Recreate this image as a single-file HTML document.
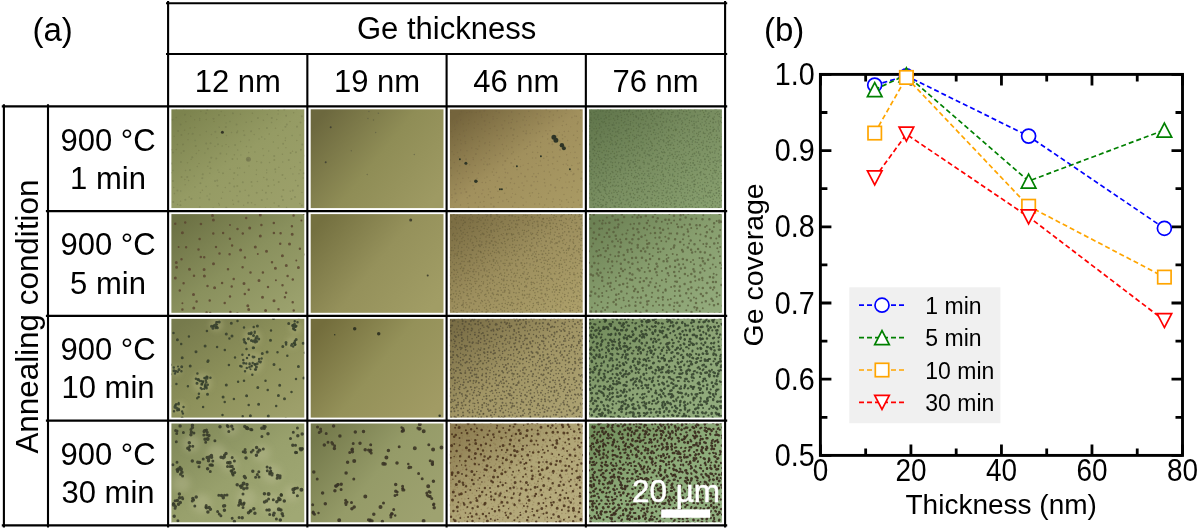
<!DOCTYPE html>
<html><head><meta charset="utf-8"><title>Ge coverage figure</title>
<style>html,body{margin:0;padding:0;background:#fff;width:1200px;height:532px;overflow:hidden}svg{display:block}</style></head>
<body><svg width="1200" height="532" viewBox="0 0 1200 532" font-family="'Liberation Sans', Arial, sans-serif">
<defs><linearGradient id="g00" x1="0" y1="0" x2="1" y2="1"><stop offset="0.06" stop-color="#7c834e"/><stop offset="0.5" stop-color="#959b64"/><stop offset="0.93" stop-color="#9ca06a"/></linearGradient><clipPath id="c00"><rect x="171.4" y="109.3" width="132.9" height="98.8"/></clipPath><filter id="f000" filterUnits="userSpaceOnUse" x="167.4" y="105.3" width="140.9" height="106.8"><feGaussianBlur stdDeviation="0.5"/></filter><filter id="f001" filterUnits="userSpaceOnUse" x="167.4" y="105.3" width="140.9" height="106.8"><feGaussianBlur stdDeviation="0.4"/></filter><filter id="f002" filterUnits="userSpaceOnUse" x="167.4" y="105.3" width="140.9" height="106.8"><feGaussianBlur stdDeviation="0.6"/></filter><linearGradient id="g01" x1="0" y1="0.2" x2="1" y2="0.8"><stop offset="0.0" stop-color="#6c683e"/><stop offset="0.5" stop-color="#8f8d56"/><stop offset="1.0" stop-color="#9e9a63"/></linearGradient><clipPath id="c01"><rect x="310.7" y="109.3" width="132.8" height="98.8"/></clipPath><filter id="f010" filterUnits="userSpaceOnUse" x="306.7" y="105.3" width="140.8" height="106.8"><feGaussianBlur stdDeviation="0.5"/></filter><filter id="f011" filterUnits="userSpaceOnUse" x="306.7" y="105.3" width="140.8" height="106.8"><feGaussianBlur stdDeviation="0.5"/></filter><linearGradient id="g02" x1="0" y1="0" x2="1" y2="1"><stop offset="0.06" stop-color="#74643c"/><stop offset="0.5" stop-color="#a1905d"/><stop offset="0.93" stop-color="#a89963"/></linearGradient><clipPath id="c02"><rect x="449.9" y="109.3" width="132.8" height="98.8"/></clipPath><filter id="f020" filterUnits="userSpaceOnUse" x="445.9" y="105.3" width="140.8" height="106.8"><feGaussianBlur stdDeviation="0.5"/></filter><filter id="f021" filterUnits="userSpaceOnUse" x="445.9" y="105.3" width="140.8" height="106.8"><feGaussianBlur stdDeviation="0.4"/></filter><linearGradient id="g03" x1="0" y1="0" x2="1" y2="1"><stop offset="0.06" stop-color="#62774d"/><stop offset="0.5" stop-color="#798e61"/><stop offset="0.93" stop-color="#869d6d"/></linearGradient><clipPath id="c03"><rect x="589.1" y="109.3" width="132.8" height="98.8"/></clipPath><filter id="f030" filterUnits="userSpaceOnUse" x="585.1" y="105.3" width="140.8" height="106.8"><feGaussianBlur stdDeviation="0.5"/></filter><linearGradient id="g10" x1="0" y1="0" x2="1" y2="1"><stop offset="0.06" stop-color="#6c7144"/><stop offset="0.5" stop-color="#89905d"/><stop offset="0.93" stop-color="#9ba16d"/></linearGradient><clipPath id="c10"><rect x="171.4" y="214.1" width="132.9" height="98.7"/></clipPath><filter id="f100" filterUnits="userSpaceOnUse" x="167.4" y="210.1" width="140.9" height="106.7"><feGaussianBlur stdDeviation="0.7"/></filter><linearGradient id="g11" x1="0" y1="0.2" x2="1" y2="0.8"><stop offset="0.0" stop-color="#747040"/><stop offset="0.5" stop-color="#95915b"/><stop offset="1.0" stop-color="#a19d65"/></linearGradient><clipPath id="c11"><rect x="310.7" y="214.1" width="132.8" height="98.7"/></clipPath><filter id="f110" filterUnits="userSpaceOnUse" x="306.7" y="210.1" width="140.8" height="106.7"><feGaussianBlur stdDeviation="0.5"/></filter><linearGradient id="g12" x1="0" y1="0" x2="1" y2="1"><stop offset="0.06" stop-color="#7c6e44"/><stop offset="0.5" stop-color="#9d8f5e"/><stop offset="0.93" stop-color="#ab9e69"/></linearGradient><clipPath id="c12"><rect x="449.9" y="214.1" width="132.8" height="98.7"/></clipPath><filter id="f120" filterUnits="userSpaceOnUse" x="445.9" y="210.1" width="140.8" height="106.7"><feGaussianBlur stdDeviation="0.55"/></filter><linearGradient id="g13" x1="0" y1="0" x2="1" y2="1"><stop offset="0.06" stop-color="#6c8154"/><stop offset="0.5" stop-color="#879e6e"/><stop offset="0.93" stop-color="#92aa7b"/></linearGradient><clipPath id="c13"><rect x="589.1" y="214.1" width="132.8" height="98.7"/></clipPath><filter id="f130" filterUnits="userSpaceOnUse" x="585.1" y="210.1" width="140.8" height="106.7"><feGaussianBlur stdDeviation="0.65"/></filter><linearGradient id="g20" x1="0" y1="0" x2="1" y2="1"><stop offset="0.06" stop-color="#767a4c"/><stop offset="0.5" stop-color="#8d915b"/><stop offset="0.93" stop-color="#9d9f6a"/></linearGradient><clipPath id="c20"><rect x="171.4" y="318.8" width="132.9" height="98.8"/></clipPath><filter id="f200" filterUnits="userSpaceOnUse" x="167.4" y="314.8" width="140.9" height="106.8"><feGaussianBlur stdDeviation="2.5"/></filter><filter id="f201" filterUnits="userSpaceOnUse" x="167.4" y="314.8" width="140.9" height="106.8"><feGaussianBlur stdDeviation="0.7"/></filter><filter id="f202" filterUnits="userSpaceOnUse" x="167.4" y="314.8" width="140.9" height="106.8"><feGaussianBlur stdDeviation="0.7"/></filter><linearGradient id="g21" x1="0" y1="0.2" x2="1" y2="0.8"><stop offset="0.0" stop-color="#736d3c"/><stop offset="0.5" stop-color="#949159"/><stop offset="1.0" stop-color="#a19b64"/></linearGradient><clipPath id="c21"><rect x="310.7" y="318.8" width="132.8" height="98.8"/></clipPath><filter id="f210" filterUnits="userSpaceOnUse" x="306.7" y="314.8" width="140.8" height="106.8"><feGaussianBlur stdDeviation="0.4"/></filter><linearGradient id="g22" x1="0" y1="0" x2="1" y2="1"><stop offset="0.06" stop-color="#7a6e46"/><stop offset="0.5" stop-color="#a19565"/><stop offset="0.93" stop-color="#aba171"/></linearGradient><clipPath id="c22"><rect x="449.9" y="318.8" width="132.8" height="98.8"/></clipPath><filter id="f220" filterUnits="userSpaceOnUse" x="445.9" y="314.8" width="140.8" height="106.8"><feGaussianBlur stdDeviation="0.5"/></filter><linearGradient id="g23" x1="0" y1="0" x2="1" y2="1"><stop offset="0.06" stop-color="#748d5d"/><stop offset="0.5" stop-color="#8ba374"/><stop offset="0.93" stop-color="#92ad7e"/></linearGradient><clipPath id="c23"><rect x="589.1" y="318.8" width="132.8" height="98.8"/></clipPath><filter id="f230" filterUnits="userSpaceOnUse" x="585.1" y="314.8" width="140.8" height="106.8"><feGaussianBlur stdDeviation="0.6"/></filter><linearGradient id="g30" x1="0" y1="0" x2="1" y2="1"><stop offset="0.06" stop-color="#808858"/><stop offset="0.5" stop-color="#98a06c"/><stop offset="0.93" stop-color="#a0a874"/></linearGradient><clipPath id="c30"><rect x="171.4" y="423.5" width="132.9" height="98.8"/></clipPath><filter id="f300" filterUnits="userSpaceOnUse" x="167.4" y="419.5" width="140.9" height="106.8"><feGaussianBlur stdDeviation="3"/></filter><filter id="f301" filterUnits="userSpaceOnUse" x="167.4" y="419.5" width="140.9" height="106.8"><feGaussianBlur stdDeviation="0.75"/></filter><linearGradient id="g31" x1="0" y1="0.2" x2="1" y2="0.8"><stop offset="0.0" stop-color="#74794b"/><stop offset="0.5" stop-color="#959b68"/><stop offset="1.0" stop-color="#9ea270"/></linearGradient><clipPath id="c31"><rect x="310.7" y="423.5" width="132.8" height="98.8"/></clipPath><filter id="f310" filterUnits="userSpaceOnUse" x="306.7" y="419.5" width="140.8" height="106.8"><feGaussianBlur stdDeviation="0.75"/></filter><filter id="f311" filterUnits="userSpaceOnUse" x="306.7" y="419.5" width="140.8" height="106.8"><feGaussianBlur stdDeviation="0.75"/></filter><linearGradient id="g32" x1="0" y1="0" x2="1" y2="1"><stop offset="0.06" stop-color="#8c7c50"/><stop offset="0.5" stop-color="#b0a576"/><stop offset="0.93" stop-color="#b8ad7f"/></linearGradient><clipPath id="c32"><rect x="449.9" y="423.5" width="132.8" height="98.8"/></clipPath><filter id="f320" filterUnits="userSpaceOnUse" x="445.9" y="419.5" width="140.8" height="106.8"><feGaussianBlur stdDeviation="0.6"/></filter><filter id="f321" filterUnits="userSpaceOnUse" x="445.9" y="419.5" width="140.8" height="106.8"><feGaussianBlur stdDeviation="0.6"/></filter><linearGradient id="g33" x1="0" y1="0" x2="1" y2="1"><stop offset="0.06" stop-color="#718d5b"/><stop offset="0.5" stop-color="#8dab79"/><stop offset="0.93" stop-color="#92b081"/></linearGradient><clipPath id="c33"><rect x="589.1" y="423.5" width="132.8" height="98.8"/></clipPath><filter id="f330" filterUnits="userSpaceOnUse" x="585.1" y="419.5" width="140.8" height="106.8"><feGaussianBlur stdDeviation="0.7"/></filter></defs>
<rect x="171.4" y="109.3" width="132.9" height="98.8" fill="url(#g00)"/><g clip-path="url(#c00)"><g filter="url(#f000)"><path d="M176.3 109.5h0M183.7 109.3h0M193.5 106.7h0M200.9 111.3h0M221.2 111.5h0M229.3 107.0h0M240.8 107.4h0M247.2 108.5h0M251.3 106.7h0M262.5 108.9h0M269.4 109.0h0M278.2 110.5h0M304.3 109.2h0M176.2 117.4h0M190.7 116.3h0M199.7 118.5h0M224.8 115.6h0M240.4 114.3h0M252.4 113.3h0M267.3 114.5h0M278.1 113.9h0M293.7 112.8h0M185.8 121.7h0M194.7 119.7h0M199.7 120.3h0M206.2 119.4h0M214.0 121.5h0M226.1 123.0h0M229.9 121.4h0M246.2 122.3h0M251.5 121.4h0M263.4 120.3h0M271.6 122.5h0M276.7 119.5h0M290.0 121.6h0M184.6 130.3h0M190.3 128.0h0M194.8 127.6h0M206.3 131.6h0M219.3 127.2h0M237.6 130.9h0M243.6 130.7h0M259.2 128.7h0M275.5 128.3h0M282.8 130.2h0M305.5 129.8h0M310.4 126.7h0M174.2 136.3h0M188.4 133.7h0M200.0 134.9h0M211.4 134.5h0M216.9 137.8h0M226.4 135.4h0M231.5 132.5h0M254.2 134.4h0M261.7 137.1h0M269.3 133.9h0M278.0 135.4h0M285.5 137.9h0M292.1 135.4h0M300.1 135.1h0M177.4 144.6h0M188.0 139.7h0M195.1 140.4h0M226.0 144.6h0M240.6 141.5h0M249.2 140.1h0M259.0 139.0h0M264.8 139.0h0M273.4 142.0h0M285.3 140.5h0M296.8 140.5h0M171.8 149.7h0M176.2 149.6h0M198.8 150.6h0M215.0 146.2h0M222.3 146.1h0M228.7 146.7h0M237.7 150.0h0M246.4 146.5h0M251.0 147.0h0M262.8 148.8h0M268.7 151.1h0M278.3 148.0h0M285.9 147.8h0M292.5 151.3h0M305.8 147.5h0M181.2 153.0h0M196.3 153.4h0M204.9 152.9h0M226.5 154.1h0M234.4 154.8h0M240.9 155.0h0M248.7 152.5h0M254.9 152.1h0M263.5 155.5h0M282.4 154.3h0M312.0 152.8h0M187.5 162.7h0M191.1 159.3h0M199.0 163.5h0M225.4 161.5h0M237.4 158.9h0M256.8 161.5h0M269.6 162.4h0M282.7 161.9h0M300.1 162.6h0M306.5 161.3h0M172.9 170.4h0M185.5 170.6h0M197.3 166.6h0M207.8 166.3h0M217.9 169.9h0M230.0 169.2h0M237.5 167.9h0M239.7 168.0h0M249.0 165.9h0M256.5 170.1h0M266.7 170.1h0M278.9 167.3h0M290.6 168.6h0M294.7 166.7h0M300.3 170.0h0M312.8 166.5h0M171.5 172.7h0M194.2 175.9h0M209.8 173.3h0M219.0 172.3h0M237.7 174.9h0M244.4 172.5h0M256.3 174.5h0M263.8 177.5h0M266.7 172.7h0M275.5 172.1h0M292.9 174.0h0M299.0 173.8h0M184.8 179.4h0M188.6 180.5h0M233.6 178.7h0M257.4 181.4h0M273.5 179.9h0M285.3 178.5h0M295.6 180.4h0M303.3 178.1h0M173.7 187.5h0M185.2 184.7h0M194.9 187.1h0M202.4 190.2h0M206.1 186.6h0M225.3 187.6h0M245.2 190.3h0M252.0 185.9h0M262.4 190.3h0M274.3 184.9h0M174.4 193.4h0M180.7 191.1h0M189.3 196.9h0M200.4 192.4h0M207.1 196.1h0M209.9 194.0h0M222.7 192.3h0M230.0 191.3h0M237.0 195.7h0M271.5 192.8h0M290.3 191.3h0M302.0 192.6h0M310.1 196.7h0M180.5 201.3h0M199.9 198.0h0M218.7 203.6h0M221.4 198.2h0M232.7 200.3h0M251.6 202.7h0M267.1 199.1h0M274.3 203.0h0M299.8 203.6h0M177.6 204.4h0M190.6 209.8h0M199.8 206.9h0M206.8 209.8h0M213.2 207.9h0M219.4 205.0h0M233.4 204.2h0M243.7 205.3h0M248.4 208.9h0M255.0 204.8h0M265.5 208.0h0M270.6 208.3h0M286.5 207.6h0M170.9 215.6h0M181.2 213.5h0M200.6 213.7h0M226.7 211.9h0M234.1 216.6h0M236.2 216.3h0M251.9 215.4h0M267.0 212.0h0M276.5 213.0h0M296.1 215.7h0" stroke="#606440" stroke-opacity="0.3" stroke-width="1.5" stroke-linecap="round" fill="none"/><path d="M170.3 107.2h0M207.2 110.1h0M216.9 108.7h0M284.3 109.5h0M292.8 108.0h0M296.6 108.8h0M184.9 114.7h0M206.1 113.2h0M213.5 118.8h0M218.9 115.1h0M232.9 113.2h0M257.9 118.1h0M271.8 118.1h0M286.1 115.7h0M301.9 116.2h0M311.3 115.9h0M172.5 119.7h0M180.6 124.6h0M236.6 124.4h0M286.8 124.5h0M300.5 122.5h0M305.4 120.7h0M178.1 131.0h0M215.3 131.8h0M225.8 127.1h0M251.1 131.3h0M266.9 127.9h0M285.4 126.8h0M297.0 126.8h0M181.5 135.0h0M192.7 133.8h0M237.0 132.4h0M244.4 135.2h0M306.3 138.0h0M183.0 144.6h0M206.2 143.6h0M210.6 143.2h0M218.0 144.2h0M235.1 144.9h0M283.1 143.7h0M302.2 144.4h0M308.7 139.8h0M183.8 151.1h0M195.7 146.0h0M207.9 148.8h0M300.9 149.7h0M172.9 152.4h0M192.2 157.2h0M211.2 157.7h0M220.4 153.4h0M274.2 155.9h0M290.6 152.9h0M296.0 152.2h0M305.0 155.7h0M171.4 163.5h0M180.9 162.0h0M209.7 162.3h0M216.3 158.5h0M232.4 158.9h0M247.8 159.7h0M261.3 162.6h0M274.3 160.0h0M288.8 160.1h0M189.9 169.9h0M210.5 168.2h0M275.2 169.3h0M181.6 176.9h0M187.2 177.0h0M202.8 174.3h0M223.0 173.3h0M234.3 173.1h0M282.5 175.0h0M303.8 173.2h0M172.9 181.1h0M200.4 183.2h0M202.3 178.3h0M215.0 180.9h0M217.2 180.4h0M229.6 183.2h0M242.8 182.2h0M251.5 182.0h0M266.8 179.5h0M278.7 181.9h0M309.9 183.8h0M177.4 190.4h0M217.5 185.8h0M234.2 186.5h0M237.3 185.9h0M268.3 185.9h0M283.3 190.0h0M292.8 190.6h0M297.9 185.7h0M307.9 184.8h0M239.9 191.5h0M248.7 195.6h0M256.7 192.8h0M265.9 192.7h0M281.7 196.6h0M295.0 196.9h0M173.2 202.1h0M185.3 199.8h0M191.4 198.8h0M209.2 199.6h0M238.4 201.4h0M247.9 202.7h0M261.8 199.9h0M282.9 200.0h0M291.4 199.0h0M306.2 202.6h0M180.4 205.3h0M226.2 207.8h0M278.8 206.0h0M294.6 209.4h0M301.8 205.4h0M308.4 204.2h0M183.5 214.0h0M196.4 211.2h0M207.6 213.8h0M214.1 213.6h0M248.8 214.4h0M260.8 215.8h0M282.4 215.0h0M288.6 214.1h0M307.0 214.0h0" stroke="#606440" stroke-opacity="0.3" stroke-width="2.0" stroke-linecap="round" fill="none"/></g><g filter="url(#f001)"><path d="M222.4 132.3h0" stroke="#2a2a20" stroke-opacity="0.9" stroke-width="3.0" stroke-linecap="round" fill="none"/></g><g filter="url(#f002)"><path d="M248.4 159.3h0" stroke="#6a6a48" stroke-opacity="0.6" stroke-width="5.0" stroke-linecap="round" fill="none"/></g></g><rect x="310.7" y="109.3" width="132.8" height="98.8" fill="url(#g01)"/><g clip-path="url(#c01)"><g filter="url(#f010)"><path d="M351.3 150.8h0M367.2 174.4h0M368.9 111.6h0M375.7 132.5h0M414.3 154.6h0M373.5 119.9h0M367.9 118.4h0M378.4 113.3h0" stroke="#505040" stroke-opacity="0.5" stroke-width="1.5" stroke-linecap="round" fill="none"/></g><g filter="url(#f011)"><path d="M330.7 127.3h0M325.7 162.3h0" stroke="#3a3a30" stroke-opacity="0.8" stroke-width="2.0" stroke-linecap="round" fill="none"/></g></g><rect x="449.9" y="109.3" width="132.8" height="98.8" fill="url(#g02)"/><g clip-path="url(#c02)"><g filter="url(#f020)"><path d="M515.9 108.4h0M471.7 112.1h0M529.6 116.5h0M540.7 115.9h0M565.9 113.5h0M526.5 120.4h0M536.0 118.0h0M544.1 117.4h0M580.4 117.8h0M520.2 127.3h0M570.8 126.9h0M532.4 129.6h0M482.8 137.8h0M504.6 138.2h0M508.5 149.3h0M565.0 148.6h0M570.7 152.6h0M583.7 151.0h0M485.1 161.6h0M520.3 159.4h0M536.1 163.5h0M588.6 163.9h0M523.1 165.3h0M448.9 174.3h0M457.7 178.7h0M484.7 178.2h0M559.3 180.7h0M565.8 182.1h0M551.0 185.2h0M512.4 193.5h0M571.4 190.6h0M526.1 202.1h0M453.8 207.7h0M523.0 209.8h0M543.1 207.2h0" stroke="#6a5a40" stroke-opacity="0.3" stroke-width="1.0" stroke-linecap="round" fill="none"/><path d="M447.8 110.5h0M456.0 107.1h0M461.3 111.6h0M469.7 111.8h0M479.9 111.6h0M489.7 108.6h0M496.2 111.3h0M505.5 107.5h0M512.0 107.8h0M528.8 111.3h0M535.3 107.4h0M540.6 108.6h0M546.2 109.7h0M549.9 111.8h0M557.4 110.8h0M566.4 109.7h0M571.2 109.0h0M577.1 107.0h0M588.3 110.1h0M450.4 112.2h0M459.5 114.2h0M466.9 112.7h0M476.2 112.6h0M481.5 114.9h0M487.4 115.1h0M493.1 116.7h0M499.1 112.5h0M508.8 115.9h0M511.7 112.1h0M519.2 113.8h0M524.6 116.7h0M537.1 114.0h0M549.2 116.7h0M553.4 115.1h0M561.6 116.1h0M574.8 115.9h0M576.4 116.2h0M584.7 115.7h0M589.5 112.5h0M447.6 118.9h0M456.9 121.5h0M460.7 120.0h0M469.3 119.9h0M474.6 122.1h0M481.8 117.3h0M493.1 118.9h0M497.0 118.4h0M504.6 120.7h0M512.3 119.6h0M516.9 121.5h0M523.0 120.1h0M537.9 121.9h0M552.9 120.4h0M559.1 117.6h0M563.2 121.3h0M571.9 117.6h0M578.0 122.0h0M589.6 121.3h0M454.5 125.6h0M456.9 122.9h0M463.4 124.1h0M468.5 123.7h0M478.0 124.3h0M485.2 125.0h0M489.5 122.6h0M494.6 126.3h0M501.9 125.1h0M508.7 122.9h0M511.3 122.5h0M524.9 124.9h0M529.3 124.9h0M541.8 123.5h0M548.9 123.0h0M552.8 126.4h0M562.3 125.6h0M566.4 124.4h0M577.4 123.8h0M584.9 124.4h0M589.6 124.8h0M451.2 131.4h0M455.1 129.3h0M463.6 131.0h0M466.2 129.9h0M474.3 128.3h0M481.8 128.9h0M484.9 131.2h0M490.2 128.5h0M497.0 130.3h0M523.4 131.3h0M526.4 130.9h0M539.4 131.6h0M545.9 130.8h0M550.1 130.7h0M559.1 132.2h0M564.3 131.4h0M568.5 131.3h0M577.3 131.2h0M582.8 130.9h0M587.0 130.8h0M452.5 136.8h0M459.5 134.2h0M464.7 136.0h0M471.8 137.6h0M477.7 136.8h0M489.1 133.7h0M497.1 135.5h0M501.3 135.6h0M507.0 136.1h0M517.5 136.3h0M530.2 133.2h0M536.4 133.0h0M542.5 136.4h0M547.7 134.0h0M557.1 135.5h0M562.4 134.9h0M565.0 136.8h0M573.6 135.2h0M577.5 137.7h0M585.6 137.0h0M590.7 134.4h0M448.0 142.3h0M457.7 139.5h0M460.7 140.3h0M465.4 141.7h0M472.6 139.6h0M479.5 141.3h0M485.2 142.8h0M489.7 142.3h0M499.3 138.8h0M512.2 141.4h0M513.9 138.8h0M523.3 139.9h0M529.9 142.1h0M535.9 141.2h0M540.7 142.6h0M547.6 139.1h0M552.1 141.8h0M559.8 140.9h0M562.6 138.8h0M567.7 140.5h0M575.9 140.6h0M583.7 138.2h0M587.7 140.9h0M454.6 145.2h0M461.2 143.7h0M465.6 143.5h0M471.8 148.0h0M479.3 145.9h0M484.9 143.5h0M489.5 145.0h0M494.2 145.7h0M502.3 144.4h0M506.5 146.1h0M511.9 147.5h0M518.9 144.7h0M527.3 146.6h0M530.1 144.9h0M537.3 146.5h0M540.6 147.0h0M549.1 143.6h0M561.4 146.6h0M568.9 146.4h0M573.5 146.8h0M579.8 144.4h0M584.7 147.2h0M589.3 143.5h0M452.0 151.8h0M457.5 152.5h0M460.7 150.1h0M467.0 150.7h0M476.1 148.8h0M477.6 149.2h0M486.3 153.2h0M489.5 150.5h0M500.1 153.5h0M503.5 149.1h0M513.4 152.0h0M524.2 149.0h0M526.0 148.6h0M532.6 152.2h0M537.7 152.4h0M547.7 152.2h0M552.5 152.1h0M575.0 152.2h0M587.2 151.4h0M453.8 154.5h0M458.2 157.0h0M464.5 155.7h0M473.1 157.7h0M483.9 157.9h0M489.4 158.7h0M495.4 155.3h0M502.8 155.7h0M507.4 158.3h0M511.8 153.8h0M518.5 156.7h0M526.8 154.0h0M532.5 158.1h0M535.8 158.0h0M543.8 158.3h0M546.8 156.5h0M559.6 156.8h0M566.7 154.8h0M574.2 157.7h0M576.8 157.8h0M583.6 156.7h0M592.8 156.4h0M450.3 159.9h0M454.3 162.5h0M462.2 161.0h0M473.3 159.5h0M481.3 159.8h0M489.6 164.0h0M497.8 161.8h0M514.7 159.2h0M528.2 163.4h0M540.4 161.0h0M548.2 160.3h0M552.6 163.8h0M557.4 161.2h0M566.2 164.0h0M567.6 160.3h0M577.9 163.5h0M579.6 162.9h0M459.8 165.7h0M466.2 164.7h0M469.7 164.8h0M475.2 165.4h0M483.8 164.3h0M493.5 168.9h0M502.8 164.9h0M504.9 168.9h0M513.5 166.5h0M520.5 166.6h0M532.0 167.0h0M538.8 165.6h0M541.2 165.6h0M548.1 165.1h0M554.0 168.7h0M563.3 164.5h0M567.7 165.3h0M571.8 165.5h0M587.0 164.7h0M592.9 164.5h0M457.4 171.1h0M459.4 173.6h0M466.3 171.6h0M472.5 172.3h0M478.3 173.3h0M484.4 169.8h0M492.4 171.9h0M496.4 172.5h0M505.5 172.4h0M507.7 173.1h0M517.0 169.7h0M521.1 173.6h0M527.9 169.5h0M533.8 173.8h0M538.3 173.6h0M544.2 171.3h0M549.4 172.0h0M558.0 170.0h0M565.5 173.8h0M571.0 171.3h0M581.9 172.0h0M451.5 175.6h0M462.9 178.2h0M468.5 177.7h0M477.0 178.2h0M487.0 177.1h0M493.8 175.3h0M499.1 177.6h0M505.1 177.5h0M518.3 176.8h0M532.3 176.4h0M544.4 179.2h0M550.6 174.9h0M557.2 179.3h0M560.5 177.8h0M567.1 175.0h0M572.9 174.8h0M585.6 178.7h0M592.8 174.8h0M448.7 183.3h0M456.1 184.5h0M460.7 182.5h0M470.2 181.3h0M474.6 180.5h0M482.2 182.4h0M485.7 182.5h0M490.0 180.5h0M497.4 181.3h0M501.8 182.6h0M510.4 182.7h0M514.4 183.4h0M522.1 182.9h0M527.0 181.1h0M534.0 181.8h0M537.5 181.6h0M544.6 182.7h0M550.8 184.8h0M569.3 182.1h0M583.1 180.7h0M587.2 183.3h0M454.6 189.2h0M460.1 188.8h0M464.8 189.0h0M473.0 185.7h0M474.4 188.9h0M482.9 189.9h0M488.5 189.0h0M495.4 187.0h0M500.7 188.7h0M506.4 187.9h0M512.0 189.0h0M518.9 187.3h0M523.9 185.8h0M536.0 189.3h0M545.2 186.1h0M567.0 187.7h0M572.3 186.9h0M578.2 189.8h0M585.0 185.6h0M590.4 187.9h0M451.8 195.1h0M461.1 193.0h0M475.5 192.9h0M481.9 193.8h0M488.4 194.8h0M490.2 191.8h0M497.9 191.3h0M504.6 193.3h0M515.5 194.3h0M522.9 190.3h0M529.6 193.3h0M532.4 192.8h0M538.7 193.6h0M548.4 193.2h0M550.0 191.1h0M555.9 190.8h0M564.0 194.4h0M577.3 191.9h0M581.2 191.2h0M585.9 194.8h0M452.1 197.8h0M456.7 200.0h0M467.2 197.7h0M478.7 197.1h0M484.5 197.1h0M493.6 197.5h0M499.5 197.1h0M506.8 199.5h0M511.3 197.3h0M521.3 197.0h0M523.0 198.2h0M530.4 195.9h0M538.5 197.3h0M541.4 197.0h0M546.6 198.9h0M553.2 199.1h0M559.7 199.7h0M566.6 199.7h0M571.2 197.3h0M578.3 200.3h0M587.2 198.1h0M590.7 196.2h0M448.7 205.3h0M455.2 202.0h0M460.5 205.1h0M468.0 203.5h0M475.3 202.7h0M480.2 202.3h0M483.8 201.6h0M491.0 204.1h0M498.2 202.6h0M502.9 201.1h0M508.5 201.4h0M514.8 202.8h0M523.3 205.2h0M534.8 204.1h0M539.5 204.1h0M544.6 205.0h0M552.5 201.7h0M560.0 204.4h0M561.6 201.0h0M568.4 202.3h0M573.6 202.3h0M580.3 205.0h0M589.0 202.0h0M460.6 209.9h0M462.6 210.3h0M468.6 207.2h0M478.4 207.0h0M484.1 206.4h0M488.4 209.7h0M500.5 210.6h0M508.1 210.1h0M512.7 206.3h0M531.9 210.0h0M537.1 210.8h0M548.2 208.0h0M554.0 206.7h0M561.8 207.2h0M572.2 207.5h0M577.1 208.8h0M586.5 208.7h0M589.2 209.3h0" stroke="#6a5a40" stroke-opacity="0.3" stroke-width="1.5" stroke-linecap="round" fill="none"/><path d="M475.5 107.8h0M484.2 110.7h0M520.3 107.6h0M580.7 110.0h0M484.6 121.0h0M538.6 123.8h0M503.0 128.6h0M511.0 128.2h0M513.9 129.6h0M513.0 135.0h0M526.2 133.5h0M552.4 144.3h0M560.1 149.8h0M475.9 154.1h0M553.4 157.5h0M466.1 159.2h0M505.3 161.1h0M511.2 163.1h0M451.1 168.0h0M487.4 164.4h0M578.2 169.2h0M573.7 173.8h0M588.1 169.5h0M511.2 178.8h0M525.0 176.6h0M536.1 176.8h0M581.2 178.5h0M573.9 181.0h0M531.3 185.5h0M555.2 187.6h0M562.3 187.8h0M455.6 193.4h0M466.3 191.9h0M469.6 195.8h0M491.2 198.0h0M493.8 206.4h0M518.5 208.5h0M567.0 208.2h0" stroke="#6a5a40" stroke-opacity="0.3" stroke-width="2.0" stroke-linecap="round" fill="none"/></g><g filter="url(#f021)"><path d="M459.9 159.3h0M540.9 156.3h0M569.9 169.3h0M516.9 166.3h0M499.9 189.3h0M501.9 189.3h0" stroke="#283024" stroke-opacity="0.95" stroke-width="2.0" stroke-linecap="round" fill="none"/><path d="M465.9 163.3h0" stroke="#283024" stroke-opacity="0.95" stroke-width="3.0" stroke-linecap="round" fill="none"/><path d="M475.9 181.3h0" stroke="#283024" stroke-opacity="0.95" stroke-width="3.5" stroke-linecap="round" fill="none"/><path d="M563.9 148.3h0" stroke="#283024" stroke-opacity="0.95" stroke-width="4.0" stroke-linecap="round" fill="none"/><path d="M561.9 145.3h0" stroke="#283024" stroke-opacity="0.95" stroke-width="4.5" stroke-linecap="round" fill="none"/><path d="M553.9 137.3h0M555.9 140.3h0" stroke="#283024" stroke-opacity="0.95" stroke-width="5.0" stroke-linecap="round" fill="none"/></g></g><rect x="589.1" y="109.3" width="132.8" height="98.8" fill="url(#g03)"/><g clip-path="url(#c03)"><g filter="url(#f030)"><path d="M604.8 108.4h0M613.2 112.3h0M677.4 111.1h0M716.6 112.3h0M603.1 116.1h0M624.5 114.6h0M665.4 114.2h0M700.0 114.6h0M633.4 116.8h0M697.6 117.1h0M698.5 118.9h0M610.9 119.3h0M655.9 121.7h0M593.5 122.9h0M596.4 123.4h0M613.5 122.9h0M632.8 122.8h0M674.5 123.2h0M702.1 122.4h0M592.2 127.0h0M595.4 126.4h0M624.8 125.1h0M678.0 127.1h0M686.3 126.4h0M701.4 125.9h0M603.6 129.8h0M626.7 129.3h0M638.7 129.9h0M604.2 132.0h0M656.0 132.8h0M666.5 132.2h0M647.4 133.9h0M677.4 133.8h0M689.6 134.9h0M694.0 133.9h0M717.5 135.1h0M722.0 134.2h0M662.0 136.5h0M679.0 136.8h0M601.1 138.7h0M638.2 139.7h0M668.2 138.6h0M684.4 140.5h0M628.1 142.2h0M674.8 141.6h0M604.5 144.7h0M619.5 144.7h0M623.1 145.5h0M644.1 144.8h0M654.5 146.0h0M679.5 146.3h0M696.6 146.5h0M605.2 148.7h0M612.0 149.1h0M636.4 147.7h0M678.2 147.2h0M681.1 148.8h0M715.1 148.4h0M671.1 150.5h0M685.7 152.3h0M665.2 152.7h0M607.9 155.9h0M651.4 155.6h0M616.7 158.6h0M643.8 160.7h0M645.6 158.4h0M637.8 162.7h0M647.7 163.0h0M618.5 163.7h0M675.3 165.1h0M698.2 164.2h0M599.3 168.8h0M616.2 166.9h0M644.1 167.3h0M667.2 168.2h0M637.4 169.9h0M640.1 170.2h0M659.7 170.1h0M679.0 170.2h0M704.3 169.8h0M656.4 177.0h0M660.7 175.3h0M696.9 175.4h0M601.3 180.1h0M628.2 179.5h0M654.2 177.9h0M670.9 178.7h0M677.4 179.4h0M685.8 178.8h0M689.0 178.2h0M710.1 177.9h0M624.7 182.2h0M700.2 182.6h0M621.6 184.3h0M643.9 183.4h0M657.3 184.8h0M706.5 185.6h0M708.7 185.4h0M625.2 186.5h0M628.8 189.0h0M661.2 190.1h0M674.4 189.3h0M721.6 191.3h0M596.2 192.8h0M596.9 196.3h0M620.1 195.9h0M626.8 195.0h0M630.3 195.0h0M641.7 196.8h0M676.2 195.4h0M726.4 194.5h0M656.7 198.0h0M591.2 200.2h0M621.7 202.4h0M647.2 202.0h0M588.4 205.2h0M637.2 205.2h0M651.2 204.3h0M591.0 207.6h0M624.9 207.8h0M661.4 206.6h0M671.7 205.9h0M606.3 210.0h0M628.5 209.5h0M654.2 209.6h0M655.9 209.1h0M669.9 208.5h0M677.8 209.1h0M719.9 208.5h0" stroke="#4a5a38" stroke-opacity="0.45" stroke-width="1.0" stroke-linecap="round" fill="none"/><path d="M589.0 110.0h0M591.3 108.8h0M594.8 108.2h0M598.0 109.8h0M600.9 108.8h0M607.1 110.6h0M614.9 108.3h0M617.8 108.5h0M619.9 110.4h0M624.7 110.4h0M626.9 108.6h0M629.5 110.0h0M633.4 108.5h0M638.0 110.4h0M641.1 110.2h0M643.1 108.5h0M646.3 109.0h0M649.6 110.2h0M652.0 109.5h0M657.2 109.8h0M660.7 109.3h0M661.9 108.8h0M664.9 109.8h0M669.0 110.5h0M671.2 109.1h0M676.1 108.0h0M679.7 110.0h0M681.4 109.7h0M684.9 108.9h0M688.8 110.1h0M690.7 108.8h0M694.9 108.9h0M696.9 108.8h0M702.4 110.4h0M705.6 110.5h0M708.4 108.2h0M711.0 108.8h0M715.1 109.2h0M716.6 108.9h0M719.1 108.5h0M723.4 108.2h0M590.4 112.3h0M594.0 112.3h0M596.1 111.3h0M600.5 111.1h0M602.9 111.0h0M606.1 112.1h0M609.2 112.3h0M616.1 111.0h0M620.5 112.2h0M626.5 111.0h0M632.5 112.8h0M636.3 110.9h0M638.4 110.8h0M641.2 111.6h0M645.0 113.1h0M652.5 111.2h0M654.3 112.8h0M658.8 111.1h0M661.8 113.2h0M663.2 112.4h0M667.7 112.9h0M671.9 112.5h0M673.2 111.9h0M679.3 112.9h0M683.7 111.5h0M686.4 111.2h0M690.0 112.6h0M694.3 110.8h0M695.4 112.1h0M700.3 110.9h0M703.6 112.6h0M705.9 111.2h0M708.9 113.1h0M711.2 111.6h0M717.9 111.7h0M722.2 111.8h0M723.9 112.3h0M591.2 113.9h0M595.0 114.3h0M598.1 115.0h0M605.3 115.6h0M609.1 115.2h0M611.2 114.3h0M615.7 116.0h0M617.4 115.6h0M621.2 115.2h0M630.7 114.5h0M633.3 114.5h0M635.9 115.8h0M640.2 115.0h0M642.7 113.7h0M646.3 115.5h0M653.4 113.8h0M656.6 116.1h0M660.3 114.7h0M661.6 114.8h0M668.3 114.3h0M671.6 114.6h0M675.8 115.8h0M682.2 113.8h0M686.1 114.5h0M687.5 115.0h0M691.9 116.0h0M694.3 115.5h0M697.7 115.3h0M704.7 114.4h0M707.8 114.2h0M709.5 116.0h0M715.2 113.7h0M717.7 114.4h0M719.5 113.9h0M722.5 115.7h0M590.9 117.9h0M594.4 117.9h0M597.8 117.0h0M601.0 118.4h0M604.3 118.9h0M609.0 116.4h0M613.6 118.4h0M617.6 116.9h0M618.5 116.4h0M621.6 117.7h0M625.1 118.8h0M628.2 116.8h0M638.7 118.0h0M642.7 117.5h0M646.2 116.6h0M647.2 118.0h0M652.5 116.5h0M658.3 116.9h0M660.5 117.5h0M663.6 118.3h0M667.0 118.9h0M670.9 116.8h0M674.9 117.0h0M678.0 117.1h0M680.3 118.7h0M684.0 117.9h0M687.0 118.6h0M690.9 117.3h0M694.1 116.8h0M703.8 116.7h0M704.9 116.8h0M714.3 117.0h0M719.2 116.5h0M721.3 117.5h0M723.9 118.9h0M590.1 119.4h0M591.4 120.3h0M596.0 119.5h0M598.8 119.4h0M601.9 121.5h0M604.4 121.7h0M609.0 119.8h0M614.8 120.2h0M617.6 119.2h0M621.5 120.6h0M624.8 121.7h0M628.1 120.2h0M630.5 121.7h0M633.7 120.2h0M638.4 119.1h0M641.5 119.8h0M643.2 119.8h0M645.8 121.3h0M651.0 119.3h0M652.7 120.8h0M660.2 121.4h0M663.0 121.7h0M666.3 121.1h0M669.7 120.2h0M672.6 120.9h0M675.9 120.5h0M679.0 119.8h0M681.9 121.0h0M685.1 119.7h0M689.5 120.5h0M691.6 121.3h0M693.9 121.3h0M698.3 121.3h0M702.1 119.2h0M705.2 121.3h0M706.6 119.8h0M710.4 121.2h0M713.8 119.4h0M718.4 120.9h0M720.3 121.2h0M722.6 120.9h0M590.8 122.5h0M599.5 123.8h0M603.1 122.5h0M605.7 123.6h0M609.2 123.0h0M616.2 122.9h0M619.0 123.0h0M623.6 122.8h0M626.2 124.3h0M630.4 123.8h0M636.2 122.9h0M638.7 124.3h0M640.7 123.5h0M645.1 124.1h0M648.3 124.2h0M651.5 123.3h0M655.2 123.8h0M656.8 123.7h0M661.8 123.9h0M663.6 122.1h0M666.5 122.1h0M670.9 122.1h0M677.6 123.0h0M681.6 124.0h0M682.6 122.8h0M685.5 124.5h0M689.3 122.7h0M694.1 123.4h0M696.1 122.1h0M700.5 124.0h0M706.0 122.9h0M709.1 123.4h0M715.7 122.1h0M718.8 123.0h0M721.5 122.6h0M724.6 123.8h0M599.7 124.9h0M601.1 127.1h0M605.9 126.0h0M608.8 125.5h0M614.0 125.0h0M618.7 127.2h0M621.6 125.4h0M628.1 124.8h0M630.2 125.3h0M633.5 126.2h0M638.2 125.5h0M643.3 124.8h0M647.1 125.3h0M648.9 125.9h0M653.0 126.5h0M660.8 127.1h0M662.2 125.6h0M665.9 127.1h0M669.1 127.0h0M672.5 124.9h0M675.0 127.0h0M682.2 127.2h0M687.9 125.9h0M692.2 125.2h0M694.2 124.9h0M696.9 126.1h0M704.4 125.0h0M706.6 126.2h0M710.4 126.4h0M713.1 127.2h0M718.0 127.0h0M719.4 124.9h0M722.6 126.0h0M589.8 128.7h0M594.0 128.8h0M596.4 128.5h0M599.4 128.1h0M607.9 128.8h0M610.1 129.3h0M613.8 127.9h0M615.1 128.5h0M619.0 129.8h0M623.0 128.1h0M631.2 129.1h0M636.4 128.4h0M643.1 128.6h0M644.1 128.1h0M648.8 127.9h0M650.6 128.0h0M658.7 128.7h0M661.9 129.8h0M664.7 128.0h0M668.4 129.5h0M671.3 128.4h0M675.2 129.2h0M681.4 129.4h0M684.3 129.0h0M687.6 129.5h0M689.4 130.0h0M697.1 128.1h0M698.9 128.0h0M702.1 128.8h0M706.4 129.3h0M709.9 129.6h0M713.5 129.6h0M714.5 129.2h0M718.3 129.0h0M722.7 127.5h0M723.9 127.8h0M588.9 131.8h0M591.9 130.8h0M596.4 131.9h0M597.7 131.0h0M601.8 132.0h0M609.2 130.8h0M612.7 131.2h0M615.8 131.9h0M621.2 132.8h0M625.2 130.7h0M630.6 132.4h0M633.6 130.5h0M638.1 131.6h0M641.5 132.6h0M642.4 131.9h0M647.9 131.2h0M650.3 131.2h0M653.6 132.6h0M660.4 132.0h0M662.6 132.2h0M673.4 130.6h0M675.7 130.4h0M679.4 131.9h0M682.6 131.0h0M684.9 132.8h0M689.1 132.0h0M692.8 132.1h0M694.2 130.7h0M698.8 132.3h0M700.2 131.6h0M703.5 132.2h0M707.1 130.4h0M716.4 131.1h0M719.3 130.9h0M723.3 132.8h0M590.0 135.4h0M594.8 134.7h0M596.7 133.5h0M600.3 134.5h0M604.2 133.8h0M607.8 134.4h0M610.3 133.7h0M612.0 135.2h0M616.0 135.5h0M618.9 133.2h0M623.4 134.8h0M626.8 133.3h0M629.5 135.6h0M632.8 135.1h0M636.7 135.0h0M638.5 135.2h0M641.1 135.3h0M645.2 134.8h0M651.3 134.4h0M655.2 134.6h0M658.1 133.8h0M661.9 135.2h0M664.8 135.0h0M668.6 135.4h0M671.6 134.7h0M673.0 134.9h0M680.6 135.2h0M682.8 133.6h0M687.2 135.6h0M696.7 133.4h0M698.4 134.2h0M703.5 133.2h0M704.9 133.6h0M708.7 133.9h0M711.6 135.1h0M716.4 135.2h0M725.5 134.9h0M588.9 137.2h0M596.3 138.3h0M600.0 136.0h0M601.0 137.0h0M605.7 137.0h0M607.5 136.9h0M610.8 137.8h0M614.6 136.4h0M617.2 136.5h0M621.7 138.4h0M625.5 138.2h0M628.1 136.0h0M629.5 138.1h0M634.3 136.5h0M639.8 136.0h0M643.2 138.2h0M646.6 136.1h0M649.1 137.9h0M654.4 138.2h0M656.3 138.0h0M658.5 137.3h0M670.4 137.0h0M672.0 138.0h0M674.6 135.9h0M682.8 137.9h0M684.0 138.2h0M687.2 136.7h0M692.6 137.1h0M694.0 136.5h0M697.6 136.1h0M700.2 136.4h0M704.6 137.5h0M707.4 136.0h0M709.6 137.1h0M714.4 137.7h0M717.5 137.6h0M719.4 138.2h0M590.0 139.6h0M594.8 140.3h0M602.9 141.0h0M607.2 141.0h0M611.0 139.3h0M611.9 140.6h0M617.6 140.5h0M620.3 139.0h0M621.7 140.7h0M627.0 138.6h0M629.3 140.8h0M632.7 140.2h0M634.5 138.8h0M642.6 138.7h0M646.0 139.8h0M648.7 139.2h0M650.5 141.2h0M654.4 138.9h0M658.9 140.8h0M660.8 139.4h0M669.7 140.4h0M674.0 139.8h0M677.4 140.3h0M681.0 140.7h0M687.2 140.8h0M693.0 140.5h0M695.8 139.5h0M703.2 141.0h0M706.8 141.2h0M708.6 139.3h0M711.1 139.2h0M716.6 139.5h0M719.5 140.9h0M722.0 138.9h0M724.7 140.3h0M589.2 143.9h0M592.4 143.1h0M596.7 142.5h0M599.2 143.9h0M601.2 142.2h0M603.9 142.1h0M609.6 141.9h0M612.0 143.2h0M615.4 142.1h0M616.7 143.2h0M620.5 143.9h0M624.6 143.1h0M629.6 141.4h0M633.0 141.7h0M638.4 143.2h0M641.1 141.9h0M643.0 142.5h0M646.6 143.3h0M651.1 142.3h0M651.9 143.6h0M657.3 143.5h0M659.0 141.4h0M663.8 141.8h0M666.2 143.1h0M672.0 143.1h0M681.6 143.3h0M685.9 142.1h0M688.4 141.7h0M692.3 142.1h0M695.4 142.0h0M697.2 142.4h0M701.5 142.6h0M703.2 143.1h0M706.9 141.5h0M709.8 142.6h0M712.9 141.7h0M716.3 142.0h0M719.4 141.6h0M723.5 143.8h0M589.6 144.8h0M600.4 144.8h0M606.1 146.6h0M610.6 144.4h0M612.7 144.7h0M625.9 146.1h0M628.5 145.5h0M632.7 144.6h0M636.7 146.1h0M638.4 146.5h0M641.2 145.7h0M648.2 144.6h0M659.1 144.8h0M661.2 146.7h0M665.6 145.8h0M673.5 145.3h0M677.6 144.3h0M683.8 144.9h0M686.9 146.0h0M692.2 144.5h0M698.9 144.6h0M702.6 145.3h0M708.5 146.6h0M711.2 146.6h0M714.3 144.9h0M720.0 146.5h0M722.0 146.4h0M725.5 145.5h0M588.5 148.7h0M594.8 147.2h0M598.9 147.4h0M601.3 147.6h0M609.0 148.6h0M614.7 148.7h0M621.9 147.6h0M625.5 147.5h0M628.8 149.3h0M631.4 147.9h0M634.6 147.3h0M639.4 148.0h0M647.0 147.9h0M649.8 147.4h0M651.9 148.7h0M656.0 149.5h0M660.4 148.6h0M663.3 149.5h0M666.6 147.8h0M670.0 148.5h0M673.3 148.5h0M674.3 148.4h0M684.4 147.7h0M689.6 147.0h0M692.7 149.5h0M694.3 148.3h0M697.7 148.2h0M700.0 147.2h0M703.3 148.6h0M706.9 149.0h0M710.3 148.3h0M716.3 148.8h0M720.9 147.6h0M724.3 147.2h0M589.9 151.6h0M594.7 150.4h0M597.6 151.2h0M599.6 151.3h0M603.9 150.4h0M606.6 151.1h0M608.7 151.6h0M612.6 151.4h0M616.6 152.1h0M619.1 151.5h0M621.9 150.3h0M629.9 150.6h0M632.9 149.9h0M634.5 149.9h0M637.8 152.2h0M641.9 150.3h0M645.2 151.1h0M648.9 151.1h0M650.5 149.9h0M654.7 150.4h0M657.2 150.6h0M661.7 151.8h0M667.9 150.0h0M675.2 152.1h0M677.1 151.4h0M679.2 151.7h0M683.4 150.0h0M689.4 151.8h0M692.1 149.9h0M696.4 151.9h0M698.7 151.7h0M702.3 150.1h0M707.2 150.1h0M709.8 152.1h0M712.3 152.2h0M715.0 151.0h0M719.4 150.1h0M723.1 150.0h0M724.7 150.4h0M589.1 155.1h0M593.3 153.4h0M596.2 153.4h0M598.5 154.7h0M602.1 152.6h0M607.9 154.8h0M610.9 153.5h0M614.4 153.5h0M617.2 154.9h0M621.5 154.9h0M623.7 154.9h0M628.8 154.4h0M631.6 153.2h0M633.6 154.7h0M637.3 153.4h0M639.9 154.7h0M647.4 154.3h0M648.8 154.8h0M653.0 153.4h0M657.1 154.8h0M659.1 153.2h0M662.3 152.6h0M669.8 153.1h0M675.1 154.2h0M678.7 154.9h0M681.5 154.8h0M684.1 154.1h0M688.4 153.8h0M692.5 154.3h0M698.5 152.9h0M699.9 154.1h0M704.9 153.7h0M707.6 154.7h0M710.4 153.1h0M714.7 153.1h0M718.4 153.7h0M720.9 155.0h0M723.0 153.4h0M589.9 156.7h0M598.4 156.8h0M599.5 157.7h0M604.2 157.6h0M610.0 157.7h0M616.5 155.7h0M620.3 156.4h0M622.1 156.0h0M626.0 156.5h0M627.9 156.2h0M633.0 155.9h0M635.6 155.8h0M639.8 155.9h0M642.5 157.3h0M645.7 156.0h0M655.5 157.1h0M660.7 157.3h0M663.6 155.7h0M667.9 156.1h0M670.0 155.5h0M673.5 156.6h0M680.3 157.8h0M682.8 156.9h0M685.9 155.5h0M691.2 156.4h0M693.0 156.2h0M696.1 155.7h0M699.7 155.3h0M703.3 156.2h0M707.0 156.4h0M708.6 156.8h0M713.0 157.8h0M715.2 157.5h0M719.0 157.1h0M723.1 156.8h0M724.3 155.6h0M589.9 158.2h0M592.3 159.4h0M596.6 159.0h0M599.9 159.8h0M601.5 159.1h0M605.9 158.8h0M608.1 159.1h0M611.7 158.8h0M615.6 158.5h0M621.9 158.5h0M623.2 158.8h0M630.9 160.5h0M635.1 159.2h0M637.8 160.3h0M639.3 160.4h0M650.5 159.8h0M652.3 158.6h0M656.8 160.6h0M660.8 159.2h0M667.2 159.9h0M668.3 158.5h0M673.0 158.3h0M676.0 158.2h0M679.5 159.6h0M682.9 159.7h0M684.9 160.6h0M689.4 159.6h0M690.7 159.1h0M693.5 160.2h0M698.0 158.1h0M700.9 159.9h0M708.7 160.5h0M710.3 159.1h0M715.0 160.2h0M718.0 160.7h0M719.9 160.1h0M723.8 158.5h0M592.9 163.3h0M596.2 162.9h0M601.4 162.4h0M604.7 161.1h0M605.7 161.6h0M610.9 162.0h0M612.5 162.8h0M615.3 162.2h0M618.8 162.6h0M627.2 162.0h0M630.0 162.9h0M635.5 161.2h0M643.2 162.3h0M644.2 162.6h0M651.5 161.1h0M655.8 161.0h0M657.9 162.8h0M660.7 163.3h0M663.4 163.0h0M666.7 162.2h0M669.9 163.3h0M674.7 161.5h0M676.4 163.3h0M681.6 162.9h0M683.6 163.1h0M685.7 163.3h0M690.4 162.8h0M697.5 161.3h0M699.7 161.9h0M701.8 162.1h0M705.3 161.9h0M709.8 162.4h0M716.8 161.3h0M720.0 161.9h0M721.5 161.0h0M724.2 161.6h0M589.3 166.1h0M592.0 166.1h0M595.7 165.9h0M598.4 165.3h0M604.0 163.7h0M607.6 165.0h0M612.4 165.4h0M615.9 166.3h0M621.0 166.2h0M624.5 163.7h0M628.6 165.2h0M629.5 164.2h0M636.5 166.0h0M639.9 166.2h0M644.1 163.9h0M648.0 164.0h0M649.4 164.1h0M657.6 165.3h0M658.7 165.6h0M662.4 166.0h0M665.0 164.1h0M669.4 165.8h0M672.4 165.2h0M677.6 164.8h0M682.6 164.3h0M684.5 163.9h0M688.1 164.6h0M690.8 165.4h0M700.1 164.5h0M704.7 164.8h0M707.6 166.1h0M709.9 164.5h0M715.0 165.5h0M716.3 163.8h0M721.3 165.4h0M723.9 163.8h0M590.3 166.7h0M594.5 167.8h0M597.6 167.6h0M602.8 167.5h0M609.5 167.2h0M612.4 167.5h0M621.7 167.8h0M625.2 168.2h0M633.2 167.7h0M635.5 166.8h0M640.8 168.3h0M648.6 168.3h0M652.1 167.4h0M654.2 169.0h0M656.7 166.7h0M662.1 168.1h0M665.3 168.3h0M669.6 167.4h0M675.2 167.3h0M677.9 168.7h0M683.7 167.0h0M686.7 167.3h0M690.0 168.0h0M692.6 167.8h0M696.1 168.2h0M699.6 167.2h0M703.3 168.5h0M705.3 168.9h0M708.8 167.2h0M712.9 168.6h0M716.2 167.0h0M718.4 167.3h0M722.6 168.4h0M724.5 168.5h0M589.6 170.9h0M591.8 169.4h0M594.3 171.7h0M599.2 171.8h0M601.2 170.1h0M605.9 171.2h0M608.0 169.9h0M612.1 171.6h0M615.7 170.4h0M617.5 171.8h0M625.3 170.1h0M628.6 170.4h0M631.5 170.2h0M635.0 170.4h0M643.2 171.2h0M647.2 170.9h0M648.7 171.0h0M652.6 169.8h0M657.4 169.9h0M662.3 170.9h0M666.0 169.6h0M668.7 170.3h0M674.9 171.5h0M682.7 171.4h0M687.2 170.2h0M691.9 171.3h0M694.9 170.3h0M696.9 169.9h0M701.0 171.8h0M706.5 169.5h0M710.6 170.6h0M716.3 170.6h0M720.0 171.5h0M724.5 170.2h0M591.0 173.5h0M592.9 174.5h0M596.1 173.7h0M599.9 172.9h0M606.4 173.1h0M610.4 173.8h0M612.9 172.6h0M616.2 174.2h0M620.2 172.1h0M623.9 173.8h0M625.9 173.3h0M628.3 173.7h0M631.7 173.7h0M635.8 172.5h0M638.3 173.5h0M641.9 173.6h0M644.7 173.8h0M648.7 174.1h0M650.8 173.2h0M654.9 174.0h0M657.8 174.6h0M661.5 172.3h0M668.1 172.7h0M669.9 174.2h0M672.7 174.3h0M678.0 173.8h0M681.3 172.6h0M683.1 172.1h0M685.6 172.2h0M689.0 172.4h0M692.6 174.4h0M697.3 174.6h0M703.6 173.9h0M704.9 174.4h0M709.4 174.3h0M712.9 173.2h0M718.2 174.0h0M721.3 173.8h0M588.8 176.1h0M591.1 176.8h0M596.5 175.7h0M598.4 176.7h0M601.7 176.2h0M606.2 176.0h0M609.1 175.3h0M611.2 176.9h0M614.2 176.5h0M617.6 176.3h0M621.0 174.8h0M623.7 177.0h0M627.8 176.4h0M631.5 175.6h0M634.7 176.6h0M639.5 175.1h0M643.6 175.2h0M647.7 175.8h0M649.1 176.3h0M653.1 176.2h0M663.4 176.3h0M665.2 176.8h0M669.7 175.4h0M672.7 175.8h0M674.4 176.5h0M677.8 176.2h0M680.9 177.0h0M684.0 175.5h0M687.7 175.0h0M690.9 175.6h0M694.4 176.9h0M700.7 175.1h0M705.1 177.4h0M706.3 176.8h0M711.9 175.8h0M712.8 177.3h0M717.0 176.0h0M721.2 176.1h0M723.3 177.1h0M591.2 179.1h0M594.1 178.2h0M598.1 177.8h0M603.9 179.2h0M606.7 177.9h0M610.5 179.5h0M613.5 179.3h0M615.1 178.7h0M619.8 178.5h0M623.2 178.3h0M625.4 179.0h0M633.5 177.7h0M635.2 178.1h0M638.8 178.7h0M644.8 178.7h0M649.6 178.4h0M652.4 178.6h0M657.8 179.9h0M661.0 179.6h0M663.4 179.0h0M668.7 179.9h0M673.8 180.0h0M681.5 177.9h0M684.1 177.7h0M692.1 178.1h0M695.4 179.7h0M698.9 178.2h0M701.6 179.5h0M707.1 178.7h0M712.9 179.1h0M715.0 178.9h0M718.6 178.3h0M721.4 178.3h0M724.1 179.7h0M588.4 180.7h0M592.4 182.3h0M595.3 182.7h0M603.1 181.1h0M608.7 182.5h0M610.5 182.6h0M614.1 182.0h0M617.9 182.2h0M621.6 180.7h0M626.7 182.9h0M630.6 181.4h0M634.6 182.1h0M637.3 181.7h0M641.5 182.9h0M644.8 181.6h0M646.1 182.3h0M651.1 182.6h0M652.5 182.4h0M655.9 181.3h0M660.4 182.6h0M661.9 180.8h0M665.2 181.3h0M668.3 182.2h0M673.3 181.2h0M675.0 181.1h0M677.5 181.5h0M680.7 182.6h0M683.9 182.9h0M687.7 180.4h0M692.1 181.9h0M697.6 183.0h0M704.9 182.5h0M707.7 182.5h0M710.9 181.1h0M713.1 182.2h0M717.9 182.0h0M721.4 182.5h0M723.1 182.8h0M589.7 184.0h0M595.1 184.8h0M598.3 185.2h0M600.3 185.1h0M602.5 184.8h0M606.1 184.9h0M609.0 183.5h0M616.2 185.2h0M618.7 185.7h0M628.9 185.4h0M632.6 183.8h0M635.5 184.2h0M638.8 184.0h0M643.2 183.7h0M648.1 185.3h0M652.8 185.3h0M655.0 183.2h0M661.3 184.1h0M664.1 183.4h0M668.3 184.7h0M674.6 183.3h0M681.2 185.5h0M683.8 184.2h0M687.4 184.8h0M690.1 185.6h0M695.1 184.4h0M700.1 185.7h0M702.7 184.8h0M713.1 183.2h0M716.3 183.8h0M718.0 185.0h0M722.2 184.0h0M588.5 187.3h0M591.9 188.0h0M597.5 186.7h0M603.1 186.4h0M607.2 186.8h0M610.6 186.7h0M615.0 186.3h0M618.0 186.3h0M628.5 188.1h0M631.4 188.0h0M634.8 188.5h0M638.0 188.3h0M640.8 187.7h0M643.7 186.7h0M646.9 186.3h0M651.0 186.6h0M653.6 186.3h0M657.0 186.7h0M659.0 188.0h0M663.6 186.4h0M665.6 188.2h0M668.0 187.9h0M672.8 186.2h0M676.0 188.2h0M678.6 186.0h0M681.3 188.0h0M685.9 187.3h0M687.4 187.0h0M691.0 187.9h0M694.3 186.7h0M698.3 187.2h0M702.2 188.4h0M704.5 188.2h0M706.9 186.2h0M711.4 186.4h0M715.2 187.2h0M718.0 188.3h0M719.4 187.6h0M724.7 187.7h0M590.8 189.5h0M593.9 191.1h0M599.4 191.1h0M605.5 190.9h0M609.6 190.9h0M613.8 190.0h0M615.6 190.8h0M618.5 191.3h0M622.4 189.8h0M627.0 191.2h0M632.4 190.3h0M636.8 189.8h0M642.2 190.1h0M644.5 189.6h0M648.2 191.3h0M650.8 188.9h0M654.3 190.8h0M657.3 190.8h0M663.2 190.5h0M667.2 191.1h0M670.2 188.9h0M677.1 188.8h0M680.7 189.5h0M682.9 189.2h0M687.6 189.9h0M689.6 190.8h0M693.6 189.8h0M695.5 191.3h0M699.6 190.4h0M702.3 189.3h0M704.7 189.9h0M709.9 190.6h0M711.7 190.6h0M716.1 189.6h0M726.1 188.8h0M588.9 193.5h0M591.6 193.6h0M599.5 192.1h0M600.7 192.2h0M605.8 193.2h0M609.0 193.3h0M611.6 193.1h0M614.0 192.3h0M616.9 192.4h0M621.4 192.0h0M623.4 193.5h0M626.5 192.2h0M633.4 193.5h0M641.5 191.6h0M643.1 192.0h0M647.8 191.6h0M649.5 191.6h0M652.6 192.1h0M656.0 191.8h0M658.9 193.0h0M662.2 192.9h0M669.9 193.0h0M671.9 191.9h0M679.8 191.6h0M681.3 192.9h0M684.8 192.8h0M687.6 193.1h0M692.8 192.0h0M693.6 192.2h0M697.0 192.9h0M701.9 191.8h0M705.3 191.8h0M713.5 194.0h0M719.4 193.7h0M724.2 193.1h0M591.9 194.6h0M594.5 195.1h0M601.5 195.3h0M603.5 196.4h0M606.9 194.4h0M608.9 196.5h0M617.5 194.5h0M623.9 195.4h0M631.4 196.9h0M634.8 194.7h0M639.2 195.8h0M647.3 196.8h0M652.2 194.4h0M654.7 195.6h0M658.0 196.4h0M662.1 195.4h0M663.7 195.5h0M667.7 196.6h0M670.8 196.9h0M672.7 195.2h0M681.4 195.6h0M684.1 196.2h0M686.2 196.2h0M690.1 195.9h0M692.3 195.2h0M697.1 196.8h0M698.8 194.6h0M703.4 196.0h0M709.5 196.0h0M712.3 196.3h0M714.6 195.4h0M718.6 195.8h0M721.7 195.4h0M589.7 198.1h0M592.6 198.0h0M598.2 198.3h0M600.8 199.4h0M604.5 197.8h0M609.1 198.3h0M610.9 199.2h0M615.7 197.4h0M619.2 198.9h0M620.2 197.2h0M623.2 199.2h0M631.1 197.3h0M637.7 197.4h0M639.9 198.6h0M643.4 199.2h0M651.1 197.9h0M652.1 198.2h0M658.6 198.5h0M662.2 198.7h0M666.0 197.8h0M668.6 199.1h0M671.7 198.2h0M674.7 197.6h0M678.0 198.0h0M682.6 198.1h0M684.9 199.1h0M688.2 199.5h0M692.8 198.5h0M694.4 197.8h0M699.0 198.0h0M701.0 198.5h0M703.5 198.0h0M707.7 197.1h0M710.6 197.3h0M713.2 199.2h0M716.7 197.7h0M719.8 198.0h0M724.3 198.9h0M593.1 200.5h0M598.0 201.4h0M599.7 202.4h0M606.1 202.1h0M610.3 200.8h0M612.6 200.1h0M617.1 202.4h0M620.0 200.6h0M626.2 200.8h0M629.0 202.3h0M631.5 201.5h0M635.6 200.3h0M637.7 200.3h0M642.0 201.1h0M645.7 202.2h0M651.1 200.2h0M655.5 200.2h0M658.9 201.7h0M661.6 201.9h0M663.5 201.6h0M666.6 200.3h0M669.8 200.9h0M674.1 200.9h0M681.3 202.3h0M683.6 201.9h0M685.8 200.5h0M690.9 200.7h0M693.2 200.1h0M697.1 201.9h0M699.1 200.3h0M703.3 200.8h0M705.0 202.0h0M710.0 200.8h0M712.4 201.8h0M715.2 201.7h0M719.7 201.8h0M721.6 200.6h0M725.9 200.7h0M593.2 204.0h0M595.7 203.7h0M597.7 205.0h0M601.0 204.4h0M607.2 202.7h0M612.3 203.1h0M615.5 203.1h0M619.0 204.6h0M625.1 204.4h0M628.2 203.9h0M630.4 204.9h0M633.8 204.1h0M641.4 204.5h0M644.5 203.0h0M647.3 204.8h0M652.2 202.9h0M655.9 203.3h0M658.5 205.0h0M662.9 203.8h0M670.3 204.5h0M671.2 203.0h0M679.6 205.1h0M681.2 202.7h0M684.0 204.0h0M688.8 204.1h0M691.0 204.6h0M695.3 203.9h0M697.4 202.8h0M701.5 203.1h0M705.3 204.9h0M707.5 203.1h0M711.4 205.2h0M712.7 203.6h0M717.4 202.9h0M719.9 205.0h0M598.3 205.7h0M606.1 206.9h0M614.1 206.1h0M618.9 206.4h0M622.1 207.3h0M629.7 206.3h0M631.3 208.0h0M639.9 206.8h0M642.0 208.0h0M645.6 207.6h0M648.5 207.6h0M652.5 205.5h0M657.8 205.9h0M663.3 207.3h0M666.9 207.5h0M674.6 207.0h0M675.9 206.6h0M680.6 208.0h0M682.4 207.2h0M689.5 206.3h0M692.3 206.5h0M695.9 207.5h0M698.5 207.1h0M703.8 205.7h0M706.4 206.4h0M709.4 207.4h0M712.3 207.2h0M715.4 205.9h0M722.1 206.3h0M725.5 207.4h0M589.6 210.8h0M593.5 209.4h0M596.5 208.8h0M600.0 208.4h0M601.9 210.2h0M607.2 208.3h0M610.3 209.6h0M614.0 210.4h0M619.1 209.2h0M621.3 208.9h0M623.1 208.9h0M630.2 209.8h0M632.9 210.3h0M637.2 209.3h0M644.2 210.0h0M645.5 210.4h0M650.3 209.0h0M660.8 210.6h0M661.5 209.3h0M666.5 210.3h0M671.3 210.4h0M675.6 208.8h0M683.2 209.3h0M690.5 210.2h0M696.8 209.4h0M702.4 209.5h0M704.4 210.2h0M707.3 210.2h0M711.8 209.0h0M714.6 209.7h0M717.3 208.4h0M724.1 210.1h0" stroke="#4a5a38" stroke-opacity="0.45" stroke-width="1.5" stroke-linecap="round" fill="none"/><path d="M610.5 109.9h0M623.4 111.1h0M628.9 111.2h0M649.3 112.2h0M587.9 114.8h0M627.1 114.4h0M651.1 114.5h0M678.0 115.5h0M606.2 117.7h0M636.3 117.0h0M654.5 118.7h0M708.1 117.2h0M712.9 118.6h0M713.1 122.4h0M589.4 125.9h0M612.4 125.1h0M639.4 126.8h0M657.2 125.0h0M628.5 129.0h0M654.3 130.0h0M676.2 129.6h0M694.3 127.8h0M617.7 131.6h0M626.3 130.7h0M668.7 130.6h0M710.4 132.8h0M713.1 131.1h0M591.6 138.1h0M636.3 137.5h0M667.0 137.7h0M722.4 136.5h0M595.9 138.9h0M663.4 140.2h0M690.9 139.1h0M698.5 139.8h0M668.2 141.7h0M679.7 141.7h0M594.1 146.5h0M598.1 144.5h0M616.0 144.5h0M652.2 145.7h0M668.4 144.7h0M670.6 144.8h0M689.3 144.5h0M706.4 146.4h0M593.1 149.3h0M618.3 147.4h0M642.5 148.5h0M626.8 151.6h0M664.2 152.2h0M605.4 154.9h0M644.5 152.9h0M672.1 154.6h0M694.4 153.5h0M594.4 155.7h0M614.3 156.7h0M649.5 155.5h0M657.8 157.0h0M677.1 156.5h0M628.1 160.5h0M662.1 158.7h0M704.9 159.2h0M590.7 161.6h0M622.4 163.3h0M633.3 161.9h0M693.1 163.0h0M713.4 161.9h0M603.2 164.3h0M634.8 163.9h0M653.6 166.2h0M694.6 165.0h0M605.7 168.3h0M619.7 169.0h0M630.0 167.2h0M639.3 168.0h0M681.6 168.1h0M620.3 170.0h0M673.4 169.5h0M685.9 170.5h0M714.5 170.6h0M603.1 173.1h0M663.1 174.5h0M700.3 172.8h0M715.4 172.5h0M724.4 172.6h0M637.0 176.6h0M642.0 178.4h0M600.0 182.7h0M605.4 180.9h0M694.1 181.1h0M612.7 185.6h0M625.9 184.2h0M671.0 185.4h0M677.6 183.9h0M694.2 184.6h0M726.3 185.2h0M595.7 188.0h0M604.9 187.4h0M622.0 186.5h0M598.3 190.0h0M604.5 189.8h0M638.5 189.2h0M718.9 190.9h0M630.2 193.8h0M637.3 192.2h0M666.5 192.4h0M675.8 191.8h0M708.2 192.7h0M710.3 192.6h0M716.4 192.9h0M613.0 196.8h0M644.9 194.5h0M706.0 195.8h0M594.3 199.4h0M627.5 199.4h0M633.7 197.7h0M647.3 197.9h0M603.1 200.0h0M676.1 200.7h0M605.9 204.5h0M621.1 203.4h0M666.2 203.6h0M674.6 203.8h0M723.0 203.1h0M594.1 207.3h0M601.6 206.8h0M602.9 205.5h0M610.2 207.9h0M615.1 206.5h0M635.4 207.5h0M654.9 205.8h0M686.0 206.6h0M718.9 207.8h0M641.6 210.6h0M685.9 209.7h0M689.1 210.6h0M694.3 209.1h0" stroke="#4a5a38" stroke-opacity="0.45" stroke-width="2.0" stroke-linecap="round" fill="none"/></g></g><rect x="171.4" y="214.1" width="132.9" height="98.7" fill="url(#g10)"/><g clip-path="url(#c10)"><g filter="url(#f100)"><path d="M304.1 214.0h0M230.0 224.9h0M301.4 220.6h0M178.6 247.0h0M257.8 253.9h0M296.3 260.5h0M275.9 280.2h0M182.4 303.2h0M312.5 296.2h0M171.1 324.9h0" stroke="#5a4430" stroke-opacity="0.85" stroke-width="2.0" stroke-linecap="round" fill="none"/><path d="M185.1 211.3h0M195.3 211.7h0M218.1 211.7h0M229.5 212.1h0M246.2 218.1h0M286.8 210.3h0M293.6 215.6h0M175.2 223.7h0M185.2 222.5h0M200.9 224.1h0M237.5 228.9h0M261.4 224.9h0M273.8 223.1h0M291.9 226.2h0M167.2 238.5h0M199.6 239.1h0M213.3 233.4h0M223.1 233.1h0M229.9 238.8h0M242.8 233.6h0M273.9 232.9h0M280.6 233.2h0M310.5 231.7h0M186.1 247.3h0M198.5 249.4h0M216.0 247.0h0M232.1 245.6h0M280.2 243.8h0M299.9 248.8h0M181.5 259.2h0M200.8 257.0h0M204.2 257.3h0M219.5 253.6h0M229.6 254.3h0M244.9 257.6h0M272.0 262.3h0M305.2 254.6h0M228.0 269.2h0M242.6 267.2h0M250.5 272.6h0M262.9 272.4h0M317.3 271.4h0M183.6 283.2h0M194.0 275.8h0M222.1 282.9h0M233.7 279.0h0M287.6 275.9h0M292.8 279.4h0M308.5 279.0h0M179.8 290.6h0M207.5 285.9h0M231.7 286.6h0M244.8 294.1h0M248.7 289.7h0M268.0 287.0h0M282.5 285.3h0M286.1 292.7h0M312.4 285.7h0M196.6 301.4h0M209.7 300.5h0M224.7 303.0h0M230.0 296.6h0M284.9 297.2h0M292.7 302.2h0M182.4 309.5h0M206.6 312.5h0M210.2 313.0h0M230.4 312.1h0M237.4 313.5h0M278.5 309.3h0M293.7 310.6h0M303.4 316.8h0M312.0 312.7h0M184.0 320.9h0M199.6 322.5h0M206.8 320.4h0M233.9 321.4h0M256.4 318.5h0M266.6 326.4h0M282.3 322.2h0M310.7 323.7h0" stroke="#5a4430" stroke-opacity="0.85" stroke-width="2.5" stroke-linecap="round" fill="none"/><path d="M168.5 216.3h0M212.5 215.4h0M260.3 214.9h0M270.1 209.1h0M213.4 220.1h0M249.7 228.1h0M318.5 228.6h0M182.4 232.8h0M260.3 236.0h0M292.2 234.3h0M240.6 250.1h0M255.3 247.1h0M266.5 251.3h0M289.5 244.0h0M314.4 248.7h0M176.3 262.5h0M282.4 255.7h0M176.6 267.3h0M189.5 269.2h0M204.1 269.4h0M213.5 263.8h0M275.4 268.3h0M286.3 265.5h0M298.4 267.6h0M175.3 277.9h0M204.4 275.9h0M244.0 283.5h0M259.0 280.4h0M193.5 294.6h0M214.6 287.7h0M306.9 287.4h0M167.2 299.9h0M247.8 305.7h0M262.5 297.3h0M274.0 300.8h0M193.8 308.0h0M248.7 309.4h0M265.6 310.5h0M221.7 320.0h0M249.8 326.8h0M293.0 321.4h0" stroke="#5a4430" stroke-opacity="0.85" stroke-width="3.0" stroke-linecap="round" fill="none"/></g></g><rect x="310.7" y="214.1" width="132.8" height="98.7" fill="url(#g11)"/><g clip-path="url(#c11)"><g filter="url(#f110)"><path d="M427.7 275.6h0" stroke="#3a3a2a" stroke-opacity="0.9" stroke-width="2.0" stroke-linecap="round" fill="none"/><path d="M410.7 220.1h0" stroke="#3a3a2a" stroke-opacity="0.9" stroke-width="3.0" stroke-linecap="round" fill="none"/></g></g><rect x="449.9" y="214.1" width="132.8" height="98.7" fill="url(#g12)"/><g clip-path="url(#c12)"><g filter="url(#f120)"><path d="M449.1 213.3h0M465.2 214.0h0M475.2 212.8h0M485.9 214.4h0M506.5 212.6h0M531.7 214.0h0M551.4 214.5h0M582.6 214.2h0M472.4 216.7h0M479.8 218.2h0M522.8 216.6h0M534.7 217.5h0M569.1 219.6h0M458.4 223.2h0M472.8 222.3h0M487.1 223.3h0M496.3 222.9h0M468.5 226.3h0M519.5 227.6h0M524.8 225.3h0M579.3 227.0h0M480.7 230.4h0M513.8 229.2h0M517.4 230.2h0M532.7 228.1h0M559.4 229.2h0M486.4 231.7h0M487.6 232.3h0M503.3 233.5h0M508.8 233.3h0M517.6 233.1h0M544.4 231.5h0M487.1 235.5h0M492.6 235.6h0M502.8 235.5h0M504.4 238.2h0M523.0 239.9h0M541.5 240.6h0M555.7 242.6h0M566.7 242.7h0M579.1 242.4h0M448.8 243.9h0M541.0 243.9h0M547.6 245.6h0M583.0 245.3h0M483.4 247.4h0M506.8 248.0h0M518.7 247.9h0M562.4 247.9h0M464.0 250.3h0M467.5 250.2h0M505.7 250.9h0M509.5 251.9h0M552.9 249.9h0M487.8 253.9h0M496.6 252.9h0M511.7 252.6h0M516.8 254.1h0M499.3 257.9h0M515.7 255.5h0M528.0 256.2h0M566.8 256.0h0M454.2 258.5h0M504.9 259.9h0M522.9 260.0h0M577.7 259.5h0M584.0 259.6h0M452.5 262.2h0M458.9 264.5h0M476.9 265.8h0M485.7 266.9h0M498.3 265.3h0M529.9 265.6h0M535.6 265.6h0M582.0 265.8h0M449.6 269.3h0M512.7 268.9h0M519.8 269.8h0M530.1 267.7h0M536.0 267.7h0M554.3 268.0h0M562.8 269.7h0M580.4 269.3h0M494.2 270.8h0M547.4 270.9h0M555.9 271.6h0M456.5 274.4h0M513.6 274.0h0M565.3 274.1h0M539.5 278.1h0M575.0 277.2h0M481.6 281.5h0M494.2 282.3h0M552.5 280.6h0M553.4 281.2h0M492.4 283.4h0M517.4 285.4h0M527.4 283.2h0M539.4 283.8h0M460.7 285.8h0M503.5 287.6h0M463.1 291.6h0M475.8 292.4h0M547.4 294.4h0M562.7 293.3h0M579.8 292.1h0M584.0 292.3h0M461.0 296.6h0M517.9 296.3h0M532.3 297.4h0M586.1 297.7h0M505.7 300.8h0M512.2 299.7h0M552.4 299.9h0M562.6 298.8h0M459.1 302.7h0M469.9 302.8h0M556.0 303.1h0M563.1 302.9h0M578.1 301.9h0M482.8 305.8h0M493.9 304.5h0M529.6 305.4h0M572.7 304.5h0M575.1 304.5h0M584.0 304.1h0M539.5 307.5h0M516.4 310.1h0M543.3 310.0h0M547.5 311.3h0M559.0 311.2h0M454.9 313.5h0M468.9 314.0h0M486.5 313.7h0M513.8 313.2h0" stroke="#5a5232" stroke-opacity="0.45" stroke-width="1.0" stroke-linecap="round" fill="none"/><path d="M457.1 215.3h0M460.5 213.4h0M467.0 213.1h0M478.5 214.3h0M481.4 212.7h0M487.3 215.3h0M496.5 214.5h0M497.7 213.9h0M501.9 213.0h0M509.6 215.4h0M514.0 212.9h0M515.4 213.5h0M519.8 212.7h0M523.8 215.3h0M525.6 215.2h0M537.5 215.3h0M540.4 214.5h0M544.3 213.4h0M548.5 213.2h0M554.2 215.5h0M559.2 213.5h0M561.9 215.2h0M564.0 214.7h0M568.8 214.5h0M571.4 214.6h0M575.3 215.1h0M579.4 214.7h0M456.4 217.6h0M459.7 216.4h0M462.6 217.4h0M465.0 218.1h0M469.9 218.1h0M477.3 217.7h0M482.7 217.7h0M486.6 216.4h0M494.9 218.5h0M497.2 215.9h0M504.9 216.7h0M508.9 215.8h0M515.1 216.8h0M518.5 217.2h0M526.0 217.5h0M527.4 215.8h0M539.3 217.8h0M543.4 218.5h0M547.0 218.4h0M549.8 218.1h0M553.5 217.6h0M556.2 216.6h0M562.3 215.8h0M565.9 218.4h0M570.3 218.2h0M574.5 216.9h0M579.0 216.4h0M581.1 216.0h0M584.7 218.0h0M448.6 221.4h0M454.6 218.8h0M455.8 219.4h0M461.2 219.9h0M463.6 220.2h0M468.8 219.2h0M471.0 219.7h0M473.0 220.7h0M479.2 219.5h0M480.9 220.2h0M485.4 219.9h0M487.8 220.0h0M492.6 220.6h0M494.2 219.0h0M498.0 219.2h0M501.9 221.4h0M505.1 219.2h0M509.9 220.4h0M513.8 220.7h0M516.7 220.6h0M523.0 220.6h0M527.7 221.2h0M530.0 220.2h0M533.0 219.0h0M542.0 221.5h0M549.0 220.5h0M551.2 219.9h0M555.0 219.5h0M559.5 220.4h0M561.3 220.4h0M566.4 219.3h0M572.4 220.2h0M575.0 219.2h0M580.3 219.3h0M581.5 218.9h0M451.6 222.0h0M456.5 222.9h0M463.3 223.4h0M470.2 222.8h0M476.9 222.2h0M478.2 221.8h0M491.5 223.2h0M492.3 224.2h0M500.9 222.3h0M503.2 223.8h0M508.3 224.5h0M511.7 222.9h0M515.6 224.0h0M523.0 222.7h0M525.7 224.2h0M528.5 222.9h0M532.6 223.3h0M534.2 221.7h0M537.9 224.2h0M543.8 222.4h0M546.9 223.7h0M553.2 223.3h0M556.4 223.8h0M560.7 224.5h0M563.8 222.7h0M565.9 223.3h0M571.7 222.2h0M575.1 223.1h0M576.7 222.7h0M581.8 223.0h0M585.8 222.9h0M449.1 226.2h0M453.0 226.7h0M455.4 227.6h0M460.5 227.6h0M462.6 225.3h0M470.2 226.3h0M473.8 227.4h0M477.1 226.5h0M481.5 226.7h0M485.0 225.7h0M488.7 227.5h0M490.9 225.3h0M496.3 224.9h0M498.2 226.1h0M502.6 227.0h0M505.2 226.6h0M509.3 226.3h0M511.9 227.2h0M527.7 225.2h0M528.9 225.1h0M532.7 226.1h0M545.6 226.4h0M546.9 225.7h0M550.5 226.6h0M555.7 226.4h0M557.2 227.3h0M562.3 225.4h0M565.1 226.9h0M567.8 225.6h0M570.9 226.6h0M576.5 225.7h0M582.9 225.5h0M450.9 228.4h0M456.3 228.9h0M459.4 228.6h0M460.7 230.6h0M464.5 229.3h0M469.7 228.6h0M473.0 228.0h0M477.3 228.7h0M484.2 228.5h0M487.2 229.2h0M493.9 230.0h0M496.9 229.3h0M499.8 228.6h0M505.2 229.9h0M507.7 229.5h0M522.5 230.2h0M524.4 230.6h0M528.5 230.6h0M534.9 228.1h0M538.4 230.6h0M541.7 229.9h0M546.2 228.0h0M550.5 229.5h0M552.7 228.2h0M557.4 229.5h0M562.3 229.1h0M568.3 228.2h0M571.5 228.7h0M575.6 229.6h0M580.6 229.0h0M585.1 230.4h0M448.9 233.8h0M453.4 233.4h0M457.2 233.2h0M460.9 231.0h0M463.2 232.6h0M467.3 232.4h0M472.1 231.7h0M473.5 231.2h0M479.2 231.2h0M491.2 232.2h0M494.4 231.2h0M497.7 231.2h0M506.8 233.4h0M511.5 233.7h0M518.7 232.8h0M523.9 232.8h0M526.8 231.5h0M530.8 232.9h0M532.6 233.5h0M537.4 232.6h0M541.7 232.4h0M548.0 233.4h0M550.5 232.3h0M555.1 232.2h0M559.0 233.5h0M562.8 232.9h0M564.7 231.8h0M573.1 231.9h0M577.2 231.3h0M580.8 231.9h0M583.8 231.8h0M452.6 235.1h0M455.0 236.0h0M459.9 236.2h0M461.8 233.9h0M465.2 234.4h0M468.0 235.8h0M471.9 235.9h0M474.7 236.4h0M480.8 234.7h0M498.6 236.1h0M501.4 234.4h0M513.6 234.3h0M519.1 234.2h0M521.8 236.3h0M523.8 234.2h0M528.7 236.2h0M531.5 234.5h0M536.3 234.3h0M537.8 235.3h0M543.4 236.0h0M545.2 234.0h0M550.2 233.9h0M554.3 234.9h0M557.1 236.6h0M560.2 236.2h0M562.2 235.5h0M566.7 235.0h0M570.1 236.1h0M574.0 236.4h0M577.7 236.1h0M585.0 235.8h0M448.7 238.6h0M454.6 238.9h0M457.1 239.2h0M461.9 238.7h0M463.0 237.2h0M468.1 238.9h0M470.9 239.2h0M475.6 237.2h0M476.4 238.8h0M480.1 238.2h0M486.0 237.1h0M489.3 237.3h0M493.2 237.9h0M494.3 237.6h0M499.5 239.7h0M503.8 238.2h0M508.3 239.3h0M512.3 238.5h0M515.0 237.2h0M519.6 237.2h0M525.9 237.1h0M531.8 239.2h0M538.0 238.7h0M540.7 238.5h0M544.6 237.2h0M549.4 238.1h0M552.2 239.3h0M554.5 239.0h0M558.8 237.0h0M560.9 238.0h0M564.0 239.5h0M570.3 239.8h0M573.4 239.7h0M577.0 237.0h0M579.8 239.2h0M581.6 238.5h0M452.2 240.5h0M456.6 240.7h0M460.0 242.0h0M461.9 241.4h0M464.4 240.8h0M470.3 241.0h0M472.8 242.6h0M476.8 241.3h0M479.8 240.9h0M481.8 241.9h0M495.0 241.5h0M496.2 242.3h0M501.4 242.7h0M504.7 241.6h0M507.5 240.1h0M512.6 241.1h0M514.5 240.1h0M517.3 240.6h0M522.9 240.0h0M525.4 241.4h0M527.2 241.0h0M531.7 242.9h0M536.7 242.4h0M539.1 241.5h0M550.9 241.2h0M552.0 242.2h0M562.6 240.8h0M569.9 240.9h0M573.0 242.0h0M581.1 240.6h0M583.9 242.2h0M454.7 245.3h0M458.3 245.9h0M459.7 243.6h0M464.2 244.6h0M467.5 243.9h0M472.2 243.1h0M473.3 245.2h0M485.8 244.0h0M495.7 245.2h0M498.1 243.2h0M502.3 243.4h0M505.2 243.8h0M509.8 245.2h0M512.7 244.4h0M516.0 245.3h0M519.3 245.1h0M521.9 245.1h0M526.4 246.0h0M529.9 245.3h0M532.8 245.7h0M536.7 244.1h0M544.8 245.2h0M550.3 243.1h0M555.0 243.7h0M563.1 243.2h0M565.4 244.6h0M569.3 245.8h0M573.6 243.3h0M575.4 245.8h0M580.8 245.3h0M451.8 247.7h0M454.7 247.9h0M458.3 248.1h0M461.8 247.6h0M466.7 246.9h0M468.8 248.0h0M474.1 247.6h0M475.9 246.1h0M485.9 247.1h0M489.2 247.5h0M493.8 248.1h0M497.9 247.9h0M501.1 247.5h0M505.5 247.1h0M512.1 247.4h0M514.6 247.2h0M521.0 248.8h0M524.5 247.8h0M530.0 249.0h0M531.3 246.6h0M535.0 248.1h0M537.9 246.1h0M542.1 246.4h0M551.1 247.3h0M552.0 247.9h0M557.8 246.5h0M561.4 248.1h0M567.9 248.4h0M574.5 247.1h0M578.6 249.0h0M580.3 249.0h0M584.5 247.0h0M451.3 250.5h0M453.1 250.4h0M458.3 251.4h0M472.9 250.2h0M478.4 251.1h0M480.2 251.6h0M484.8 250.8h0M488.4 250.5h0M492.6 251.3h0M496.2 250.2h0M503.2 250.2h0M517.1 251.2h0M519.7 249.4h0M524.5 251.3h0M526.9 250.6h0M534.3 252.0h0M536.4 251.4h0M541.2 250.8h0M543.8 251.1h0M548.7 250.6h0M556.1 250.7h0M559.4 251.8h0M563.4 250.3h0M566.4 250.2h0M568.5 250.1h0M576.8 250.8h0M578.8 251.4h0M582.5 250.6h0M450.9 254.7h0M455.0 254.1h0M457.2 253.2h0M461.2 253.8h0M464.9 254.4h0M469.9 254.4h0M471.2 254.7h0M476.4 254.2h0M483.5 253.4h0M490.5 253.4h0M494.6 252.5h0M499.5 252.9h0M505.5 252.7h0M507.3 254.1h0M514.9 254.3h0M522.9 254.2h0M524.9 252.3h0M528.2 254.8h0M532.9 254.0h0M535.7 254.1h0M538.8 254.6h0M545.7 253.4h0M548.8 253.2h0M552.2 253.6h0M556.9 254.5h0M560.1 252.7h0M564.2 252.8h0M566.6 253.1h0M571.8 254.5h0M574.0 252.7h0M579.0 252.4h0M580.2 254.7h0M584.6 252.3h0M449.9 257.6h0M454.1 256.0h0M461.1 256.7h0M462.6 256.8h0M466.3 255.5h0M470.8 257.6h0M475.8 257.8h0M478.0 256.9h0M482.4 257.3h0M484.2 256.7h0M488.7 255.2h0M491.7 255.7h0M495.6 257.4h0M501.9 255.7h0M505.1 255.3h0M508.4 256.8h0M512.8 255.2h0M518.9 256.4h0M523.3 255.7h0M531.8 255.4h0M534.7 256.6h0M536.3 257.3h0M542.1 257.7h0M544.4 257.7h0M547.2 255.3h0M550.3 258.0h0M554.5 258.1h0M558.2 255.5h0M561.3 258.0h0M570.1 255.4h0M572.7 256.0h0M575.7 258.1h0M580.7 258.0h0M583.5 257.4h0M450.2 260.3h0M458.8 258.5h0M461.9 261.2h0M465.4 258.8h0M469.5 260.8h0M472.1 258.3h0M476.7 260.2h0M480.6 260.1h0M482.0 261.1h0M485.4 258.7h0M489.6 261.0h0M496.6 260.9h0M500.9 261.1h0M506.8 260.2h0M511.6 259.3h0M515.6 260.7h0M526.4 258.4h0M529.1 258.8h0M532.7 258.7h0M540.1 259.6h0M544.0 260.3h0M545.8 260.3h0M548.6 259.6h0M553.1 258.5h0M555.8 261.0h0M560.5 260.2h0M564.0 259.9h0M566.2 259.7h0M571.0 259.0h0M575.3 258.4h0M580.0 260.8h0M448.6 263.8h0M456.4 262.8h0M464.1 261.4h0M467.9 261.7h0M474.1 262.9h0M476.8 262.3h0M482.1 263.6h0M483.9 262.7h0M487.4 262.3h0M493.4 261.3h0M495.3 262.9h0M497.7 263.1h0M503.2 263.4h0M504.9 263.6h0M512.1 263.3h0M515.7 264.0h0M524.6 263.6h0M526.8 263.0h0M530.1 264.0h0M534.0 261.7h0M536.8 261.4h0M541.3 262.5h0M544.5 263.3h0M547.4 261.3h0M552.4 261.7h0M554.5 263.3h0M561.6 264.2h0M564.7 262.3h0M569.9 261.6h0M572.9 263.0h0M575.5 262.5h0M579.2 263.4h0M450.7 266.8h0M454.3 264.4h0M461.5 267.0h0M464.9 265.5h0M469.8 265.2h0M472.7 265.0h0M479.2 266.0h0M482.8 266.0h0M491.4 264.6h0M493.8 265.5h0M499.7 267.0h0M504.9 265.5h0M508.2 266.0h0M510.1 265.3h0M515.9 265.7h0M517.0 266.2h0M522.2 265.2h0M524.5 266.5h0M533.1 265.1h0M538.3 266.6h0M543.8 266.7h0M547.6 264.3h0M549.8 264.5h0M552.1 266.1h0M556.3 265.7h0M559.2 266.3h0M562.4 267.2h0M566.3 265.2h0M570.6 267.0h0M574.4 266.2h0M577.2 265.6h0M584.2 266.8h0M453.8 269.4h0M456.7 269.9h0M460.5 268.4h0M468.0 270.4h0M470.8 268.5h0M474.0 269.4h0M478.0 268.2h0M481.0 270.2h0M489.0 269.8h0M492.3 267.8h0M495.8 269.3h0M499.7 268.9h0M503.9 269.7h0M506.9 269.4h0M510.8 270.1h0M517.6 269.9h0M523.1 268.1h0M526.5 269.2h0M534.9 268.8h0M542.1 267.5h0M544.3 269.1h0M550.2 268.2h0M559.3 268.2h0M565.7 269.9h0M569.2 268.6h0M572.5 268.4h0M575.8 267.9h0M582.6 269.7h0M451.7 272.5h0M454.6 270.5h0M457.6 272.2h0M466.4 273.0h0M469.8 271.5h0M476.0 271.8h0M478.6 273.1h0M484.3 270.8h0M486.9 271.1h0M489.3 272.6h0M497.4 270.6h0M500.8 273.2h0M504.6 272.9h0M507.0 270.6h0M511.6 272.3h0M514.5 273.2h0M517.1 273.3h0M522.8 273.4h0M524.1 271.9h0M528.3 272.8h0M533.6 271.0h0M536.6 271.1h0M538.5 271.6h0M549.5 272.6h0M554.5 273.4h0M559.8 272.7h0M562.7 272.0h0M567.6 270.7h0M569.8 272.8h0M574.0 273.0h0M577.5 273.3h0M581.3 272.4h0M585.0 271.7h0M450.1 275.6h0M454.0 274.6h0M461.2 275.0h0M464.5 273.6h0M468.1 273.6h0M470.9 276.4h0M474.1 274.5h0M478.7 274.8h0M482.9 275.7h0M485.6 274.9h0M492.1 275.1h0M495.6 276.2h0M499.7 274.2h0M501.7 275.2h0M504.5 276.0h0M508.6 274.4h0M515.6 275.4h0M520.7 275.6h0M523.7 273.9h0M527.3 274.2h0M529.3 276.4h0M535.2 275.5h0M538.1 275.3h0M541.5 275.7h0M543.6 276.3h0M550.9 274.0h0M554.9 273.9h0M559.1 273.5h0M561.6 275.6h0M570.0 274.5h0M573.7 274.6h0M574.8 274.7h0M580.4 275.9h0M582.1 273.6h0M452.1 278.1h0M455.8 277.2h0M458.4 276.9h0M461.2 278.9h0M465.5 277.9h0M468.1 278.6h0M472.8 277.6h0M475.1 278.8h0M478.6 279.1h0M482.3 277.0h0M490.8 279.0h0M493.5 276.8h0M498.3 277.4h0M501.7 279.3h0M503.9 279.0h0M506.9 276.6h0M511.3 277.1h0M515.0 277.0h0M519.3 277.8h0M521.9 277.4h0M525.8 278.2h0M531.7 278.3h0M535.5 278.2h0M541.5 277.7h0M546.3 278.3h0M550.8 278.3h0M556.9 279.0h0M560.0 277.0h0M564.3 278.9h0M567.2 279.3h0M569.2 277.8h0M578.3 277.1h0M581.3 276.9h0M448.6 280.0h0M456.0 279.7h0M460.0 280.7h0M465.0 280.4h0M467.6 280.4h0M470.2 280.4h0M475.0 281.6h0M476.8 281.3h0M483.5 282.0h0M487.2 280.2h0M499.2 282.5h0M507.1 280.4h0M510.7 280.2h0M516.2 280.9h0M519.2 282.2h0M524.6 281.9h0M526.3 279.5h0M533.2 282.4h0M537.0 282.3h0M541.4 280.4h0M543.4 280.3h0M548.1 280.5h0M558.6 279.6h0M562.3 281.2h0M566.4 282.5h0M570.2 282.5h0M572.5 280.8h0M574.9 280.2h0M579.5 282.5h0M581.4 280.7h0M450.4 284.1h0M456.2 283.6h0M460.0 285.5h0M461.7 284.5h0M466.2 284.6h0M469.8 283.6h0M471.4 284.2h0M475.5 283.5h0M479.4 285.5h0M483.3 283.8h0M487.6 284.2h0M489.7 283.1h0M496.9 284.3h0M501.4 283.9h0M503.9 285.0h0M506.5 284.2h0M511.9 283.7h0M513.3 285.5h0M521.4 283.9h0M526.0 285.5h0M531.5 284.4h0M534.4 283.4h0M541.3 283.2h0M544.8 284.1h0M548.2 283.4h0M553.5 284.8h0M556.5 283.6h0M560.0 285.4h0M563.9 284.6h0M567.1 284.6h0M572.1 283.5h0M575.6 285.0h0M577.1 283.1h0M580.9 283.9h0M584.6 284.3h0M450.4 287.8h0M452.6 285.7h0M457.4 286.9h0M463.9 288.4h0M467.2 286.4h0M471.3 287.9h0M473.2 286.5h0M478.7 286.8h0M481.1 285.7h0M486.1 287.7h0M487.8 286.8h0M490.5 288.4h0M494.7 285.7h0M500.2 287.8h0M505.3 287.4h0M508.6 285.8h0M513.4 286.5h0M517.5 286.1h0M519.1 288.3h0M524.7 286.8h0M531.8 288.6h0M533.9 287.6h0M537.2 288.4h0M540.3 286.7h0M543.4 286.4h0M552.4 287.1h0M555.5 287.0h0M557.3 286.4h0M561.5 287.6h0M564.6 288.3h0M570.2 288.0h0M572.4 288.1h0M575.1 287.1h0M577.9 286.4h0M583.4 287.0h0M451.7 289.7h0M455.9 291.0h0M459.5 291.2h0M467.0 290.0h0M469.9 289.0h0M471.4 290.9h0M475.8 289.5h0M480.1 289.6h0M482.2 291.1h0M490.7 290.1h0M493.9 289.5h0M501.2 290.2h0M508.4 289.8h0M509.8 291.0h0M514.3 288.8h0M519.3 289.5h0M522.4 290.7h0M524.4 290.7h0M530.1 290.2h0M533.4 290.5h0M536.1 289.1h0M540.3 290.1h0M541.8 290.1h0M547.1 290.5h0M549.3 289.3h0M553.7 289.6h0M564.3 290.1h0M566.3 289.1h0M571.1 289.0h0M573.2 290.5h0M578.1 291.0h0M580.8 288.9h0M585.0 291.1h0M451.3 294.5h0M453.5 293.7h0M456.5 293.9h0M460.2 293.4h0M463.8 292.6h0M467.5 293.8h0M470.9 293.7h0M478.1 293.8h0M481.1 292.7h0M485.8 294.3h0M488.6 293.1h0M496.6 294.4h0M497.7 294.2h0M503.0 292.2h0M504.6 292.0h0M513.8 292.4h0M516.1 293.1h0M519.1 292.6h0M522.5 294.3h0M527.1 294.2h0M534.9 292.7h0M537.8 291.8h0M552.3 292.0h0M554.7 291.9h0M559.3 292.4h0M564.8 294.6h0M568.3 293.1h0M573.3 292.9h0M574.5 291.9h0M450.4 295.0h0M455.4 296.7h0M458.7 295.8h0M466.9 295.4h0M468.2 296.1h0M473.1 297.1h0M477.6 296.1h0M479.2 295.6h0M484.6 294.9h0M486.1 296.6h0M490.8 296.3h0M493.5 294.8h0M498.4 295.0h0M503.3 297.7h0M507.9 296.6h0M511.2 297.0h0M515.4 296.8h0M522.4 295.1h0M529.0 297.0h0M535.3 295.4h0M538.8 297.5h0M542.0 297.5h0M545.9 295.9h0M548.6 296.9h0M554.1 295.0h0M557.7 294.8h0M561.4 297.2h0M564.6 296.5h0M567.7 296.0h0M571.7 296.9h0M573.9 296.8h0M579.9 295.5h0M450.3 298.2h0M458.3 298.9h0M461.0 298.0h0M463.2 300.7h0M468.6 299.3h0M469.9 299.3h0M474.6 300.8h0M479.1 298.2h0M481.7 300.5h0M484.8 300.2h0M488.0 300.3h0M491.9 297.9h0M495.1 298.5h0M497.8 300.3h0M503.8 299.8h0M508.9 298.3h0M517.5 299.1h0M518.7 299.4h0M523.4 298.1h0M526.9 298.1h0M531.4 299.6h0M534.3 298.1h0M535.9 299.4h0M540.2 298.2h0M543.3 299.8h0M547.7 299.6h0M555.5 298.2h0M557.5 299.3h0M565.3 300.6h0M569.3 300.1h0M573.7 300.7h0M576.8 298.2h0M580.0 299.6h0M583.7 298.8h0M452.1 301.2h0M454.5 302.1h0M463.3 303.0h0M466.0 302.8h0M471.2 303.0h0M475.8 301.5h0M480.7 303.1h0M482.3 301.5h0M485.9 303.5h0M489.2 302.1h0M494.8 300.9h0M496.8 301.0h0M502.1 303.4h0M505.3 303.6h0M508.3 302.6h0M513.7 303.6h0M518.0 303.4h0M524.4 303.4h0M529.9 301.8h0M533.3 303.5h0M536.7 302.8h0M544.0 301.0h0M545.4 303.4h0M550.4 301.4h0M554.6 301.2h0M568.5 302.8h0M571.4 301.0h0M573.8 301.5h0M581.6 301.0h0M583.3 301.4h0M449.2 306.9h0M454.3 306.1h0M457.2 304.3h0M461.7 305.5h0M466.9 304.7h0M469.5 306.3h0M473.8 304.0h0M478.8 306.2h0M486.3 306.0h0M489.6 305.7h0M490.5 304.5h0M499.1 304.3h0M502.3 306.2h0M507.3 304.5h0M512.4 305.8h0M517.1 304.8h0M520.6 306.4h0M522.4 304.5h0M527.4 306.1h0M533.5 305.7h0M538.3 304.5h0M541.5 304.6h0M544.1 304.0h0M548.4 306.4h0M552.5 305.9h0M555.9 305.7h0M557.4 304.6h0M560.7 305.1h0M565.6 306.4h0M570.1 306.4h0M578.0 306.3h0M452.7 308.1h0M455.8 308.5h0M457.6 307.3h0M463.4 307.1h0M465.7 307.7h0M469.2 307.7h0M472.4 309.4h0M476.3 309.4h0M479.2 309.7h0M484.6 307.8h0M486.5 309.5h0M490.3 308.5h0M493.2 307.3h0M500.8 309.3h0M504.2 307.6h0M507.4 308.2h0M512.3 309.9h0M514.4 309.4h0M517.3 308.4h0M520.9 309.3h0M525.5 307.9h0M529.5 309.3h0M532.5 307.5h0M536.6 309.3h0M543.7 307.0h0M545.8 309.0h0M550.8 309.7h0M552.4 307.3h0M555.5 309.8h0M560.1 307.1h0M562.9 309.3h0M566.5 307.4h0M570.0 308.7h0M573.3 307.3h0M577.3 308.3h0M580.1 307.3h0M585.1 309.0h0M449.9 310.6h0M453.5 311.4h0M456.5 312.9h0M461.3 310.4h0M463.2 310.7h0M467.1 311.9h0M472.0 310.5h0M474.2 312.4h0M477.2 312.7h0M482.1 311.6h0M487.9 310.9h0M492.9 312.7h0M495.1 312.8h0M497.9 310.5h0M502.2 311.1h0M504.5 311.0h0M508.1 311.4h0M513.4 312.8h0M520.1 312.5h0M522.3 312.3h0M526.8 310.4h0M530.6 312.1h0M532.6 312.5h0M537.1 311.0h0M540.7 310.2h0M550.3 312.7h0M560.8 312.4h0M564.8 310.5h0M572.5 310.6h0M576.5 312.8h0M578.6 310.4h0M582.1 311.2h0M452.1 313.8h0M457.4 313.0h0M460.8 314.5h0M466.0 314.0h0M471.6 313.5h0M475.6 313.3h0M478.7 314.6h0M483.1 315.3h0M490.7 314.1h0M492.4 313.6h0M497.1 315.6h0M499.9 313.7h0M512.2 315.8h0M519.4 314.7h0M524.5 313.6h0M530.1 315.9h0M532.1 315.5h0M536.8 314.1h0M539.2 315.8h0M543.8 313.6h0M547.4 314.7h0M550.6 314.4h0M553.7 314.4h0M559.8 315.1h0M564.7 313.8h0M566.4 315.4h0M569.2 313.4h0M574.4 315.4h0M576.4 314.8h0M580.9 313.8h0M583.8 315.5h0" stroke="#5a5232" stroke-opacity="0.45" stroke-width="1.5" stroke-linecap="round" fill="none"/><path d="M453.8 214.3h0M470.9 214.0h0M490.9 214.7h0M534.5 213.1h0M451.2 215.7h0M490.7 216.6h0M499.4 217.1h0M512.2 215.8h0M531.7 217.0h0M561.0 216.5h0M518.7 219.7h0M537.4 221.5h0M543.0 219.0h0M465.0 222.2h0M483.6 223.5h0M517.4 224.4h0M549.9 223.3h0M515.8 227.3h0M538.1 226.2h0M541.9 225.2h0M491.1 230.8h0M509.7 229.1h0M579.1 228.6h0M482.6 233.4h0M568.9 231.7h0M483.7 234.3h0M489.5 235.1h0M506.7 234.4h0M512.0 234.7h0M580.8 234.4h0M534.0 238.0h0M486.4 241.6h0M491.6 241.0h0M546.1 241.3h0M559.2 241.4h0M478.9 245.0h0M481.6 244.8h0M489.7 243.2h0M493.2 245.0h0M556.9 243.1h0M479.9 246.3h0M545.7 248.2h0M569.2 248.2h0M461.4 251.8h0M472.4 250.0h0M498.5 251.8h0M514.1 250.8h0M530.4 250.5h0M573.4 249.3h0M480.9 252.2h0M542.4 254.2h0M457.2 255.3h0M493.6 259.7h0M518.0 259.8h0M537.1 260.2h0M460.4 263.8h0M469.6 261.4h0M509.6 263.5h0M521.3 263.0h0M559.4 264.2h0M581.7 261.3h0M463.6 268.4h0M484.4 269.0h0M548.3 269.3h0M462.8 270.7h0M473.2 271.6h0M541.9 272.9h0M488.2 276.3h0M547.7 276.2h0M487.5 276.6h0M527.9 278.7h0M552.0 279.1h0M585.5 277.2h0M453.9 281.3h0M492.9 280.5h0M503.6 280.6h0M513.7 281.3h0M531.4 282.4h0M526.4 286.7h0M546.7 288.4h0M487.4 290.5h0M498.0 291.1h0M504.8 290.6h0M556.3 290.0h0M559.8 289.9h0M492.6 293.3h0M509.4 293.1h0M529.4 294.6h0M541.5 293.4h0M545.3 294.2h0M501.2 294.9h0M524.5 295.3h0M576.9 296.3h0M452.3 299.3h0M511.8 302.7h0M521.3 302.6h0M538.2 302.4h0M560.7 301.6h0M462.7 304.7h0M510.3 304.9h0M496.4 307.2h0M486.3 312.2h0M556.3 311.6h0M570.2 310.7h0M503.4 314.8h0M507.5 314.3h0M523.0 313.7h0M557.6 315.7h0" stroke="#5a5232" stroke-opacity="0.45" stroke-width="2.0" stroke-linecap="round" fill="none"/></g></g><rect x="589.1" y="214.1" width="132.8" height="98.7" fill="url(#g13)"/><g clip-path="url(#c13)"><g filter="url(#f130)"><path d="M590.1 214.3h0M602.2 212.5h0M604.2 212.7h0M615.6 213.5h0M634.5 214.5h0M638.7 215.2h0M669.4 213.9h0M683.3 214.8h0M703.3 215.2h0M708.2 212.1h0M710.4 213.3h0M723.5 213.5h0M599.6 220.8h0M602.9 220.4h0M606.8 217.6h0M632.4 217.0h0M648.1 220.4h0M674.1 220.4h0M696.3 218.6h0M716.7 221.0h0M587.5 222.2h0M605.6 223.3h0M622.4 222.4h0M630.5 224.2h0M634.1 223.8h0M649.5 225.8h0M661.8 221.7h0M667.5 223.7h0M671.2 223.0h0M677.0 224.2h0M684.5 224.7h0M706.7 225.7h0M590.7 228.3h0M602.1 228.5h0M627.6 230.2h0M647.1 229.5h0M668.2 228.5h0M687.5 229.2h0M691.2 227.9h0M697.0 228.6h0M705.1 227.1h0M709.7 229.5h0M713.9 227.0h0M720.2 230.0h0M725.6 229.7h0M622.4 234.6h0M626.4 233.6h0M645.2 235.3h0M650.6 233.3h0M669.5 233.5h0M671.1 233.6h0M696.0 233.8h0M700.5 234.5h0M724.4 233.4h0M592.8 238.1h0M604.3 236.9h0M616.2 239.0h0M620.2 239.6h0M646.7 240.5h0M655.3 237.7h0M665.3 236.7h0M683.0 239.2h0M688.6 236.3h0M699.9 240.6h0M716.3 238.4h0M593.2 243.4h0M607.8 245.3h0M618.0 241.2h0M631.8 243.5h0M661.3 241.1h0M666.2 241.5h0M683.8 244.8h0M689.1 243.4h0M703.3 244.0h0M717.9 243.0h0M722.8 243.2h0M591.7 246.5h0M599.2 250.0h0M603.5 248.1h0M653.3 247.9h0M671.0 248.9h0M706.1 246.5h0M710.0 246.9h0M717.3 248.3h0M720.2 246.9h0M610.4 254.7h0M627.7 252.0h0M632.2 252.1h0M649.5 254.1h0M658.0 252.2h0M660.4 251.7h0M666.7 255.1h0M672.7 254.1h0M676.9 254.7h0M695.4 251.7h0M718.6 251.7h0M725.1 255.1h0M593.3 256.6h0M604.7 257.0h0M608.8 259.0h0M615.2 256.2h0M652.7 256.0h0M666.6 259.1h0M668.4 257.8h0M693.1 260.0h0M699.5 258.1h0M720.0 256.2h0M589.1 262.8h0M598.4 263.5h0M616.8 261.4h0M637.8 262.2h0M648.8 264.2h0M683.2 264.3h0M690.8 261.9h0M694.1 264.3h0M712.8 264.6h0M604.2 268.6h0M610.2 268.6h0M612.5 265.9h0M625.0 269.6h0M630.0 267.4h0M641.6 268.0h0M648.2 267.8h0M702.6 268.8h0M710.3 268.3h0M715.7 266.9h0M721.4 268.2h0M727.3 265.8h0M608.0 272.2h0M619.0 273.0h0M644.7 272.1h0M662.0 271.0h0M679.1 271.4h0M704.6 270.8h0M713.7 273.8h0M716.5 274.7h0M609.0 277.7h0M615.9 277.5h0M626.5 278.5h0M635.4 277.9h0M640.5 278.1h0M651.7 278.5h0M657.2 275.3h0M665.8 279.2h0M668.8 275.4h0M679.8 278.0h0M687.8 275.8h0M722.6 278.6h0M725.8 277.8h0M593.2 280.7h0M615.9 281.1h0M627.3 283.2h0M656.2 283.3h0M661.9 280.3h0M666.2 281.7h0M675.1 281.4h0M695.3 280.7h0M702.5 280.3h0M594.0 287.0h0M599.0 288.7h0M603.9 286.2h0M614.3 288.7h0M633.2 286.6h0M659.8 285.8h0M665.5 289.3h0M671.1 287.1h0M698.6 287.6h0M727.7 285.8h0M602.1 292.9h0M606.5 291.1h0M611.5 290.0h0M618.7 294.1h0M626.8 293.4h0M643.0 290.7h0M652.2 292.8h0M663.0 292.4h0M674.9 291.1h0M691.2 293.5h0M712.9 289.8h0M602.4 296.1h0M608.4 297.2h0M619.3 298.8h0M623.5 297.7h0M637.5 297.7h0M651.7 297.0h0M670.8 299.0h0M674.7 296.1h0M688.5 298.1h0M693.9 297.5h0M696.2 298.5h0M716.7 296.8h0M719.6 295.3h0M724.7 296.1h0M588.2 303.3h0M594.8 303.3h0M601.3 301.9h0M607.7 303.0h0M623.7 300.3h0M628.7 300.9h0M635.6 302.0h0M648.8 300.9h0M656.0 301.8h0M662.8 299.8h0M667.9 299.7h0M674.5 302.8h0M702.0 302.5h0M591.9 307.4h0M597.7 305.2h0M602.8 307.7h0M621.4 307.7h0M625.6 306.2h0M643.2 307.3h0M653.0 305.7h0M659.1 305.1h0M674.0 306.2h0M688.0 305.6h0M702.8 308.2h0M709.5 304.5h0M725.5 307.0h0M605.1 310.0h0M613.6 311.9h0M624.9 313.3h0M651.2 313.5h0M662.8 309.9h0M666.7 312.2h0M673.9 309.8h0M686.3 310.3h0M696.5 309.9h0M699.9 311.3h0M708.3 313.2h0M714.5 313.5h0M591.2 316.3h0M596.0 317.7h0M638.7 316.8h0M644.4 317.7h0M660.4 316.6h0M662.7 316.8h0M670.4 317.6h0M675.7 316.5h0M680.2 316.8h0M698.0 314.3h0M728.3 316.0h0" stroke="#545838" stroke-opacity="0.72" stroke-width="2.0" stroke-linecap="round" fill="none"/><path d="M593.8 214.8h0M612.5 215.9h0M621.8 214.4h0M626.9 213.1h0M645.8 216.1h0M648.8 212.0h0M655.0 213.7h0M662.7 213.1h0M674.0 215.7h0M680.6 215.3h0M688.3 213.4h0M694.6 213.2h0M719.5 213.8h0M590.0 218.7h0M615.4 219.9h0M618.0 219.8h0M624.1 217.1h0M637.4 217.5h0M640.8 217.1h0M652.9 217.0h0M657.7 218.2h0M665.4 219.7h0M669.0 219.7h0M680.2 219.6h0M685.7 217.6h0M691.5 219.0h0M702.5 219.3h0M709.4 219.2h0M719.3 220.8h0M728.0 217.4h0M594.1 223.4h0M602.3 223.5h0M609.4 222.7h0M618.5 224.6h0M639.2 223.5h0M646.9 222.9h0M656.3 221.6h0M689.9 224.4h0M696.4 225.3h0M699.9 225.2h0M714.1 223.2h0M719.3 222.3h0M721.4 221.8h0M599.5 228.7h0M609.1 229.6h0M614.7 227.8h0M617.8 227.2h0M633.1 228.5h0M637.4 229.2h0M644.1 227.9h0M654.2 227.8h0M659.9 228.2h0M663.1 229.8h0M678.1 226.9h0M681.7 227.0h0M587.1 235.6h0M593.9 232.6h0M599.1 234.8h0M606.9 233.1h0M613.5 232.1h0M615.7 235.7h0M633.8 235.1h0M638.5 232.3h0M655.0 233.0h0M660.6 232.7h0M677.1 233.4h0M683.7 234.6h0M688.0 231.6h0M706.9 232.3h0M712.3 231.4h0M719.3 235.7h0M595.9 238.9h0M609.4 236.8h0M626.2 238.9h0M632.4 239.2h0M638.5 238.9h0M641.5 236.7h0M659.5 237.6h0M668.6 238.4h0M675.1 239.2h0M690.7 240.4h0M705.7 236.3h0M710.8 237.9h0M719.3 236.5h0M726.5 237.0h0M587.3 242.4h0M602.0 242.0h0M612.3 241.4h0M621.0 242.6h0M629.6 242.5h0M637.7 245.1h0M647.3 243.9h0M649.1 243.2h0M656.6 243.9h0M674.3 245.5h0M680.2 242.0h0M694.5 244.3h0M706.6 243.7h0M714.2 243.6h0M607.9 248.3h0M614.7 246.2h0M620.4 246.8h0M627.5 249.9h0M631.2 249.3h0M637.7 247.6h0M643.4 248.5h0M647.4 247.5h0M658.2 248.7h0M663.4 248.8h0M673.8 247.6h0M682.1 250.0h0M687.8 247.5h0M691.1 249.8h0M698.1 249.0h0M724.7 250.3h0M588.5 251.3h0M596.5 251.2h0M600.6 255.2h0M605.7 250.9h0M618.8 252.3h0M623.7 254.9h0M641.0 250.9h0M645.2 251.5h0M682.9 251.6h0M692.1 252.6h0M700.4 251.9h0M704.9 252.5h0M710.3 255.1h0M598.0 256.1h0M618.5 256.1h0M624.7 259.7h0M632.1 257.9h0M636.0 257.8h0M642.0 257.7h0M650.1 258.9h0M659.1 259.1h0M677.6 259.7h0M682.8 258.9h0M686.9 259.9h0M702.3 258.3h0M708.1 259.7h0M713.8 258.1h0M728.3 259.4h0M594.4 263.1h0M608.0 261.5h0M612.1 261.5h0M620.8 263.7h0M628.5 262.3h0M632.4 263.8h0M646.0 260.6h0M656.5 263.7h0M663.6 261.2h0M667.2 261.3h0M675.1 260.7h0M678.9 264.5h0M703.0 261.2h0M704.8 263.5h0M720.1 263.1h0M722.5 265.0h0M591.8 266.4h0M597.8 269.8h0M621.1 268.8h0M637.8 269.1h0M655.1 269.0h0M657.4 266.5h0M666.1 268.2h0M670.0 266.4h0M675.1 267.1h0M680.8 268.6h0M685.0 267.7h0M693.4 269.2h0M700.5 265.6h0M590.9 274.4h0M596.9 273.6h0M600.5 272.7h0M611.7 272.2h0M622.9 270.9h0M629.8 273.3h0M632.4 274.4h0M639.5 270.5h0M649.8 270.9h0M656.4 272.2h0M667.8 273.2h0M674.2 271.9h0M684.9 274.0h0M691.3 273.9h0M694.4 271.6h0M700.2 272.4h0M724.9 272.9h0M593.0 275.6h0M598.5 275.4h0M602.2 277.2h0M620.0 276.0h0M630.2 279.4h0M646.4 278.2h0M675.2 276.0h0M694.9 276.4h0M699.1 279.6h0M702.3 278.1h0M709.9 276.9h0M713.2 277.6h0M587.2 284.4h0M602.2 280.7h0M607.9 283.4h0M610.6 283.0h0M623.2 284.0h0M632.2 280.1h0M639.9 282.1h0M643.8 281.0h0M650.3 282.3h0M676.9 281.7h0M684.6 284.0h0M690.6 281.9h0M707.3 283.1h0M713.0 281.9h0M715.9 281.9h0M723.9 281.6h0M610.1 286.5h0M619.5 285.1h0M627.3 287.1h0M635.2 289.0h0M642.5 288.1h0M648.7 285.4h0M655.2 287.0h0M674.5 286.3h0M679.9 286.6h0M688.3 289.3h0M691.4 287.4h0M702.8 287.9h0M710.4 287.8h0M714.1 287.5h0M721.4 284.9h0M591.3 291.8h0M595.2 293.5h0M621.3 291.4h0M634.1 291.0h0M637.9 292.0h0M658.1 290.6h0M665.6 290.6h0M679.3 290.7h0M686.2 293.2h0M696.5 289.9h0M700.9 294.1h0M706.5 292.9h0M716.9 292.9h0M724.1 293.1h0M590.4 295.8h0M598.7 296.5h0M616.2 294.7h0M632.5 297.6h0M641.0 297.5h0M646.0 295.4h0M658.3 298.0h0M662.8 297.3h0M680.1 295.8h0M702.9 296.0h0M711.5 298.7h0M613.6 302.1h0M615.9 299.7h0M640.4 302.7h0M647.1 301.6h0M677.3 302.8h0M682.5 301.4h0M690.8 300.4h0M696.0 303.1h0M705.8 301.2h0M712.8 300.8h0M718.0 303.9h0M724.6 301.1h0M607.4 307.3h0M616.0 304.5h0M629.3 305.4h0M635.4 305.7h0M647.3 304.5h0M663.0 305.3h0M669.6 304.9h0M679.6 305.7h0M694.5 307.2h0M697.1 307.9h0M714.0 305.3h0M722.7 305.8h0M591.0 311.6h0M596.0 311.6h0M601.3 311.4h0M615.8 311.9h0M629.7 313.6h0M635.9 311.0h0M640.4 312.8h0M646.6 310.8h0M656.9 313.1h0M677.8 311.7h0M691.5 311.9h0M719.6 313.5h0M722.9 312.1h0M604.0 316.1h0M607.8 314.5h0M613.3 315.1h0M619.9 318.1h0M625.3 316.1h0M629.5 315.5h0M647.4 314.3h0M652.3 317.8h0M685.6 315.1h0M694.5 314.7h0M704.6 314.2h0M708.6 315.7h0M713.6 314.7h0M719.9 315.6h0" stroke="#545838" stroke-opacity="0.72" stroke-width="2.5" stroke-linecap="round" fill="none"/></g></g><rect x="171.4" y="318.8" width="132.9" height="98.8" fill="url(#g20)"/><g clip-path="url(#c20)"><g filter="url(#f200)"><path d="M176.4 370.8h0" stroke="#c0c090" stroke-opacity="0.3" stroke-width="10.0" stroke-linecap="round" fill="none"/><path d="M295.4 327.8h0M292.4 342.8h0M179.4 407.8h0" stroke="#c0c090" stroke-opacity="0.3" stroke-width="12.0" stroke-linecap="round" fill="none"/><path d="M216.4 324.8h0" stroke="#c0c090" stroke-opacity="0.3" stroke-width="14.0" stroke-linecap="round" fill="none"/><path d="M252.4 337.8h0" stroke="#c0c090" stroke-opacity="0.3" stroke-width="18.0" stroke-linecap="round" fill="none"/><path d="M202.4 382.8h0" stroke="#c0c090" stroke-opacity="0.3" stroke-width="20.0" stroke-linecap="round" fill="none"/><path d="M252.4 362.8h0" stroke="#c0c090" stroke-opacity="0.3" stroke-width="22.0" stroke-linecap="round" fill="none"/></g><g filter="url(#f201)"><path d="M169.9 323.0h0M180.1 315.8h0M216.0 313.3h0M237.5 321.1h0M307.1 318.3h0M173.5 333.0h0M188.9 336.4h0M206.9 330.9h0M253.7 327.1h0M271.0 330.6h0M309.9 328.5h0M181.2 343.9h0M217.1 347.1h0M229.4 338.5h0M246.5 348.9h0M314.7 339.9h0M224.8 350.0h0M235.0 357.4h0M243.3 360.0h0M277.5 352.2h0M287.3 355.7h0M304.9 352.7h0M197.4 373.4h0M228.9 365.0h0M240.3 365.9h0M255.9 369.5h0M280.0 369.6h0M306.4 373.3h0M176.4 383.9h0M195.9 378.8h0M207.3 377.1h0M238.1 381.7h0M244.0 380.7h0M265.5 380.8h0M296.0 379.1h0M318.7 385.2h0M170.0 386.1h0M187.9 386.3h0M198.6 396.9h0M267.7 389.9h0M291.5 392.0h0M176.2 404.3h0M197.2 398.2h0M203.1 407.0h0M224.7 402.0h0M233.9 399.1h0M248.7 405.0h0M276.2 406.1h0M306.8 399.9h0M316.1 409.1h0M174.0 411.3h0M222.5 415.0h0M242.7 416.3h0M285.8 418.7h0M293.5 420.7h0M193.3 430.7h0M209.1 425.7h0M238.2 428.6h0M247.2 423.4h0M266.1 422.4h0" stroke="#38402c" stroke-opacity="0.9" stroke-width="2.5" stroke-linecap="round" fill="none"/><path d="M197.6 316.6h0M231.3 323.3h0M257.5 315.5h0M273.5 318.4h0M288.7 323.5h0M298.8 317.1h0M226.3 334.1h0M232.0 335.9h0M257.4 326.1h0M293.1 325.5h0M321.3 328.6h0M177.4 339.8h0M205.1 345.9h0M255.3 342.0h0M270.5 340.3h0M282.8 346.5h0M303.2 343.3h0M182.2 357.7h0M196.0 351.7h0M208.1 360.7h0M267.1 352.1h0M320.8 352.5h0M170.3 364.7h0M190.2 366.0h0M207.8 361.6h0M274.0 364.6h0M298.4 366.4h0M226.3 384.9h0M279.7 385.3h0M303.9 377.9h0M207.5 394.3h0M223.1 397.0h0M246.6 395.8h0M257.8 387.4h0M278.4 395.6h0M311.9 387.9h0M258.6 404.3h0M284.5 398.8h0M182.1 417.9h0M203.9 420.1h0M219.4 421.8h0M250.4 415.8h0M268.3 415.9h0M307.9 412.5h0M179.9 423.6h0M215.9 432.5h0M270.9 431.6h0M284.8 426.8h0M301.4 426.1h0M323.5 427.1h0" stroke="#38402c" stroke-opacity="0.9" stroke-width="3.0" stroke-linecap="round" fill="none"/></g><g filter="url(#f202)"><path d="M217.2 321.9h0M217.2 324.6h0M254.1 347.7h0M294.2 343.5h0M251.8 365.6h0M250.5 369.2h0M204.7 385.7h0M178.0 366.5h0M178.7 402.7h0" stroke="#36402c" stroke-opacity="0.88" stroke-width="2.0" stroke-linecap="round" fill="none"/><path d="M213.3 326.0h0M216.7 326.9h0M216.4 322.2h0M215.7 327.9h0M217.7 317.1h0M244.0 327.6h0M255.4 339.5h0M255.7 339.9h0M250.9 333.9h0M245.9 343.3h0M253.7 340.7h0M254.7 331.8h0M254.7 332.8h0M253.1 341.6h0M257.0 341.6h0M295.4 326.7h0M294.7 321.2h0M296.3 326.0h0M297.5 322.3h0M295.1 330.1h0M293.8 329.2h0M291.3 345.4h0M291.9 344.3h0M294.9 341.1h0M295.2 344.4h0M293.2 346.5h0M294.9 341.9h0M293.9 342.8h0M286.1 344.6h0M260.7 361.8h0M249.4 367.2h0M246.8 368.0h0M252.7 363.0h0M254.2 356.9h0M246.2 363.5h0M241.5 366.5h0M260.4 362.3h0M259.1 359.0h0M255.1 369.6h0M249.6 363.5h0M259.0 361.4h0M247.0 357.9h0M251.6 366.2h0M261.6 358.4h0M255.2 364.6h0M242.4 354.7h0M249.6 364.3h0M252.8 356.8h0M249.0 355.1h0M245.0 371.2h0M253.3 357.3h0M252.3 374.8h0M203.1 381.5h0M202.1 383.9h0M206.7 376.8h0M206.3 382.3h0M201.8 389.0h0M204.2 388.7h0M200.8 388.0h0M201.0 381.0h0M207.8 384.8h0M198.9 393.7h0M206.6 388.2h0M204.4 378.0h0M199.7 381.0h0M205.3 384.5h0M205.0 386.8h0M197.6 379.5h0M210.4 377.7h0M205.8 380.4h0M170.4 374.3h0M176.0 371.3h0M173.8 367.4h0M175.0 373.5h0M177.7 371.8h0M181.4 371.2h0M179.0 410.0h0M175.5 405.0h0M182.9 413.6h0M182.1 411.6h0M177.3 410.2h0M183.5 406.9h0" stroke="#36402c" stroke-opacity="0.88" stroke-width="2.5" stroke-linecap="round" fill="none"/><path d="M212.9 328.3h0M215.9 324.4h0M215.7 326.5h0M219.2 321.9h0M214.4 325.4h0M217.4 327.7h0M211.5 326.2h0M248.4 338.8h0M257.0 336.4h0M249.0 333.6h0M253.5 335.4h0M251.3 332.8h0M244.6 342.1h0M256.1 337.8h0M258.7 339.1h0M253.2 347.8h0M251.4 340.5h0M244.0 339.4h0M295.5 326.3h0M292.7 325.5h0M293.4 328.3h0M294.5 324.3h0M286.0 342.5h0M296.2 339.5h0M294.9 344.4h0M254.8 364.3h0M262.3 353.5h0M243.7 363.0h0M256.4 367.0h0M257.2 363.7h0M201.7 384.3h0M206.2 386.6h0M207.0 378.3h0M197.0 383.3h0M202.8 382.0h0M198.5 379.4h0M205.7 377.9h0M179.0 369.5h0M181.7 366.8h0M174.0 370.8h0M178.5 404.0h0M178.5 409.0h0M175.0 407.3h0M176.6 407.9h0M175.0 406.5h0" stroke="#36402c" stroke-opacity="0.88" stroke-width="3.0" stroke-linecap="round" fill="none"/></g></g><rect x="310.7" y="318.8" width="132.8" height="98.8" fill="url(#g21)"/><g clip-path="url(#c21)"><g filter="url(#f210)"><path d="M334.7 334.8h0" stroke="#2a2e20" stroke-opacity="0.9" stroke-width="1.5" stroke-linecap="round" fill="none"/><path d="M439.7 415.8h0" stroke="#2a2e20" stroke-opacity="0.9" stroke-width="2.5" stroke-linecap="round" fill="none"/><path d="M354.7 328.8h0M378.7 333.8h0" stroke="#2a2e20" stroke-opacity="0.9" stroke-width="3.5" stroke-linecap="round" fill="none"/></g></g><rect x="449.9" y="318.8" width="132.8" height="98.8" fill="url(#g22)"/><g clip-path="url(#c22)"><g filter="url(#f220)"><path d="M450.5 320.0h0M454.2 320.0h0M458.3 318.1h0M465.0 318.1h0M469.6 318.1h0M479.0 320.1h0M484.0 317.6h0M492.9 318.0h0M498.0 317.6h0M500.6 318.3h0M504.2 319.7h0M508.2 320.0h0M534.0 318.7h0M539.8 319.7h0M551.3 318.1h0M560.3 318.1h0M565.4 319.2h0M568.8 319.7h0M576.8 317.9h0M580.0 317.3h0M454.8 320.8h0M458.0 321.9h0M473.6 320.8h0M486.0 320.7h0M488.8 321.7h0M492.7 320.9h0M495.9 323.5h0M509.5 323.3h0M521.3 323.2h0M529.0 322.1h0M532.7 320.9h0M536.2 322.6h0M550.6 320.6h0M557.8 320.7h0M565.1 322.3h0M569.3 321.5h0M573.2 321.2h0M584.4 321.1h0M458.4 326.0h0M471.0 325.0h0M500.5 326.3h0M524.7 326.2h0M529.9 325.6h0M537.9 326.7h0M542.5 326.3h0M547.5 324.6h0M557.9 326.7h0M561.5 326.3h0M568.2 326.2h0M572.3 326.0h0M579.1 324.3h0M450.7 327.6h0M456.9 329.1h0M460.2 329.8h0M471.6 328.3h0M472.5 329.1h0M478.8 329.9h0M480.4 328.7h0M483.9 327.2h0M502.8 328.0h0M507.6 327.3h0M525.1 327.5h0M530.3 329.8h0M532.2 327.5h0M540.5 328.8h0M543.9 328.3h0M559.7 329.8h0M565.1 327.8h0M570.0 328.7h0M573.0 327.0h0M576.4 327.7h0M454.3 331.9h0M457.3 332.2h0M464.5 330.6h0M467.8 331.9h0M474.9 332.6h0M487.1 331.2h0M497.7 330.3h0M505.8 330.2h0M509.4 330.9h0M516.3 333.1h0M524.9 330.5h0M527.5 331.0h0M530.2 330.3h0M533.9 330.3h0M539.3 332.1h0M543.3 330.3h0M547.4 330.3h0M549.7 331.2h0M569.1 331.7h0M572.1 332.2h0M576.9 331.4h0M579.5 332.5h0M582.2 331.6h0M451.6 333.8h0M467.5 336.3h0M470.3 334.5h0M481.4 333.7h0M493.5 334.5h0M502.4 336.2h0M506.5 335.2h0M510.1 336.3h0M519.3 334.8h0M533.5 334.6h0M536.3 335.5h0M540.5 335.7h0M548.3 336.1h0M554.8 334.1h0M560.0 335.6h0M563.7 336.4h0M453.7 339.5h0M463.3 339.4h0M467.5 338.1h0M472.1 338.8h0M476.7 337.6h0M484.1 337.9h0M487.0 339.2h0M494.9 339.4h0M497.9 337.4h0M512.9 338.0h0M531.2 338.0h0M538.6 337.7h0M549.9 336.9h0M556.5 338.8h0M559.5 337.1h0M569.7 338.3h0M574.7 337.8h0M579.9 339.5h0M459.3 342.8h0M467.6 340.0h0M480.6 342.6h0M491.8 341.6h0M496.8 342.7h0M499.7 341.6h0M504.8 340.5h0M507.8 342.1h0M509.8 341.9h0M522.9 341.8h0M524.5 340.2h0M537.7 342.8h0M548.6 341.9h0M555.5 341.7h0M559.9 342.1h0M565.6 341.0h0M568.8 340.3h0M573.9 341.3h0M449.6 345.6h0M454.2 343.4h0M461.9 344.5h0M476.2 343.1h0M484.0 344.0h0M489.9 345.8h0M493.5 344.9h0M496.7 344.2h0M505.9 344.3h0M509.2 343.4h0M515.5 343.1h0M521.2 345.7h0M535.5 343.1h0M543.8 343.7h0M550.9 345.0h0M557.6 345.4h0M563.4 344.6h0M568.7 345.4h0M452.8 346.4h0M455.0 347.3h0M465.4 347.3h0M473.6 349.0h0M478.4 349.0h0M481.0 348.1h0M493.2 347.1h0M495.9 346.4h0M498.7 348.3h0M503.0 346.9h0M506.4 348.9h0M547.7 348.9h0M559.1 348.0h0M562.9 348.0h0M573.5 346.8h0M576.2 348.5h0M580.6 347.8h0M585.2 347.7h0M457.5 349.6h0M460.8 349.6h0M467.6 351.1h0M471.4 350.9h0M477.1 350.9h0M502.6 351.6h0M509.0 350.2h0M513.7 350.1h0M516.6 349.7h0M523.9 350.9h0M528.6 352.3h0M542.8 352.1h0M545.9 349.8h0M551.3 351.6h0M552.9 350.1h0M560.6 351.3h0M571.4 350.0h0M579.8 350.1h0M583.9 351.2h0M460.5 353.2h0M463.0 354.6h0M475.2 353.3h0M480.2 354.7h0M487.6 354.7h0M499.9 355.2h0M502.6 353.4h0M508.2 354.7h0M513.5 353.8h0M518.2 353.4h0M521.6 355.3h0M524.5 353.1h0M551.6 354.4h0M553.9 355.0h0M569.0 353.4h0M575.1 353.9h0M577.6 353.7h0M583.8 353.7h0M452.3 357.2h0M460.5 357.5h0M464.2 356.1h0M471.0 356.5h0M474.4 357.0h0M484.7 356.8h0M490.2 358.4h0M498.3 357.3h0M504.9 357.6h0M508.1 358.0h0M513.9 356.1h0M517.2 357.2h0M523.5 358.8h0M543.0 357.0h0M556.5 358.1h0M560.8 356.0h0M571.4 356.9h0M579.9 357.9h0M582.4 358.2h0M453.2 359.6h0M456.2 361.9h0M460.5 360.7h0M475.1 361.7h0M479.0 362.0h0M484.8 360.6h0M493.1 359.5h0M496.1 361.5h0M500.6 359.8h0M507.4 359.2h0M511.1 359.5h0M518.0 361.8h0M526.5 361.6h0M532.6 361.7h0M538.3 360.8h0M550.3 360.5h0M557.6 360.1h0M562.5 360.0h0M580.8 359.6h0M585.4 359.5h0M450.9 364.8h0M469.3 362.7h0M473.0 364.7h0M478.1 363.8h0M486.5 362.7h0M491.6 363.9h0M495.4 365.3h0M496.9 363.3h0M502.8 364.5h0M512.6 364.0h0M516.2 364.1h0M522.9 363.8h0M528.9 362.4h0M532.7 364.5h0M535.7 363.9h0M537.5 362.5h0M552.7 363.0h0M565.5 364.7h0M572.5 364.7h0M451.6 368.4h0M456.7 367.7h0M458.1 367.7h0M462.2 365.8h0M477.2 368.4h0M480.2 367.5h0M488.0 367.2h0M492.3 368.1h0M495.1 366.6h0M499.4 366.6h0M517.0 367.1h0M523.3 368.0h0M529.2 366.8h0M532.9 365.7h0M536.1 365.7h0M550.2 366.7h0M555.9 366.7h0M558.0 368.5h0M561.7 366.7h0M565.5 367.7h0M568.7 368.4h0M578.3 365.6h0M582.1 367.7h0M465.3 371.1h0M474.8 370.3h0M478.2 371.1h0M487.5 369.8h0M490.2 370.3h0M493.7 371.7h0M498.6 370.7h0M506.3 369.7h0M509.0 371.2h0M515.5 370.5h0M520.3 371.1h0M526.2 369.7h0M539.4 369.8h0M546.4 369.8h0M552.1 369.7h0M556.0 370.2h0M565.7 371.3h0M579.6 368.8h0M583.9 370.8h0M451.6 373.5h0M454.3 373.0h0M461.4 373.4h0M482.5 374.0h0M490.0 372.7h0M493.8 374.7h0M499.9 375.0h0M523.1 372.8h0M528.8 374.7h0M538.2 373.1h0M550.4 374.2h0M556.1 373.8h0M558.5 373.5h0M562.0 373.9h0M567.7 373.6h0M569.2 372.9h0M461.2 377.9h0M465.7 376.5h0M489.7 376.7h0M495.4 377.8h0M502.6 377.4h0M509.1 377.3h0M513.0 376.1h0M517.6 376.9h0M522.9 376.6h0M527.3 376.3h0M536.3 376.4h0M542.8 375.6h0M546.0 377.2h0M550.5 377.8h0M553.6 375.5h0M557.4 377.7h0M563.3 376.8h0M569.1 377.3h0M573.5 377.9h0M574.8 377.6h0M582.7 377.0h0M452.1 378.6h0M459.1 381.3h0M463.5 379.7h0M466.1 379.6h0M486.5 380.2h0M488.8 379.1h0M492.8 379.1h0M514.7 378.8h0M518.8 381.2h0M521.6 380.0h0M525.0 379.0h0M528.1 379.3h0M534.3 380.4h0M536.3 380.5h0M541.6 381.0h0M547.2 378.6h0M555.3 380.6h0M568.8 379.8h0M584.1 380.0h0M449.3 381.9h0M457.2 382.6h0M460.6 384.6h0M473.2 383.3h0M475.8 382.4h0M482.9 384.3h0M495.0 383.3h0M499.3 383.1h0M501.8 383.2h0M508.7 383.6h0M517.8 382.9h0M524.7 383.0h0M532.3 382.1h0M535.0 383.5h0M543.8 382.2h0M554.9 382.4h0M555.7 384.2h0M571.7 384.6h0M575.0 382.4h0M452.7 385.8h0M454.7 387.3h0M476.9 387.1h0M483.8 385.4h0M515.8 385.2h0M521.9 385.4h0M529.2 386.6h0M539.4 385.1h0M543.3 385.5h0M560.0 386.6h0M561.5 385.7h0M569.8 387.0h0M575.1 385.6h0M580.4 387.7h0M585.5 386.3h0M458.5 388.7h0M459.5 389.2h0M464.1 388.5h0M471.7 389.7h0M474.5 390.6h0M479.1 388.8h0M486.1 390.1h0M498.1 388.4h0M502.7 391.0h0M506.6 390.8h0M512.0 388.3h0M515.8 389.7h0M519.9 389.1h0M523.2 390.1h0M528.8 390.7h0M536.0 388.8h0M537.3 390.9h0M542.1 390.4h0M546.8 388.2h0M548.4 390.6h0M554.4 390.4h0M560.7 388.5h0M572.1 390.0h0M574.3 389.7h0M580.5 388.8h0M456.2 393.6h0M466.9 391.8h0M469.9 394.0h0M478.3 391.4h0M485.9 393.5h0M490.2 391.4h0M492.8 393.3h0M496.7 392.7h0M499.3 392.6h0M510.0 393.8h0M519.8 392.0h0M521.4 393.5h0M527.0 392.2h0M534.3 392.7h0M537.7 392.8h0M545.4 393.7h0M548.1 392.7h0M563.2 391.6h0M567.4 392.5h0M574.7 394.2h0M585.1 393.1h0M456.0 395.1h0M462.4 396.0h0M472.4 395.3h0M483.9 396.6h0M489.4 395.8h0M494.7 395.9h0M498.0 396.2h0M501.2 395.3h0M505.0 395.4h0M517.0 395.5h0M531.7 397.2h0M534.4 396.2h0M538.8 395.3h0M542.7 394.9h0M544.9 396.6h0M558.0 395.6h0M560.0 396.7h0M571.5 395.2h0M579.1 395.6h0M582.0 395.1h0M457.8 398.4h0M464.0 400.0h0M477.4 400.2h0M482.5 399.5h0M511.3 399.8h0M517.0 398.4h0M521.7 399.8h0M525.8 399.0h0M538.1 398.8h0M548.1 400.0h0M551.6 400.5h0M557.8 398.6h0M563.9 400.7h0M573.7 399.3h0M577.4 397.9h0M582.7 398.6h0M586.4 398.7h0M453.0 401.4h0M463.8 401.5h0M473.1 403.2h0M474.7 403.4h0M486.5 403.8h0M494.9 402.5h0M496.6 402.9h0M505.9 403.3h0M528.5 402.0h0M531.4 402.4h0M541.2 401.5h0M554.0 403.5h0M561.0 404.0h0M567.5 401.8h0M573.0 402.7h0M575.3 401.8h0M580.4 403.3h0M582.6 403.8h0M452.4 407.0h0M469.5 405.6h0M474.4 406.2h0M478.5 407.0h0M486.4 406.3h0M495.7 404.5h0M504.0 405.4h0M517.1 407.1h0M520.7 404.3h0M532.3 406.3h0M539.3 405.7h0M546.6 407.1h0M555.7 407.1h0M560.0 405.7h0M580.9 404.7h0M583.8 406.9h0M451.3 407.8h0M463.5 408.3h0M469.5 409.2h0M472.5 410.2h0M474.9 409.0h0M478.7 409.4h0M499.3 408.1h0M505.6 410.2h0M508.8 409.1h0M517.6 409.7h0M524.0 409.5h0M536.5 408.1h0M539.9 409.5h0M544.9 409.6h0M554.8 410.3h0M558.3 409.3h0M563.7 409.0h0M573.5 408.0h0M583.2 408.3h0M458.0 410.8h0M483.6 413.4h0M492.3 412.6h0M508.3 411.7h0M511.0 412.2h0M515.0 413.2h0M518.7 412.3h0M524.5 413.3h0M534.0 411.5h0M537.1 412.8h0M540.1 412.5h0M551.1 410.9h0M556.7 412.2h0M557.7 412.3h0M566.7 411.0h0M580.4 412.4h0M449.5 414.9h0M461.5 416.8h0M467.9 416.8h0M475.5 416.1h0M494.3 414.4h0M501.8 416.4h0M512.5 415.1h0M516.8 416.3h0M528.7 413.9h0M530.4 416.2h0M550.2 416.2h0M553.7 414.7h0M565.0 416.3h0M572.2 414.2h0M576.3 416.7h0M459.0 418.5h0M466.8 418.7h0M471.1 420.0h0M478.5 417.5h0M495.9 420.1h0M500.2 418.1h0M511.5 417.9h0M521.5 418.3h0M524.3 420.0h0M533.1 419.6h0M536.1 418.5h0M540.0 417.6h0M542.8 417.5h0M556.5 419.8h0M562.8 418.9h0M569.6 418.2h0M574.0 418.2h0M581.6 417.5h0" stroke="#4a4430" stroke-opacity="0.65" stroke-width="1.5" stroke-linecap="round" fill="none"/><path d="M462.1 319.0h0M472.2 319.5h0M474.4 319.6h0M487.7 319.4h0M491.2 317.4h0M514.1 318.2h0M516.6 318.5h0M519.9 319.7h0M523.4 319.8h0M526.1 319.1h0M531.3 318.5h0M543.3 318.9h0M545.3 319.6h0M554.3 318.1h0M558.2 317.8h0M573.1 318.9h0M583.2 318.6h0M452.8 320.9h0M462.7 320.9h0M465.7 321.8h0M470.8 320.9h0M478.0 321.6h0M480.8 323.0h0M501.2 322.5h0M504.8 322.3h0M507.2 322.9h0M515.1 320.7h0M518.1 320.9h0M525.9 321.9h0M539.5 323.4h0M543.0 323.1h0M548.3 323.4h0M555.2 322.2h0M562.3 323.3h0M577.8 322.2h0M580.6 320.6h0M451.2 325.5h0M452.2 325.4h0M462.5 323.8h0M464.6 326.5h0M469.1 324.0h0M475.2 323.9h0M478.3 324.5h0M482.6 325.5h0M487.3 326.2h0M489.8 324.3h0M495.6 324.7h0M496.8 324.4h0M506.2 324.1h0M509.3 325.4h0M511.4 325.9h0M516.6 324.4h0M520.0 324.5h0M526.1 323.8h0M535.8 323.8h0M549.1 324.8h0M552.2 326.5h0M564.3 324.3h0M575.0 324.0h0M582.6 324.1h0M463.7 328.8h0M467.8 329.0h0M488.6 327.5h0M493.2 329.5h0M496.9 329.3h0M499.3 328.7h0M510.0 327.3h0M514.1 329.8h0M518.6 328.4h0M523.0 327.5h0M536.5 329.6h0M547.4 328.7h0M550.9 327.2h0M554.3 327.0h0M563.6 329.5h0M582.3 327.6h0M585.2 327.1h0M450.8 330.9h0M461.7 332.4h0M471.5 330.6h0M479.1 332.4h0M482.9 333.0h0M491.2 330.4h0M493.5 330.7h0M502.6 331.3h0M514.3 331.1h0M518.8 332.1h0M554.5 332.5h0M556.9 331.8h0M561.1 331.1h0M564.7 330.9h0M455.0 336.1h0M458.5 335.3h0M461.4 334.7h0M474.9 334.7h0M478.4 336.0h0M484.1 335.7h0M487.7 335.1h0M496.2 334.6h0M500.9 336.1h0M513.4 334.6h0M521.0 335.8h0M524.9 335.4h0M529.0 334.1h0M543.1 335.4h0M551.7 334.8h0M567.3 335.5h0M569.3 333.4h0M573.3 335.9h0M578.6 335.6h0M582.2 336.2h0M586.1 334.4h0M448.7 337.2h0M456.0 337.1h0M461.9 337.9h0M480.7 338.8h0M491.2 338.0h0M501.1 337.3h0M505.6 338.8h0M510.5 338.2h0M515.9 337.6h0M520.0 338.3h0M525.4 338.4h0M527.0 338.4h0M536.4 336.8h0M543.7 337.6h0M545.8 338.6h0M554.0 336.6h0M565.0 338.7h0M572.5 337.7h0M583.1 338.5h0M451.3 340.6h0M454.9 341.3h0M462.0 341.1h0M469.5 342.2h0M472.9 342.2h0M478.6 340.9h0M484.7 340.7h0M489.5 341.4h0M515.6 339.9h0M519.3 341.4h0M530.0 341.9h0M532.8 340.9h0M541.9 341.1h0M543.4 341.5h0M552.9 340.0h0M564.0 341.1h0M578.8 341.7h0M580.6 341.1h0M584.7 341.3h0M456.1 345.7h0M464.8 345.7h0M466.9 346.0h0M472.4 343.1h0M478.1 343.2h0M486.2 343.7h0M502.6 343.8h0M514.1 343.6h0M523.4 344.1h0M527.0 344.5h0M530.6 343.5h0M539.7 344.8h0M545.0 345.7h0M554.1 343.9h0M561.7 344.7h0M571.8 344.9h0M577.1 345.6h0M578.9 343.2h0M582.3 345.2h0M460.1 347.6h0M461.7 347.9h0M470.4 346.5h0M484.3 349.0h0M488.7 347.7h0M511.1 347.2h0M514.9 346.8h0M516.9 349.3h0M521.2 347.6h0M526.6 348.6h0M528.5 348.2h0M532.1 346.4h0M538.1 347.3h0M539.4 348.9h0M543.7 348.4h0M551.0 346.6h0M556.1 347.0h0M566.1 346.8h0M571.1 347.0h0M450.4 351.4h0M453.1 351.8h0M465.7 349.8h0M480.2 350.0h0M484.0 352.3h0M487.6 351.9h0M490.9 352.2h0M493.9 350.6h0M499.3 350.6h0M504.7 350.4h0M519.3 352.1h0M531.5 351.8h0M536.4 352.2h0M537.6 352.5h0M556.6 351.0h0M564.6 350.9h0M569.5 351.2h0M574.6 351.8h0M453.2 355.0h0M456.9 355.1h0M465.9 355.0h0M470.2 355.5h0M478.1 355.1h0M484.5 352.9h0M493.4 353.7h0M495.0 353.0h0M510.6 355.0h0M529.3 355.5h0M532.5 353.1h0M537.8 353.4h0M540.1 355.6h0M543.3 355.1h0M547.6 354.3h0M560.2 352.7h0M562.0 354.8h0M567.2 355.2h0M582.2 354.1h0M450.9 357.3h0M457.9 356.6h0M469.6 358.9h0M479.0 358.4h0M487.7 358.1h0M495.0 358.0h0M501.6 357.8h0M520.2 358.7h0M526.4 358.1h0M532.2 357.1h0M534.1 356.7h0M539.8 358.8h0M547.4 358.2h0M548.8 357.2h0M554.8 358.4h0M563.7 357.2h0M568.8 358.6h0M575.0 358.5h0M463.0 359.8h0M466.9 361.7h0M471.3 361.2h0M480.5 361.0h0M488.5 360.9h0M504.6 359.7h0M514.6 360.6h0M522.8 359.6h0M530.2 359.6h0M541.8 361.5h0M544.0 359.8h0M549.0 361.4h0M555.5 361.2h0M565.6 360.6h0M569.3 362.0h0M575.0 361.8h0M578.8 359.7h0M452.7 362.4h0M458.8 362.8h0M460.8 364.6h0M465.4 362.7h0M477.1 364.3h0M483.0 363.4h0M505.8 364.9h0M508.1 363.7h0M519.6 363.6h0M542.1 365.3h0M546.3 364.4h0M550.7 363.5h0M556.9 363.3h0M559.5 363.3h0M568.7 362.4h0M575.4 363.3h0M580.2 362.8h0M582.2 362.8h0M468.0 368.1h0M470.7 367.5h0M474.9 368.5h0M486.2 368.5h0M504.0 367.1h0M506.7 368.3h0M511.1 366.7h0M514.5 366.8h0M524.9 367.6h0M539.6 366.6h0M545.7 367.7h0M548.1 367.9h0M575.0 368.5h0M584.3 365.8h0M450.3 369.9h0M453.6 369.6h0M455.8 371.0h0M460.0 370.1h0M469.2 369.9h0M472.1 370.5h0M482.2 369.2h0M502.1 370.9h0M511.3 370.2h0M522.9 370.1h0M531.2 371.2h0M535.3 369.5h0M543.8 370.3h0M551.1 371.1h0M560.0 370.4h0M567.5 370.2h0M571.1 369.0h0M574.2 370.3h0M460.5 373.0h0M465.2 372.9h0M470.6 372.9h0M474.6 374.6h0M476.4 374.4h0M486.1 373.5h0M496.0 374.6h0M503.2 372.5h0M507.5 372.8h0M512.2 373.5h0M513.8 374.1h0M517.5 374.1h0M524.6 373.5h0M533.1 374.0h0M541.3 374.4h0M543.6 374.6h0M548.2 373.0h0M572.8 372.9h0M578.9 374.8h0M581.9 374.9h0M584.7 372.5h0M451.3 378.1h0M453.4 377.3h0M458.0 377.8h0M469.4 377.6h0M472.0 376.0h0M476.3 377.3h0M478.1 377.6h0M482.1 375.4h0M486.2 376.8h0M498.9 375.7h0M504.8 377.2h0M519.6 376.3h0M532.5 376.2h0M539.2 378.1h0M561.8 377.2h0M580.5 376.1h0M455.0 380.2h0M470.2 380.8h0M473.6 380.8h0M476.3 380.9h0M481.8 380.0h0M496.1 380.5h0M500.8 381.5h0M503.1 379.8h0M506.4 381.3h0M512.3 379.6h0M544.3 379.6h0M553.0 380.3h0M559.1 380.4h0M564.1 380.4h0M565.4 379.1h0M574.0 379.4h0M576.4 380.9h0M581.0 380.9h0M454.8 383.2h0M463.8 382.3h0M468.1 382.0h0M478.9 382.8h0M486.3 382.2h0M489.6 383.4h0M504.0 383.2h0M513.5 384.1h0M518.7 382.8h0M527.9 381.8h0M538.4 384.5h0M545.4 384.4h0M550.0 381.9h0M559.9 384.3h0M564.4 382.4h0M567.8 383.9h0M579.3 384.5h0M582.6 382.6h0M459.7 386.9h0M463.0 385.0h0M465.8 387.5h0M470.8 387.0h0M474.9 387.7h0M482.1 386.6h0M487.5 387.5h0M492.0 386.3h0M496.7 385.2h0M498.4 385.2h0M503.0 386.8h0M507.2 386.5h0M510.7 387.2h0M516.9 385.0h0M524.9 387.6h0M533.1 385.1h0M537.1 387.1h0M548.9 386.7h0M551.6 387.7h0M554.2 386.9h0M565.2 387.2h0M576.7 387.8h0M450.2 388.8h0M454.3 389.4h0M467.7 390.9h0M482.4 388.8h0M491.9 390.8h0M495.6 390.3h0M509.9 390.5h0M530.7 390.1h0M556.6 390.5h0M564.1 389.6h0M569.4 390.2h0M582.4 390.1h0M450.6 392.5h0M459.8 392.7h0M461.9 393.9h0M473.7 392.4h0M480.1 392.8h0M504.2 391.8h0M508.5 393.8h0M513.8 392.2h0M530.4 393.5h0M540.9 392.7h0M551.0 391.4h0M554.5 391.9h0M558.4 393.4h0M570.1 391.4h0M578.1 394.2h0M581.1 394.2h0M449.6 396.1h0M453.8 395.6h0M465.7 395.3h0M467.1 396.3h0M476.7 395.4h0M479.3 394.9h0M486.5 396.0h0M509.7 395.3h0M511.5 395.4h0M520.8 395.7h0M525.1 395.0h0M526.8 396.3h0M549.1 397.1h0M553.4 395.5h0M565.9 395.2h0M568.0 395.4h0M575.5 394.8h0M451.9 399.7h0M454.7 400.2h0M465.8 398.3h0M470.0 400.6h0M473.3 398.6h0M486.5 398.8h0M490.1 400.5h0M492.3 400.1h0M495.5 399.1h0M500.7 398.7h0M502.4 399.0h0M506.7 397.8h0M513.4 397.9h0M530.7 400.6h0M532.4 397.8h0M541.5 399.4h0M544.9 399.3h0M555.9 399.4h0M565.8 398.5h0M570.8 398.5h0M451.0 402.2h0M458.1 402.6h0M461.7 402.7h0M469.4 401.7h0M478.1 402.7h0M484.2 403.1h0M490.5 401.3h0M502.5 402.8h0M510.4 402.8h0M512.5 403.5h0M516.7 402.8h0M521.7 401.6h0M523.3 402.3h0M534.4 401.0h0M538.2 403.7h0M545.2 401.3h0M549.8 401.5h0M556.3 401.1h0M563.3 402.6h0M456.3 405.2h0M458.1 404.7h0M462.4 405.6h0M465.5 404.9h0M482.2 405.1h0M488.3 404.8h0M493.7 406.3h0M501.3 406.0h0M506.5 405.4h0M512.2 406.1h0M514.1 406.1h0M526.5 404.9h0M530.2 404.6h0M537.7 405.3h0M543.2 405.5h0M552.6 406.7h0M564.2 404.6h0M567.2 404.7h0M568.8 406.4h0M574.6 407.0h0M578.2 406.9h0M453.9 408.5h0M456.6 407.5h0M461.1 408.4h0M482.2 407.4h0M487.9 409.3h0M490.5 410.3h0M495.6 409.4h0M501.9 408.4h0M511.4 407.5h0M520.5 407.9h0M528.9 409.2h0M530.1 409.6h0M542.7 408.3h0M548.8 408.2h0M559.5 409.6h0M569.6 410.0h0M577.1 410.1h0M578.2 408.9h0M451.2 411.4h0M454.5 411.3h0M463.0 412.6h0M467.8 410.7h0M469.4 412.5h0M472.8 412.3h0M477.4 412.6h0M480.9 411.0h0M488.9 411.1h0M495.5 412.3h0M500.3 410.7h0M503.2 412.6h0M523.1 411.1h0M530.0 412.6h0M544.4 411.9h0M547.4 410.8h0M561.4 412.3h0M570.5 410.7h0M573.5 413.2h0M576.5 411.1h0M584.4 411.8h0M454.6 416.8h0M458.1 415.0h0M463.2 415.4h0M472.5 416.4h0M479.5 414.3h0M483.3 414.0h0M486.9 416.4h0M490.9 415.2h0M498.8 416.6h0M504.7 416.2h0M509.3 415.5h0M520.8 416.1h0M522.9 415.2h0M535.1 414.8h0M538.5 414.7h0M543.6 416.5h0M546.7 416.6h0M556.0 414.7h0M561.8 416.8h0M567.2 414.8h0M579.5 416.6h0M583.6 415.5h0M451.2 417.2h0M456.0 417.4h0M461.8 419.5h0M473.2 419.4h0M481.3 417.2h0M484.0 418.6h0M487.5 419.9h0M492.0 417.4h0M503.3 417.7h0M506.5 419.3h0M515.4 418.3h0M517.2 418.9h0M530.4 417.1h0M549.0 419.1h0M550.4 418.0h0M559.5 417.8h0M565.6 417.9h0M577.8 419.0h0M585.4 419.2h0" stroke="#4a4430" stroke-opacity="0.65" stroke-width="2.0" stroke-linecap="round" fill="none"/></g></g><rect x="589.1" y="318.8" width="132.8" height="98.8" fill="url(#g23)"/><g clip-path="url(#c23)"><g filter="url(#f230)"><path d="M592.7 319.0l0.3 0.0M605.7 319.2l0.2 1.3M622.1 318.7l-1.4 0.2M632.8 319.7l0.1 0.0M667.1 318.5l-0.2 0.8M683.8 317.9l0.7 0.3M692.7 319.8l-0.7 0.2M697.2 317.8l0.1 0.5M706.8 318.7l-0.6 1.4M712.2 319.9l-0.1 0.5M714.3 319.4l-0.5 0.7M723.1 318.5l-0.2 0.6M594.2 324.1l1.2 0.4M599.7 321.9l0.1 0.1M612.7 321.9l0.1 0.3M632.3 322.7l-0.0 0.0M636.2 323.0l-0.8 0.5M661.8 323.3l1.1 0.4M684.9 323.8l0.3 0.9M716.9 322.8l0.1 0.2M721.4 323.8l0.5 0.8M726.8 321.9l-1.1 0.1M598.7 327.4l-0.0 1.2M624.0 327.1l-0.4 0.4M627.7 325.6l1.4 0.2M639.2 326.4l0.2 0.1M641.8 324.8l0.6 0.9M646.9 326.5l0.2 0.6M651.8 326.3l1.1 0.6M662.3 326.9l-0.7 0.7M664.6 327.5l-0.1 0.0M670.6 325.8l-1.0 0.7M685.1 325.4l0.0 0.6M688.3 325.5l-1.3 0.1M692.7 326.3l-0.1 0.0M591.5 330.7l-0.3 0.3M603.0 329.0l1.3 0.1M615.6 328.8l-1.2 0.4M635.9 328.9l-0.1 0.9M645.2 330.1l1.0 0.3M649.3 328.8l0.8 1.0M677.6 329.1l0.3 0.1M685.5 329.9l0.6 0.6M703.3 331.9l0.3 0.5M712.3 330.2l0.0 0.2M722.8 329.1l-0.0 0.0M593.6 334.4l0.2 0.9M601.8 334.5l-0.0 0.0M615.6 333.5l-0.1 1.4M625.3 334.9l0.2 0.4M629.3 335.5l-1.2 0.7M658.3 335.0l-0.6 0.4M662.3 333.3l0.1 0.1M670.3 333.0l-0.1 0.2M675.2 335.2l-0.1 0.2M706.0 333.3l0.2 1.0M720.2 334.4l-0.2 0.4M723.0 333.8l-0.4 1.4M601.2 337.2l-0.5 0.5M605.4 339.6l0.1 0.0M614.3 339.4l0.0 0.0M619.3 339.1l-0.5 0.9M629.9 336.9l1.5 0.2M644.1 336.3l0.2 1.4M654.2 338.5l0.9 0.6M659.4 339.6l-1.1 0.2M666.4 336.4l1.0 1.2M672.0 339.6l0.3 0.5M676.7 337.5l0.0 0.5M719.1 337.4l-0.7 0.3M588.5 340.9l0.5 0.2M593.8 341.6l-1.0 1.0M614.0 341.6l1.2 0.2M630.2 343.6l-0.0 0.0M639.5 340.1l-0.2 1.4M653.6 341.2l-0.6 1.4M660.7 343.2l-0.2 0.3M673.8 342.8l-0.7 0.4M678.3 341.5l0.6 0.2M688.9 341.5l1.4 0.1M691.2 343.3l1.4 0.1M701.3 343.4l0.1 0.1M714.3 342.6l-0.5 0.8M718.4 341.4l-0.0 0.5M606.3 347.2l0.2 0.6M608.9 345.5l-0.8 0.2M630.7 347.6l-0.8 0.3M645.3 345.5l0.1 0.2M653.3 346.1l-0.0 1.1M658.6 347.6l0.6 0.0M663.5 347.5l-0.2 0.4M686.9 347.1l-0.9 0.1M700.5 347.6l-0.2 0.2M703.7 344.8l-0.5 0.3M713.2 346.9l0.7 0.3M718.6 346.1l0.6 0.4M723.2 345.3l-0.6 0.2M593.5 349.9l0.9 0.7M599.2 350.1l0.4 0.8M602.2 349.4l-0.3 0.2M633.4 350.7l0.1 0.1M647.5 351.6l-0.1 0.1M666.9 350.4l-0.1 0.0M676.4 349.4l-1.1 0.6M681.2 348.1l-1.1 1.1M683.1 350.2l0.4 1.0M688.7 348.6l-0.0 0.0M692.5 350.4l-0.1 1.1M697.5 348.4l0.3 0.4M725.1 351.4l0.0 0.0M605.9 352.7l0.1 0.0M610.3 353.7l0.5 0.0M612.4 354.1l-0.0 1.1M617.2 353.6l1.3 0.6M623.1 354.6l-0.6 0.3M631.7 353.2l0.9 0.3M637.7 354.0l0.2 0.0M646.9 354.3l-0.2 0.5M651.5 352.9l-0.9 0.2M654.1 353.6l-0.8 1.1M660.5 353.4l0.0 0.6M664.0 355.5l-0.1 0.1M666.7 352.8l0.1 0.1M681.7 354.7l-0.8 0.6M690.0 354.1l1.2 0.8M696.0 353.9l0.3 0.1M715.7 354.3l0.6 1.1M720.8 354.8l-0.5 1.5M589.2 358.3l-0.9 0.9M602.9 357.0l-0.8 0.9M606.2 355.7l-0.1 1.5M622.1 357.0l-0.6 0.6M628.3 359.0l-0.3 0.7M639.3 358.6l0.5 0.9M648.4 358.0l-0.9 0.5M652.0 357.2l0.6 0.1M657.8 356.4l0.4 1.5M671.2 358.1l0.3 0.4M677.8 359.2l0.0 0.0M689.4 356.3l0.3 0.6M701.2 357.7l-0.0 0.1M710.1 358.9l-1.3 0.2M714.6 358.7l0.6 0.4M596.1 363.4l-0.1 0.1M601.3 363.3l0.3 0.2M604.0 361.2l-0.2 1.2M609.9 360.4l-0.5 0.3M612.5 360.6l0.2 0.0M619.3 362.1l0.1 0.1M625.8 362.0l0.8 1.0M637.7 361.5l0.0 0.5M645.8 359.9l0.4 1.3M649.7 360.7l-1.1 0.0M658.6 361.1l1.3 0.4M665.0 360.6l-0.7 0.3M671.3 360.3l0.9 0.5M682.1 361.2l-1.3 0.9M687.5 361.4l-0.3 0.2M690.0 361.1l1.3 0.8M701.2 360.6l-1.0 0.4M713.5 361.3l0.2 0.0M718.3 361.9l-0.4 1.5M588.6 365.6l-0.6 0.7M594.4 366.9l-0.2 0.7M597.4 365.9l-0.7 0.4M601.7 365.7l-0.7 0.2M607.7 365.0l0.1 1.6M617.2 364.7l-0.3 0.6M623.6 365.0l0.7 0.0M634.2 365.3l0.5 0.4M637.9 364.1l0.6 0.1M651.0 366.7l0.5 1.2M674.9 366.2l0.6 1.0M684.4 364.5l-0.3 0.9M698.7 366.9l-1.1 0.9M710.9 364.3l0.4 0.2M724.3 366.6l0.9 0.1M604.8 370.6l0.5 0.1M611.0 370.7l-0.6 0.2M612.3 369.2l0.1 0.4M639.7 369.2l-0.6 0.5M646.1 368.6l0.1 1.4M675.5 369.8l0.0 0.0M695.0 371.0l-1.2 0.4M703.5 369.3l-0.9 0.9M711.9 369.8l-0.0 0.1M718.3 370.5l0.9 0.6M720.3 369.9l0.9 0.4M725.0 367.9l0.4 1.4M590.5 372.3l-0.4 0.4M603.6 373.7l0.8 0.3M612.6 374.1l-0.0 0.1M635.7 372.7l0.0 0.2M638.2 372.0l0.6 1.0M646.6 373.3l-0.2 0.0M652.4 371.9l0.4 0.7M662.4 372.3l-1.4 0.3M674.4 373.0l-0.2 0.2M682.7 372.9l-0.8 0.8M696.7 372.5l0.7 0.1M595.5 377.3l-0.0 0.3M600.8 377.9l0.6 0.3M615.0 377.7l0.5 0.0M626.3 376.7l-0.0 0.4M640.7 376.4l-0.1 1.4M644.4 378.2l0.1 0.6M653.3 377.3l-0.8 1.2M670.7 378.7l1.2 0.5M678.1 377.0l-1.4 0.4M679.6 376.8l1.2 0.8M691.5 377.1l0.3 0.5M693.0 377.2l0.8 1.0M700.0 376.8l-0.1 0.2M723.2 376.7l0.5 0.8M590.0 381.1l-0.8 0.5M593.4 379.6l-0.2 0.4M608.0 381.4l-0.9 0.4M613.2 380.8l-0.1 0.4M616.8 381.1l-0.1 0.5M641.4 381.6l0.5 1.4M646.4 379.8l0.1 0.3M657.9 380.7l0.1 0.4M667.1 381.4l-0.2 0.3M671.7 382.6l-0.5 0.6M673.5 379.6l0.2 0.9M678.8 380.9l-0.9 0.1M684.4 381.0l0.4 0.3M688.0 381.2l0.9 0.4M692.6 380.8l-0.1 0.0M706.1 380.8l0.1 0.1M716.6 380.0l-0.1 1.3M719.7 381.4l1.2 0.6M590.1 384.4l0.3 0.8M595.4 385.5l-0.5 1.4M600.6 386.2l-1.5 0.3M633.6 383.2l-0.4 1.5M642.0 385.4l-0.7 0.6M648.4 384.7l-0.1 0.5M672.9 383.9l0.6 0.3M681.0 386.3l0.0 0.0M694.3 386.7l-0.3 0.1M700.0 384.4l-0.8 0.1M592.5 387.7l0.4 0.5M603.4 389.0l0.8 0.3M616.4 389.6l0.0 0.0M620.6 390.5l0.5 0.4M633.4 388.6l-0.3 0.1M642.9 388.1l-0.6 0.4M650.9 388.9l0.3 0.6M655.8 390.5l-0.0 0.5M684.7 387.1l-0.4 1.1M688.4 388.3l-0.6 0.2M698.8 387.7l-0.1 0.2M707.0 388.0l-0.1 1.4M710.7 389.4l0.1 0.1M718.1 389.4l0.4 0.0M725.4 387.8l0.3 0.8M603.3 393.4l0.5 1.5M609.8 393.1l-0.3 1.4M626.5 391.6l0.3 0.3M632.9 394.7l-0.0 0.0M637.3 393.8l-0.3 0.4M642.6 394.1l-0.5 0.6M644.7 393.8l-0.3 0.2M660.2 394.6l-1.5 0.3M691.6 393.8l0.3 0.9M699.5 393.0l0.9 0.0M715.7 393.3l0.3 1.2M723.7 391.4l-0.8 0.8M724.9 393.6l-0.0 0.0M587.6 396.9l0.5 0.9M604.1 395.8l-0.5 0.1M612.9 396.7l-1.0 0.8M629.5 398.0l0.0 1.1M633.2 398.1l-0.7 0.8M640.2 397.6l-0.1 0.0M646.5 396.4l-0.1 0.0M652.3 396.1l-0.2 0.6M657.2 397.9l-0.1 1.3M664.9 395.8l0.5 0.6M678.2 397.1l-0.6 0.6M688.4 395.1l-0.2 1.0M696.7 396.5l-0.1 0.0M700.6 397.6l0.3 1.3M709.4 396.8l1.2 0.2M714.2 396.5l0.1 0.3M721.2 396.7l-0.8 0.7M724.9 396.5l-0.8 0.9M591.6 400.3l-1.1 1.1M613.4 401.3l-0.1 0.0M618.4 401.4l1.0 0.3M637.4 401.8l0.3 0.5M642.3 402.5l-0.4 0.1M644.2 401.8l0.4 1.5M658.4 401.5l-0.5 0.8M673.3 400.7l1.0 0.8M676.1 399.3l0.4 1.5M690.3 402.3l0.2 0.6M693.2 399.1l0.4 1.4M700.6 401.1l-0.7 0.7M588.4 405.8l0.2 0.0M603.4 405.0l0.6 1.0M612.4 404.1l0.3 0.5M616.2 403.5l0.0 0.0M638.5 405.4l-0.4 0.3M644.7 405.4l-1.4 0.2M646.4 403.3l-0.3 0.9M652.1 403.8l-0.1 0.1M656.7 403.5l-1.0 0.0M662.3 404.7l-0.2 1.1M680.2 404.6l-0.3 1.3M687.7 403.4l-0.0 0.5M693.7 404.7l0.4 0.2M698.3 404.6l0.2 0.5M711.4 405.8l-0.1 1.0M713.8 406.1l0.4 0.7M600.1 409.3l-0.9 1.3M612.4 408.2l0.1 0.1M633.4 407.4l-0.7 1.0M654.2 409.0l-0.4 0.4M659.4 408.8l0.6 0.1M672.3 407.2l-0.3 0.2M689.5 409.9l-0.3 0.5M703.1 408.0l-0.0 0.0M709.3 408.7l-0.1 0.4M713.6 407.4l-0.6 0.6M588.5 412.5l0.4 1.5M608.3 412.2l0.1 1.0M614.9 412.9l-0.2 0.5M626.5 412.8l-0.4 1.5M644.4 413.1l-0.7 0.0M664.4 411.1l-0.4 1.0M679.1 413.1l0.4 0.1M687.9 410.5l-0.3 1.4M697.6 411.9l0.3 1.3M723.6 412.9l-0.3 1.3M611.0 416.8l-0.5 0.1M628.2 417.7l0.0 0.1M644.8 415.4l-0.7 0.5M649.6 416.7l-0.1 0.1M653.6 417.3l0.2 1.3M667.5 415.2l0.7 0.5M683.5 416.0l-1.2 0.5M688.9 416.4l0.6 0.4M695.8 416.0l0.3 0.6M697.2 416.3l1.4 0.3M703.7 416.7l-0.2 1.4M708.5 415.4l-0.1 0.1M712.6 417.2l0.1 0.2M718.5 414.8l0.7 1.0M721.1 415.7l-0.0 0.0M725.4 418.2l-0.0 0.0M597.7 420.9l1.5 0.1M610.5 419.6l0.9 0.3M616.5 419.9l-0.1 0.0M621.6 421.7l-0.5 0.3M637.6 420.4l-1.1 0.6M646.2 421.1l0.1 1.0M656.9 419.8l0.0 0.1M659.7 419.1l-0.3 0.9M675.2 421.3l0.7 0.2M686.7 419.4l0.4 0.4M693.3 419.9l-0.1 0.4M697.9 420.1l0.0 0.0M705.0 420.2l-0.8 1.0M716.0 422.0l-0.7 0.0M719.6 420.7l0.2 0.5M723.2 419.3l-0.3 0.9" stroke="#2a3a24" stroke-opacity="0.8" stroke-width="2.0" stroke-linecap="round" fill="none"/><path d="M589.5 319.0l0.7 0.2M597.9 317.8l-0.5 0.1M604.4 317.4l-0.5 1.5M612.1 317.7l1.4 0.5M616.6 318.8l0.4 0.7M624.7 318.5l0.3 0.4M628.1 317.7l0.2 1.0M639.9 317.9l-0.0 0.1M644.5 318.0l-0.5 0.6M648.2 320.1l0.6 0.2M654.0 319.9l-1.1 0.2M655.9 318.6l-0.5 0.1M661.5 317.5l0.1 0.0M669.0 319.7l1.1 0.9M672.8 318.0l1.1 0.1M678.1 318.8l0.0 0.0M688.6 317.7l-1.2 0.2M700.7 318.9l-0.4 0.2M719.5 317.9l1.2 0.6M590.4 323.3l-0.3 0.3M605.5 320.8l-0.6 0.8M609.6 324.1l1.5 0.2M619.3 322.8l0.9 0.5M623.5 323.2l0.4 0.6M626.5 322.2l-0.2 0.1M641.7 321.1l0.4 0.5M646.3 321.3l0.6 0.9M649.6 321.2l-1.2 0.6M655.9 322.0l-0.3 0.8M658.5 323.1l-0.2 0.4M667.7 321.5l-0.2 0.2M672.3 322.3l-1.2 0.3M676.9 322.7l-0.5 0.5M682.4 322.2l-0.2 0.7M691.4 322.7l-0.1 0.1M693.8 321.1l-0.0 0.7M699.2 322.0l-0.1 0.1M704.9 321.5l-1.4 0.6M708.9 321.2l-0.4 0.1M713.1 321.6l0.1 0.2M588.9 327.8l-0.9 0.7M592.1 327.1l0.8 0.7M603.5 327.1l0.9 0.9M606.3 327.2l1.4 0.3M610.4 324.4l0.4 1.4M614.8 327.8l-0.0 0.2M622.7 325.1l-0.9 0.8M635.2 328.0l0.2 0.0M655.0 326.2l0.6 0.3M673.3 325.5l-0.1 0.9M679.5 327.5l-0.7 0.2M698.1 326.8l-0.1 1.1M702.5 326.8l-1.5 0.2M707.5 325.8l-0.1 0.6M710.5 327.4l0.2 0.1M714.2 326.7l0.6 0.4M718.6 326.2l-0.1 0.2M723.7 324.7l-0.1 1.4M596.6 330.1l-1.3 0.5M600.6 330.5l-0.7 0.4M608.2 329.0l0.0 0.1M617.8 330.1l-0.7 0.1M620.9 330.2l1.4 0.1M626.8 329.6l-0.7 0.8M632.4 331.5l0.1 0.1M641.5 331.3l-0.1 0.3M655.3 330.3l-0.1 1.1M659.8 330.7l0.5 1.2M663.0 331.0l-1.5 0.6M667.7 329.3l0.8 0.1M673.9 331.0l-0.4 0.4M682.6 331.2l-0.1 0.2M689.9 329.7l0.0 1.6M693.8 329.4l0.0 0.1M699.7 330.4l-0.0 0.3M708.5 329.2l-0.1 1.4M717.4 330.3l-1.1 0.1M725.8 330.1l-0.4 0.6M590.7 334.8l-0.4 0.8M598.8 333.5l0.2 0.5M608.4 334.5l0.0 0.0M611.2 334.1l-0.7 0.7M619.3 333.4l0.6 1.0M633.4 334.4l-0.5 0.6M639.9 335.5l-0.0 0.2M642.3 334.2l1.3 0.2M646.0 334.0l0.7 0.9M652.5 332.6l0.4 1.2M666.3 335.1l-0.1 0.0M679.7 333.9l0.6 0.3M684.2 335.1l0.0 0.0M687.0 335.0l0.0 0.1M694.1 334.7l-1.3 0.3M695.8 336.0l1.0 0.1M700.9 334.9l-0.1 0.1M709.4 335.4l0.3 0.0M716.8 333.5l-0.1 0.1M591.3 337.3l1.0 0.5M596.3 336.5l0.1 0.8M610.3 339.8l0.2 0.1M623.9 337.5l0.3 0.8M626.7 337.9l0.4 1.3M636.6 338.4l-0.8 0.9M642.4 336.9l-0.3 0.5M651.2 338.9l-0.1 0.3M664.4 336.9l-0.6 0.2M680.7 337.5l-0.4 1.1M684.8 339.4l-0.1 0.2M690.0 339.0l0.5 0.1M696.5 336.7l-0.0 0.5M700.0 338.4l0.8 0.9M702.3 338.7l0.3 0.1M707.0 338.4l0.0 0.2M713.9 337.7l-0.8 0.5M723.1 339.1l-0.4 0.1M728.0 339.5l-0.0 0.8M597.6 343.3l-0.6 0.3M602.5 340.3l-0.6 1.4M608.4 343.1l0.0 0.1M612.4 341.4l-0.3 0.3M619.8 342.3l-0.7 1.4M624.7 343.2l-0.2 0.1M633.3 340.7l1.4 0.4M641.7 343.1l0.2 0.4M646.8 342.7l-0.0 0.4M656.3 341.4l-0.1 0.3M667.5 343.2l-1.1 0.9M669.3 342.8l-1.3 0.8M683.9 343.7l0.4 0.4M696.6 343.4l0.0 0.1M705.2 342.5l-0.0 0.2M711.4 343.2l-0.2 0.1M724.0 341.0l0.2 0.2M591.3 347.5l-0.5 0.6M596.7 346.8l0.5 0.7M601.1 344.2l-0.3 1.4M612.7 344.8l0.8 0.3M619.5 345.6l0.2 0.2M624.7 346.3l-1.2 0.2M626.1 346.1l1.0 0.9M636.3 347.1l0.2 0.2M639.2 347.2l1.0 1.1M649.8 347.5l-1.1 0.4M667.3 346.6l0.9 1.1M672.6 346.3l-0.1 0.2M677.8 347.7l-0.6 0.2M680.5 345.3l-0.0 0.0M689.6 344.9l-0.4 0.1M693.8 344.5l-0.8 0.3M707.1 347.1l0.6 0.0M727.1 344.3l0.2 1.5M590.3 349.5l-0.1 0.1M608.3 349.6l0.5 1.5M612.7 348.4l-0.5 0.5M616.5 348.2l1.0 1.1M620.3 348.4l0.6 0.3M624.8 350.7l0.1 1.0M628.7 349.1l-1.0 0.6M638.7 349.2l-0.3 1.2M643.5 349.6l-0.3 0.3M650.2 350.5l1.4 0.5M655.3 349.5l-0.2 0.3M661.9 350.0l-0.1 0.7M669.2 349.5l0.1 0.2M701.2 348.6l-0.3 0.3M706.1 351.1l0.6 0.1M710.5 348.0l0.7 1.2M714.5 350.6l0.1 0.0M719.7 349.6l-0.8 0.1M590.5 353.5l0.9 1.0M596.4 354.8l0.0 0.6M599.6 354.4l0.0 1.0M626.1 354.6l1.5 0.0M640.7 352.3l0.1 1.0M672.4 352.2l-0.9 0.6M677.2 353.3l1.1 0.1M687.2 354.4l0.4 0.7M699.0 354.7l-0.1 0.1M702.8 353.6l0.3 0.1M707.5 353.7l-0.9 0.0M713.7 353.5l-0.2 1.2M727.1 354.5l-1.5 0.3M593.7 357.2l1.2 1.1M599.6 357.1l-0.7 0.0M610.7 358.5l1.1 0.0M616.7 359.4l0.1 0.0M625.5 356.8l-0.0 1.4M634.3 358.6l0.8 0.2M644.5 359.3l-0.8 0.4M663.0 357.9l-1.4 0.3M664.4 359.2l0.4 0.1M674.3 356.6l-0.2 0.2M683.1 357.1l0.0 1.0M692.5 357.9l0.6 0.2M698.0 358.2l-1.5 0.6M704.9 359.4l0.0 0.1M720.2 358.8l0.1 0.0M723.4 356.2l-0.6 1.0M591.6 360.9l0.3 1.0M623.4 363.4l-0.4 0.0M633.1 360.9l-0.1 0.9M639.4 362.3l0.2 0.2M653.8 362.8l-0.6 0.5M669.6 361.1l-0.5 0.1M677.8 362.5l0.5 1.1M696.7 362.1l-0.8 0.6M706.0 360.6l-1.1 0.1M707.7 360.3l0.1 0.5M720.8 361.3l-0.8 0.1M725.8 362.7l-0.0 0.0M613.0 365.5l-0.1 0.8M620.2 365.7l-0.4 0.2M630.8 366.6l-0.3 1.0M643.5 364.9l-0.8 0.7M646.5 365.3l0.0 0.3M657.8 367.0l0.7 0.6M662.2 367.3l1.0 0.0M666.8 364.7l-0.3 0.2M669.2 366.8l-0.1 0.3M680.7 367.1l-1.1 0.1M689.0 366.0l-0.4 0.1M690.9 364.2l1.1 0.1M703.8 364.8l-1.3 0.5M706.0 366.7l-0.3 0.1M716.2 363.6l0.5 1.5M721.3 365.5l-0.4 1.5M590.1 369.0l0.1 0.3M595.3 368.7l-0.7 1.0M600.4 369.8l-0.9 0.8M617.6 368.6l-1.5 0.0M623.0 369.9l-0.3 0.4M626.1 371.2l0.0 0.1M631.7 370.9l0.2 0.5M635.9 367.9l0.6 1.2M649.2 368.1l0.6 0.1M655.7 370.0l0.2 0.5M659.4 369.5l-0.5 0.8M662.4 368.9l-1.1 0.4M668.6 370.5l-1.1 1.0M672.3 371.2l-0.9 0.2M680.9 369.9l0.3 0.3M686.8 370.7l-0.4 0.9M688.5 369.5l1.3 0.9M699.8 368.8l-0.0 0.0M709.4 370.7l0.7 0.8M592.6 371.7l0.6 0.7M599.1 373.0l-0.3 1.5M607.9 372.0l0.0 0.0M616.7 374.0l0.8 1.0M620.3 372.9l0.3 0.6M625.6 373.8l-1.4 0.7M629.3 373.4l-1.2 0.8M643.7 374.0l-0.1 0.7M655.2 373.5l0.0 0.1M666.2 372.3l0.0 0.0M668.6 372.0l0.1 0.7M679.4 373.8l0.9 0.0M686.4 373.0l0.4 0.9M693.3 374.1l-1.3 0.5M700.6 373.0l0.4 0.8M706.9 372.6l-1.6 0.2M709.3 374.5l0.3 0.3M713.5 372.2l1.3 0.8M718.2 373.5l-0.0 0.4M725.7 372.3l-1.3 0.6M589.8 377.2l0.6 0.7M604.4 376.3l0.5 1.2M611.2 378.3l-1.4 0.3M619.0 378.7l0.1 0.1M622.3 376.1l0.7 0.5M633.3 378.7l-0.6 0.6M636.9 378.6l-0.5 0.2M649.6 378.3l-0.0 0.8M659.3 376.5l-0.8 0.5M663.6 377.1l0.1 0.6M669.6 377.2l-0.7 0.1M685.3 379.0l1.4 0.1M704.9 378.8l-1.2 0.1M709.0 375.5l0.5 0.9M714.0 376.0l0.2 0.1M717.1 376.0l0.2 0.3M726.5 375.6l-0.0 1.1M598.2 380.5l-0.2 0.7M603.5 379.9l-0.5 0.3M618.8 382.3l1.2 0.7M626.7 382.0l0.0 0.1M631.0 380.0l-0.1 0.1M635.6 381.4l-0.6 0.4M639.7 380.2l-0.3 1.2M652.7 380.5l-0.7 1.4M662.4 382.8l0.2 0.3M699.0 382.5l-1.1 1.0M703.0 381.1l-0.1 0.2M712.0 382.4l-0.1 0.4M723.2 381.5l0.2 1.4M604.1 386.3l1.1 1.1M610.3 385.8l-0.4 0.9M613.3 383.7l0.6 0.3M617.3 383.9l-1.0 0.3M624.8 384.9l-1.2 0.3M626.5 385.7l-0.5 0.1M636.2 385.2l0.1 0.2M645.4 385.1l1.0 0.4M654.0 385.2l0.1 0.3M658.9 384.2l0.2 0.3M663.5 383.5l0.3 0.8M668.5 385.8l-0.8 0.1M676.8 385.7l-1.2 0.1M685.2 385.1l-0.2 0.8M690.8 386.4l0.8 0.4M703.3 386.0l0.0 0.0M707.3 384.8l0.0 0.1M713.2 386.0l0.0 0.8M715.5 383.6l1.3 0.6M722.9 384.5l0.1 0.5M727.1 384.7l-0.1 0.2M590.0 388.9l0.2 0.9M599.0 390.8l0.2 0.1M607.9 389.1l1.2 0.6M612.6 387.8l-0.6 1.3M624.4 389.5l-0.3 0.9M629.6 389.8l0.1 0.5M638.2 388.0l-0.0 0.3M647.9 387.8l-0.7 0.1M660.7 389.9l1.0 0.9M664.6 388.6l-0.3 0.1M671.6 390.3l-1.3 0.5M673.5 387.5l-0.1 0.5M679.8 388.5l1.0 0.1M693.2 387.4l-0.2 1.4M700.7 388.6l-0.7 1.2M716.8 389.8l-0.6 0.9M591.8 393.1l-0.6 0.1M597.1 393.4l-0.9 0.0M601.1 391.8l0.9 0.9M612.7 393.1l-0.3 0.3M617.4 392.5l0.0 0.3M623.8 391.7l-0.9 0.8M648.8 391.5l-0.2 0.3M655.4 392.8l0.8 0.4M663.3 393.3l0.1 0.4M669.7 393.9l-1.0 0.3M671.7 394.2l0.3 1.1M677.9 392.1l1.0 0.7M680.8 392.8l0.9 0.4M686.0 393.7l-0.3 0.6M697.3 394.2l-1.6 0.2M702.7 392.6l-0.1 0.3M709.1 392.4l1.0 0.9M713.1 394.2l0.2 0.6M592.1 398.0l-0.0 0.5M597.9 398.1l0.5 0.2M607.6 396.2l0.2 0.5M617.0 396.6l1.3 0.2M620.8 395.6l-0.2 0.1M625.9 395.6l-0.8 0.8M643.6 397.6l-1.0 0.9M661.1 396.6l0.2 0.5M672.0 396.8l-1.0 0.6M673.0 395.7l0.1 0.7M682.5 396.9l-0.1 0.2M693.8 397.8l0.9 0.4M707.5 398.0l-0.3 1.1M594.9 400.8l1.2 0.3M601.2 402.1l0.5 0.1M606.2 399.6l0.3 0.0M610.2 399.0l-0.6 1.1M623.0 401.7l-1.3 0.5M626.0 400.3l-0.3 0.1M631.3 400.3l-0.0 0.3M649.2 402.4l-0.2 0.3M654.1 400.6l-1.2 0.3M663.7 401.9l-1.2 0.9M667.2 401.9l0.9 1.1M680.5 400.9l-0.3 1.3M684.6 401.7l-0.5 0.7M704.2 401.6l1.4 0.2M707.7 400.5l-0.1 0.3M713.2 399.3l0.0 0.6M717.8 401.6l-0.5 0.1M720.2 401.5l1.6 0.1M727.1 402.5l-0.2 0.1M593.2 403.4l-0.1 0.2M597.6 405.8l-0.6 0.3M607.5 405.6l0.7 0.6M622.4 405.8l-0.9 0.5M624.3 403.7l1.0 0.3M628.0 405.1l0.6 1.3M633.5 404.2l-1.2 0.4M665.2 404.0l-0.5 1.2M670.3 403.4l0.5 0.9M675.2 406.1l-0.2 0.0M685.3 405.1l-0.7 0.6M700.7 404.8l1.2 0.2M706.9 403.3l-0.2 0.3M721.3 406.3l-1.1 0.0M723.8 404.7l-0.6 0.5M590.5 409.0l0.4 0.2M596.7 408.7l-1.1 0.8M604.4 408.7l0.7 1.1M608.1 410.2l0.5 0.2M620.0 409.0l-0.9 0.7M620.8 408.3l1.3 0.8M626.6 407.8l-0.6 1.1M635.6 409.0l-1.3 0.1M639.5 407.4l-0.1 0.5M645.6 406.8l0.5 1.3M650.8 409.2l-1.5 0.1M663.1 407.2l-0.2 0.5M666.5 408.1l0.0 1.1M676.2 407.8l0.9 0.5M680.2 410.2l0.5 0.1M685.1 407.9l-0.1 1.5M695.9 408.7l-0.7 0.4M697.8 407.5l0.6 0.5M716.1 407.9l1.1 1.2M720.7 407.7l0.7 0.0M724.9 408.6l0.6 0.7M594.2 411.0l-0.2 0.7M598.8 414.2l1.5 0.1M602.3 412.8l0.4 0.6M610.6 411.9l0.1 0.4M621.5 411.8l0.1 0.1M630.8 412.3l-1.2 0.3M633.1 412.5l0.5 1.3M638.1 413.1l1.1 0.2M647.3 412.8l-1.1 0.9M651.1 412.5l-0.1 0.2M656.6 411.8l-0.4 0.6M659.6 411.7l0.3 1.1M669.4 411.0l-0.4 0.6M674.4 410.8l1.2 0.8M684.1 414.1l-0.0 0.5M693.4 412.0l0.2 1.0M702.2 412.4l0.5 0.6M706.0 412.5l-0.7 0.8M711.7 412.9l-0.1 1.1M715.9 412.9l0.8 1.3M719.0 414.1l-1.3 0.0M591.8 415.2l-0.1 0.1M596.7 417.2l0.2 0.4M601.8 415.6l-1.0 0.2M605.3 415.5l-0.5 0.8M613.7 417.4l-0.8 0.0M618.5 416.3l1.2 1.0M623.7 417.7l0.7 0.8M633.5 414.7l-0.3 1.5M635.6 417.4l-1.2 1.1M639.9 415.8l-0.8 0.6M657.8 415.7l0.2 0.1M663.7 416.4l0.2 0.5M672.3 415.1l0.9 0.6M678.0 415.7l-0.8 0.3M686.0 415.8l-0.4 0.4M590.2 421.4l0.4 1.0M594.0 421.1l1.0 0.5M603.2 420.7l-0.3 0.5M608.6 420.4l-1.3 0.3M626.9 419.8l-0.5 0.6M630.3 421.4l-0.2 1.0M635.8 420.9l-1.0 0.0M644.0 419.4l0.9 1.0M650.9 419.6l-0.2 0.7M667.2 419.2l-0.3 0.7M670.5 418.8l0.3 0.8M678.4 420.8l-1.3 0.6M684.9 418.9l-1.0 0.2M699.6 419.9l1.4 0.1M710.4 419.7l1.4 0.1" stroke="#2a3a24" stroke-opacity="0.8" stroke-width="2.5" stroke-linecap="round" fill="none"/></g></g><rect x="171.4" y="423.5" width="132.9" height="98.8" fill="url(#g30)"/><g clip-path="url(#c30)"><g filter="url(#f300)"><path d="M231.4 428.5h0" stroke="#c8c8a0" stroke-opacity="0.3" stroke-width="14.0" stroke-linecap="round" fill="none"/><path d="M291.4 493.5h0" stroke="#c8c8a0" stroke-opacity="0.3" stroke-width="16.0" stroke-linecap="round" fill="none"/><path d="M191.4 443.5h0M229.4 463.5h0M261.4 453.5h0M181.4 483.5h0" stroke="#c8c8a0" stroke-opacity="0.3" stroke-width="18.0" stroke-linecap="round" fill="none"/><path d="M216.4 453.5h0M271.4 473.5h0M201.4 503.5h0M246.4 498.5h0M271.4 503.5h0" stroke="#c8c8a0" stroke-opacity="0.3" stroke-width="20.0" stroke-linecap="round" fill="none"/></g><g filter="url(#f301)"><path d="M176.7 433.5h0M176.3 441.8h0M175.6 430.4h0M177.0 430.9h0M183.4 432.4h0M190.9 429.6h0M193.9 433.0h0M207.3 432.2h0M203.8 435.1h0M206.5 429.9h0M192.8 446.3h0M189.8 446.3h0M189.5 449.9h0M205.7 442.3h0M214.9 440.8h0M206.8 434.7h0M210.3 471.6h0M212.5 465.2h0M210.0 465.1h0M212.8 460.9h0M232.9 428.9h0M227.2 425.6h0M228.8 431.5h0M224.5 455.0h0M232.2 457.4h0M227.5 466.5h0M230.1 466.5h0M234.4 461.1h0M233.6 468.9h0M232.0 470.9h0M233.1 475.0h0M234.8 472.4h0M247.0 427.8h0M251.9 429.7h0M261.9 436.4h0M264.3 428.4h0M263.8 426.3h0M251.3 452.1h0M253.0 450.3h0M245.1 449.5h0M243.2 451.8h0M259.1 449.7h0M263.3 448.9h0M260.0 450.3h0M270.8 471.0h0M270.2 467.9h0M269.7 473.9h0M267.1 467.1h0M267.3 470.8h0M272.2 473.4h0M272.0 474.9h0M277.1 478.3h0M295.5 445.2h0M300.1 448.6h0M296.6 452.6h0M182.6 476.1h0M177.6 471.6h0M180.0 467.3h0M177.0 469.5h0M180.5 474.3h0M177.0 462.2h0M172.9 464.8h0M178.2 468.7h0M177.3 470.2h0M182.7 498.7h0M182.2 497.6h0M175.1 500.8h0M173.4 503.6h0M175.6 506.6h0M175.1 508.2h0M193.6 500.0h0M192.3 500.9h0M194.8 505.9h0M205.9 507.1h0M206.2 505.5h0M219.2 514.0h0M217.6 511.4h0M220.9 515.7h0M241.2 487.5h0M243.0 494.1h0M240.2 485.9h0M244.1 503.1h0M238.7 505.3h0M250.0 511.3h0M243.0 507.4h0M273.3 499.8h0M268.6 499.0h0M278.6 499.9h0M281.2 494.4h0M266.8 510.0h0M269.7 514.5h0M276.4 519.0h0M282.9 515.7h0M297.4 488.0h0M293.6 492.5h0M297.4 495.7h0M224.5 495.3h0M218.8 495.3h0M227.0 495.0h0M255.6 477.3h0M259.0 477.0h0M257.3 474.6h0M258.8 471.8h0M199.0 466.8h0M203.2 459.1h0M293.3 432.3h0M290.5 438.6h0M297.4 428.0h0M239.1 517.5h0M232.2 518.2h0M171.2 523.7h0M177.9 520.7h0" stroke="#363a28" stroke-opacity="0.88" stroke-width="3.0" stroke-linecap="round" fill="none"/><path d="M180.1 426.0h0M192.4 425.3h0M190.9 434.7h0M192.4 427.5h0M191.4 432.3h0M204.2 431.5h0M204.6 430.8h0M189.3 442.8h0M188.4 448.2h0M187.8 448.2h0M205.0 439.3h0M208.9 435.5h0M211.4 455.6h0M208.5 460.7h0M209.5 457.0h0M211.6 457.2h0M208.5 459.1h0M207.2 457.4h0M207.6 468.8h0M211.4 464.9h0M231.7 426.2h0M220.0 426.7h0M228.0 426.4h0M221.1 457.3h0M223.2 457.8h0M224.2 457.0h0M226.0 453.4h0M232.0 466.4h0M227.7 462.8h0M232.7 473.5h0M231.3 471.1h0M244.8 426.4h0M247.7 428.4h0M250.9 429.5h0M265.0 426.8h0M268.0 433.7h0M261.8 428.2h0M246.0 458.1h0M245.2 452.3h0M257.9 452.0h0M256.6 447.6h0M256.4 455.3h0M270.0 472.6h0M279.8 477.7h0M277.6 475.5h0M279.9 476.1h0M302.2 448.8h0M292.8 445.3h0M295.7 452.4h0M177.8 470.1h0M181.9 472.3h0M179.6 497.7h0M180.3 502.6h0M178.5 504.2h0M179.4 494.0h0M177.4 500.4h0M192.8 498.4h0M196.2 496.9h0M209.2 507.6h0M206.5 507.8h0M207.9 512.0h0M210.4 509.2h0M224.4 510.3h0M224.6 505.8h0M223.6 506.1h0M241.9 485.7h0M237.2 484.8h0M243.8 488.7h0M247.0 484.4h0M246.9 488.1h0M245.3 477.7h0M244.4 476.5h0M241.6 503.9h0M240.2 500.6h0M243.4 504.2h0M254.9 513.2h0M250.8 510.7h0M248.5 512.7h0M253.8 508.8h0M266.5 501.1h0M264.4 493.7h0M264.5 502.0h0M278.8 498.3h0M284.3 500.9h0M281.3 495.3h0M280.0 499.6h0M276.8 501.8h0M273.5 515.0h0M274.1 513.2h0M269.1 510.0h0M280.9 510.1h0M280.3 520.1h0M282.2 513.7h0M295.1 488.6h0M223.3 497.8h0M221.5 495.5h0M252.8 471.2h0M199.5 462.6h0M197.8 462.2h0M192.3 461.0h0M297.8 435.7h0M302.2 433.9h0M242.2 517.8h0M234.4 521.5h0M168.3 518.4h0M174.2 516.3h0" stroke="#363a28" stroke-opacity="0.88" stroke-width="3.5" stroke-linecap="round" fill="none"/><path d="M207.7 438.9h0M229.8 462.8h0M246.8 428.0h0M301.0 449.4h0M181.0 469.2h0M173.7 504.8h0M243.6 483.5h0M240.0 502.7h0M268.6 493.9h0M278.8 509.2h0M293.3 489.6h0M301.4 489.7h0" stroke="#363a28" stroke-opacity="0.88" stroke-width="4.0" stroke-linecap="round" fill="none"/></g></g><rect x="310.7" y="423.5" width="132.8" height="98.8" fill="url(#g31)"/><g clip-path="url(#c31)"><g filter="url(#f310)"><path d="M369.9 521.3h0M317.2 478.9h0M428.8 444.8h0M334.6 445.8h0M383.5 502.9h0M431.8 498.4h0M422.2 478.8h0M418.6 473.6h0M393.7 509.6h0M399.2 446.7h0M341.1 489.4h0M326.2 433.4h0M353.2 443.5h0M351.5 502.6h0M312.7 504.7h0M370.7 444.8h0M353.8 479.0h0" stroke="#3a3426" stroke-opacity="0.9" stroke-width="3.0" stroke-linecap="round" fill="none"/><path d="M355.3 431.9h0M388.4 450.5h0M365.2 449.8h0M325.3 503.7h0M373.8 514.2h0M351.9 508.7h0M339.9 436.1h0M397.0 463.0h0M347.6 462.2h0M337.8 484.7h0M346.1 473.0h0M322.6 492.9h0M382.4 521.6h0M433.4 481.3h0M363.5 431.5h0M430.0 496.6h0M334.4 448.6h0M354.2 506.9h0M395.7 484.5h0M385.1 463.9h0M313.8 472.1h0M360.0 443.3h0M333.6 425.9h0M334.9 490.7h0M324.3 445.0h0" stroke="#3a3426" stroke-opacity="0.9" stroke-width="3.5" stroke-linecap="round" fill="none"/><path d="M380.5 507.0h0M354.2 460.9h0M419.8 424.2h0M441.5 447.4h0M428.2 486.3h0M365.3 496.5h0M339.2 520.2h0M383.3 463.7h0M386.4 457.6h0M433.1 449.5h0M423.6 521.1h0M414.8 448.2h0M423.7 431.2h0" stroke="#3a3426" stroke-opacity="0.9" stroke-width="4.0" stroke-linecap="round" fill="none"/></g><g filter="url(#f311)"><path d="M401.6 427.4h0M402.2 431.1h0M408.3 463.9h0M336.5 485.9h0M403.0 488.8h0M397.4 491.9h0M397.1 494.7h0M433.3 504.7h0M395.2 515.5h0M318.5 512.9h0M370.5 519.8h0" stroke="#3a3426" stroke-opacity="0.9" stroke-width="2.5" stroke-linecap="round" fill="none"/><path d="M320.6 428.9h0M319.2 432.4h0M317.5 426.9h0M320.8 431.3h0M402.1 431.2h0M403.0 428.5h0M403.3 429.7h0M417.9 427.9h0M418.6 428.5h0M419.0 429.0h0M332.6 444.1h0M328.0 442.3h0M331.8 442.5h0M332.6 443.5h0M349.7 452.6h0M351.9 449.7h0M371.2 453.0h0M369.9 451.6h0M368.5 450.1h0M409.1 467.3h0M410.8 467.2h0M409.2 466.9h0M408.8 467.8h0M432.6 461.8h0M430.2 460.7h0M432.5 464.6h0M338.0 484.6h0M336.2 485.9h0M403.9 490.1h0M402.6 488.6h0M402.8 490.0h0M402.6 486.2h0M427.2 495.0h0M430.1 492.3h0M426.8 492.9h0M429.1 491.5h0M428.1 496.0h0M346.0 504.4h0M345.6 500.3h0M346.2 502.9h0M347.0 501.9h0M345.6 502.9h0M395.0 495.5h0M433.8 504.6h0M433.9 504.0h0M390.7 515.3h0M392.2 514.1h0M390.9 517.1h0M314.5 514.3h0M313.1 512.1h0M368.4 519.8h0M369.5 520.1h0" stroke="#3a3426" stroke-opacity="0.9" stroke-width="3.0" stroke-linecap="round" fill="none"/><path d="M403.2 430.7h0M419.9 428.7h0M352.3 449.3h0M352.4 451.8h0M370.7 450.3h0M432.3 463.7h0M335.8 486.0h0M341.2 484.2h0M395.8 491.3h0M434.2 507.7h0M391.7 513.8h0M313.3 513.1h0M372.0 521.0h0" stroke="#3a3426" stroke-opacity="0.9" stroke-width="3.5" stroke-linecap="round" fill="none"/></g></g><rect x="449.9" y="423.5" width="132.8" height="98.8" fill="url(#g32)"/><g clip-path="url(#c32)"><g filter="url(#f320)"><path d="M454.6 422.5h0M575.3 423.6h0M514.5 427.7h0M533.0 429.1h0M473.6 429.5h0M543.7 433.0h0M568.9 431.2h0M489.7 436.7h0M527.3 434.4h0M588.7 434.2h0M537.9 438.4h0M575.6 441.2h0M469.2 443.5h0M511.0 442.8h0M537.1 443.2h0M570.0 445.0h0M462.2 445.4h0M521.7 445.0h0M571.2 447.6h0M484.0 451.8h0M500.9 451.8h0M528.9 449.4h0M579.3 452.7h0M583.0 451.7h0M496.3 453.2h0M574.9 456.6h0M491.5 459.9h0M523.2 461.6h0M473.0 470.9h0M477.9 471.2h0M475.8 474.0h0M532.7 473.5h0M581.5 474.9h0M505.7 480.3h0M455.1 483.8h0M469.3 483.6h0M554.0 481.7h0M450.9 486.5h0M495.0 487.7h0M520.1 485.2h0M543.8 487.3h0M557.4 486.9h0M483.3 490.7h0M493.7 490.6h0M561.6 491.5h0M566.4 490.9h0M490.9 494.6h0M566.7 493.4h0M457.3 498.8h0M491.7 503.6h0M504.0 501.0h0M527.5 500.4h0M532.2 500.7h0M589.0 507.3h0M490.2 508.8h0M495.9 510.7h0M551.5 510.1h0M565.0 509.4h0M513.9 512.4h0M550.7 514.0h0M495.3 516.7h0M577.7 516.7h0M472.0 523.4h0M496.5 526.8h0M586.5 525.6h0" stroke="#7a6040" stroke-opacity="0.35" stroke-width="1.0" stroke-linecap="round" fill="none"/><path d="M449.1 423.4h0M459.1 425.4h0M463.9 422.0h0M467.9 425.5h0M473.3 423.4h0M482.1 423.2h0M483.9 422.5h0M491.7 422.7h0M496.5 424.7h0M500.6 425.0h0M502.8 422.9h0M510.2 421.6h0M511.6 422.2h0M517.1 424.6h0M522.7 421.7h0M525.7 422.1h0M530.3 422.7h0M536.5 423.1h0M540.7 424.8h0M545.1 423.6h0M550.7 421.9h0M551.8 423.1h0M561.3 423.8h0M567.1 425.1h0M571.5 421.9h0M581.7 421.6h0M584.1 423.0h0M450.3 427.3h0M457.6 428.4h0M462.3 426.1h0M469.3 427.2h0M476.1 426.3h0M477.7 429.2h0M483.7 426.9h0M487.6 426.9h0M490.9 425.9h0M499.1 426.1h0M501.3 427.3h0M507.1 428.8h0M512.5 428.1h0M521.1 427.0h0M524.4 427.8h0M529.5 426.3h0M535.8 425.7h0M540.5 427.6h0M545.1 428.0h0M552.0 425.7h0M561.5 428.6h0M564.1 425.9h0M567.4 429.0h0M573.3 428.9h0M581.7 426.9h0M587.0 428.1h0M450.2 431.3h0M455.7 429.9h0M458.0 432.5h0M464.0 431.1h0M468.1 431.2h0M476.9 432.4h0M482.2 430.7h0M486.2 429.8h0M488.5 431.5h0M494.8 432.8h0M499.8 431.3h0M504.5 430.4h0M507.1 433.1h0M513.2 432.9h0M517.0 429.6h0M521.4 431.6h0M526.6 430.4h0M531.9 430.2h0M535.1 429.7h0M540.1 431.8h0M547.0 432.4h0M553.7 430.1h0M557.3 431.5h0M563.0 431.9h0M573.2 431.1h0M577.0 432.7h0M585.1 430.7h0M452.7 436.2h0M454.9 434.4h0M462.2 435.7h0M467.4 436.0h0M469.3 436.2h0M478.7 435.6h0M483.5 436.7h0M494.3 437.1h0M498.4 436.0h0M500.3 436.8h0M506.0 433.4h0M514.0 436.2h0M520.3 433.3h0M524.1 434.5h0M533.7 433.7h0M539.6 434.2h0M540.2 436.0h0M547.8 435.8h0M552.4 436.4h0M555.2 434.6h0M558.5 436.4h0M564.4 435.0h0M568.6 435.2h0M572.7 435.5h0M576.3 435.2h0M582.0 433.5h0M448.7 439.0h0M454.2 440.3h0M460.4 441.2h0M462.3 438.0h0M469.7 440.6h0M471.4 439.2h0M477.6 439.6h0M480.2 439.1h0M484.3 437.9h0M496.4 439.4h0M500.6 441.1h0M503.8 437.6h0M506.6 438.4h0M514.3 439.7h0M520.4 438.7h0M525.0 437.7h0M530.8 438.3h0M535.2 439.8h0M545.9 438.9h0M550.0 438.3h0M553.9 440.5h0M563.6 437.3h0M568.6 439.5h0M571.9 437.6h0M580.9 438.9h0M585.0 440.3h0M452.8 443.4h0M456.7 443.5h0M460.0 442.8h0M466.6 441.9h0M473.0 442.5h0M480.5 443.9h0M483.4 441.9h0M490.0 444.6h0M493.8 443.3h0M502.5 444.4h0M504.7 442.1h0M515.7 443.1h0M520.1 443.5h0M524.9 445.0h0M530.1 441.3h0M532.2 444.6h0M542.9 444.8h0M545.5 442.0h0M551.4 441.2h0M556.8 442.3h0M559.1 443.9h0M563.1 441.6h0M574.8 441.8h0M578.0 442.1h0M583.8 442.8h0M451.7 447.4h0M452.9 446.8h0M458.4 446.3h0M468.5 445.2h0M472.8 446.0h0M478.4 445.6h0M481.3 447.2h0M484.9 447.2h0M490.4 445.3h0M495.1 448.0h0M497.5 447.6h0M505.3 445.2h0M506.5 447.9h0M511.2 446.4h0M518.4 446.5h0M525.6 448.0h0M529.5 445.5h0M535.4 445.1h0M546.3 445.2h0M550.5 445.2h0M552.9 448.1h0M556.4 447.4h0M562.3 445.3h0M566.6 445.6h0M575.1 447.3h0M581.8 446.4h0M585.7 445.2h0M452.8 449.0h0M456.8 450.5h0M462.5 450.1h0M466.2 450.3h0M474.7 450.6h0M480.6 449.1h0M486.6 451.0h0M491.6 452.5h0M495.9 449.7h0M506.6 451.4h0M511.0 449.1h0M514.4 451.0h0M519.5 451.3h0M526.0 451.8h0M533.7 450.3h0M536.7 450.0h0M540.6 450.2h0M551.5 452.8h0M556.6 450.1h0M561.3 450.0h0M564.4 451.0h0M569.0 449.8h0M575.4 452.6h0M585.2 452.6h0M449.0 456.9h0M455.2 454.7h0M460.6 455.1h0M461.5 453.9h0M469.6 455.6h0M473.7 455.4h0M476.7 453.6h0M480.7 456.2h0M484.2 453.4h0M490.9 456.8h0M500.2 454.7h0M504.1 454.8h0M508.1 454.3h0M513.1 454.2h0M518.4 454.5h0M520.3 453.9h0M528.0 455.0h0M533.6 453.1h0M538.0 455.0h0M542.5 453.4h0M550.5 453.9h0M553.9 456.4h0M558.9 454.3h0M563.8 455.4h0M567.8 453.2h0M572.1 456.4h0M580.4 454.1h0M583.7 456.8h0M453.9 458.1h0M456.2 456.9h0M459.6 457.0h0M467.3 458.0h0M469.6 458.2h0M472.7 459.9h0M480.9 457.1h0M485.0 460.1h0M486.4 459.8h0M497.6 456.8h0M501.5 460.4h0M509.4 459.4h0M514.6 458.4h0M523.3 458.9h0M528.7 457.0h0M531.8 459.9h0M537.8 457.9h0M544.0 459.7h0M546.7 459.4h0M551.2 458.8h0M556.4 457.5h0M561.8 459.1h0M565.0 458.4h0M570.4 460.0h0M574.0 458.0h0M578.3 457.3h0M581.0 459.2h0M585.7 456.9h0M451.6 462.5h0M454.2 461.5h0M459.8 462.3h0M464.8 463.2h0M465.9 460.9h0M474.2 463.0h0M477.2 463.2h0M482.4 463.4h0M484.8 461.3h0M489.7 462.4h0M495.6 463.9h0M499.1 461.5h0M502.5 461.5h0M509.6 462.8h0M519.0 463.9h0M526.8 462.8h0M530.8 461.8h0M536.1 461.9h0M540.2 462.2h0M544.4 464.1h0M547.5 464.0h0M551.8 461.3h0M555.9 464.3h0M560.7 463.7h0M565.1 462.0h0M571.4 462.6h0M579.9 462.7h0M583.3 464.1h0M453.3 467.0h0M455.8 468.0h0M463.1 467.7h0M466.8 468.0h0M469.6 466.4h0M475.5 465.1h0M478.0 464.8h0M482.5 467.0h0M489.9 467.7h0M494.2 465.8h0M496.1 468.2h0M503.2 465.0h0M504.4 468.5h0M509.3 464.9h0M515.9 465.0h0M520.7 466.1h0M522.9 466.1h0M527.5 467.4h0M534.0 467.0h0M535.9 468.1h0M541.9 465.6h0M548.0 468.3h0M556.7 464.8h0M561.7 465.9h0M563.0 464.9h0M570.9 467.6h0M573.1 468.0h0M577.5 467.7h0M583.5 465.7h0M586.9 466.4h0M451.1 469.0h0M453.8 469.0h0M460.5 471.1h0M462.7 469.6h0M469.1 471.1h0M480.4 472.2h0M486.5 470.7h0M488.4 471.9h0M495.5 470.9h0M498.8 468.5h0M502.1 470.5h0M507.4 470.9h0M510.9 468.6h0M516.3 470.9h0M520.0 472.4h0M527.0 470.3h0M531.6 471.3h0M534.0 469.0h0M538.8 470.5h0M549.5 472.5h0M551.6 472.3h0M558.2 470.2h0M567.6 469.0h0M572.2 470.4h0M577.5 469.3h0M579.8 470.2h0M584.3 469.5h0M451.7 472.6h0M457.3 474.7h0M459.2 472.7h0M466.9 475.3h0M468.8 476.3h0M479.0 474.6h0M483.4 472.6h0M489.8 476.0h0M493.6 474.3h0M496.8 472.7h0M500.8 473.5h0M506.8 475.2h0M511.5 474.7h0M515.7 476.3h0M518.0 474.4h0M525.0 474.4h0M526.9 476.3h0M535.8 474.6h0M540.2 473.0h0M544.8 475.2h0M551.3 475.2h0M556.6 473.4h0M560.3 474.0h0M565.8 474.6h0M567.7 474.1h0M574.1 472.9h0M579.8 473.9h0M585.7 476.4h0M451.1 480.2h0M455.5 476.6h0M460.2 479.8h0M463.8 479.0h0M469.5 478.7h0M472.4 476.9h0M475.0 478.4h0M487.8 476.9h0M490.2 479.3h0M494.0 478.0h0M500.3 479.8h0M508.3 477.1h0M516.2 476.9h0M522.9 477.6h0M527.4 477.1h0M532.7 477.0h0M542.4 479.4h0M550.7 479.3h0M551.5 479.8h0M558.2 477.2h0M562.5 480.1h0M568.6 477.2h0M570.4 480.1h0M581.4 478.1h0M583.7 478.5h0M451.0 483.1h0M460.0 481.4h0M465.1 482.8h0M474.1 480.4h0M478.2 484.0h0M484.7 482.1h0M488.4 480.3h0M491.2 482.1h0M497.5 481.3h0M502.8 482.3h0M507.0 483.4h0M511.4 483.7h0M514.6 484.0h0M520.4 480.9h0M522.5 482.4h0M529.9 483.3h0M534.6 483.2h0M537.8 483.0h0M542.3 481.2h0M548.5 481.2h0M552.1 484.1h0M561.4 481.2h0M565.5 481.9h0M567.7 480.3h0M575.0 481.7h0M577.6 482.0h0M454.9 486.8h0M457.3 487.4h0M464.6 487.6h0M466.0 484.3h0M477.8 487.9h0M487.8 485.6h0M492.1 485.4h0M499.8 486.3h0M502.7 486.0h0M506.9 487.1h0M512.4 485.5h0M516.2 486.7h0M524.8 485.1h0M531.2 485.3h0M536.3 484.2h0M538.5 485.3h0M547.3 486.3h0M553.3 486.2h0M561.2 486.4h0M566.7 488.1h0M570.6 486.5h0M576.0 484.6h0M580.2 488.0h0M583.6 484.6h0M453.3 489.4h0M454.9 489.5h0M463.0 489.4h0M467.5 489.7h0M468.3 489.1h0M475.0 489.4h0M479.4 490.5h0M488.0 489.9h0M497.2 491.3h0M500.9 491.8h0M507.4 491.5h0M511.2 490.1h0M517.7 488.2h0M522.9 489.4h0M528.8 489.2h0M534.6 490.9h0M539.4 491.6h0M540.4 491.7h0M547.2 488.7h0M551.8 489.9h0M569.1 491.8h0M577.5 488.8h0M583.0 491.4h0M586.5 491.4h0M450.0 493.3h0M452.4 495.0h0M458.5 492.9h0M461.8 494.4h0M468.0 495.2h0M472.3 493.2h0M475.0 495.6h0M485.1 495.8h0M496.1 492.5h0M504.4 492.3h0M509.3 492.2h0M512.8 494.6h0M517.8 492.5h0M528.3 492.9h0M535.3 493.4h0M539.1 493.0h0M543.5 492.2h0M550.9 494.2h0M554.4 493.0h0M558.6 496.0h0M560.5 495.6h0M571.5 492.7h0M574.3 495.9h0M581.3 494.1h0M584.8 493.4h0M453.9 496.3h0M461.7 498.8h0M464.9 498.9h0M469.1 498.2h0M474.2 499.0h0M478.2 498.1h0M485.6 499.3h0M488.8 497.5h0M493.3 497.1h0M502.2 496.6h0M510.7 497.9h0M519.7 498.1h0M525.6 498.8h0M527.5 496.2h0M533.7 497.9h0M538.7 496.6h0M543.2 499.5h0M547.9 498.4h0M551.9 499.9h0M557.4 497.9h0M561.3 497.8h0M564.2 497.2h0M567.7 498.3h0M572.4 498.3h0M576.7 496.5h0M583.2 498.7h0M587.5 497.2h0M452.7 501.8h0M462.5 501.9h0M469.3 502.6h0M472.8 501.4h0M478.5 502.1h0M481.3 503.1h0M485.9 502.6h0M494.5 501.7h0M500.8 500.1h0M508.2 503.3h0M518.7 502.9h0M520.6 503.8h0M533.8 502.3h0M538.0 502.9h0M545.9 501.2h0M550.5 502.2h0M557.2 502.4h0M563.3 502.0h0M565.7 501.8h0M571.7 500.0h0M574.2 503.0h0M580.2 500.0h0M586.6 500.6h0M453.1 505.0h0M456.7 507.6h0M460.5 505.8h0M464.5 505.6h0M468.9 503.9h0M477.3 505.8h0M482.6 504.7h0M488.2 507.4h0M493.2 506.6h0M498.2 504.8h0M504.8 505.7h0M509.6 507.3h0M516.7 506.7h0M520.1 504.0h0M528.7 503.8h0M532.9 504.8h0M537.5 505.3h0M540.2 506.1h0M551.3 505.9h0M557.0 507.1h0M558.4 505.5h0M563.1 504.3h0M569.5 506.1h0M573.4 503.9h0M578.0 505.2h0M581.4 504.0h0M449.0 510.1h0M454.9 510.2h0M460.6 509.9h0M463.4 509.5h0M472.4 511.0h0M475.6 511.1h0M481.3 509.6h0M487.4 508.6h0M499.4 509.7h0M502.6 511.4h0M507.0 511.7h0M513.9 510.5h0M517.3 507.8h0M522.6 508.0h0M527.4 508.4h0M531.7 509.0h0M536.4 511.0h0M545.4 508.4h0M550.6 507.7h0M557.0 511.4h0M562.2 509.0h0M573.3 511.4h0M575.7 511.4h0M579.1 509.4h0M583.5 510.1h0M450.5 514.0h0M458.2 514.9h0M459.6 514.3h0M465.1 512.3h0M468.5 514.2h0M476.6 512.7h0M477.8 515.3h0M484.8 511.7h0M489.4 513.6h0M493.0 515.5h0M497.2 515.5h0M499.7 512.1h0M505.3 512.6h0M511.5 514.1h0M520.1 515.4h0M523.4 513.6h0M530.1 512.5h0M531.6 515.6h0M537.5 513.2h0M541.3 513.7h0M545.1 513.2h0M556.2 511.9h0M561.9 513.5h0M565.7 513.4h0M568.1 512.7h0M573.7 513.3h0M577.7 514.0h0M581.3 513.7h0M585.3 513.9h0M449.4 516.2h0M456.2 516.1h0M460.6 516.3h0M464.3 517.4h0M467.4 517.0h0M473.9 516.7h0M476.9 518.2h0M479.7 515.7h0M489.2 516.1h0M499.6 517.6h0M503.1 517.7h0M509.0 516.0h0M514.1 516.0h0M519.3 515.8h0M522.9 517.7h0M527.7 516.7h0M532.6 519.4h0M535.3 515.9h0M540.7 516.0h0M544.9 518.0h0M547.5 518.7h0M554.2 518.3h0M560.7 519.1h0M565.0 518.5h0M569.6 516.8h0M582.3 516.2h0M583.2 517.5h0M452.5 523.4h0M455.8 521.6h0M462.0 522.2h0M464.7 520.7h0M469.9 519.7h0M475.8 523.2h0M478.9 521.2h0M490.1 521.8h0M492.6 520.3h0M502.7 519.7h0M505.4 522.2h0M512.2 521.2h0M515.3 519.6h0M519.8 519.8h0M524.1 522.7h0M528.9 520.9h0M531.7 521.2h0M536.5 522.6h0M543.8 522.6h0M544.9 519.7h0M553.0 522.8h0M557.1 522.5h0M561.6 520.3h0M565.7 521.5h0M569.9 520.4h0M574.6 522.0h0M576.4 521.2h0M583.7 523.1h0M587.1 520.7h0M451.4 524.5h0M456.0 527.1h0M460.8 526.6h0M464.1 525.5h0M467.0 526.5h0M478.4 526.2h0M481.6 524.6h0M485.5 524.3h0M490.1 524.0h0M498.4 525.4h0M505.1 525.3h0M508.8 526.2h0M511.3 527.3h0M516.1 524.8h0M520.7 527.0h0M528.0 526.5h0M532.5 523.6h0M537.3 524.6h0M545.7 524.3h0M548.4 525.8h0M552.5 524.3h0M556.5 527.3h0M561.0 523.8h0M567.5 526.4h0M570.5 524.4h0M576.1 523.5h0" stroke="#7a6040" stroke-opacity="0.35" stroke-width="1.5" stroke-linecap="round" fill="none"/><path d="M475.6 425.5h0M559.6 424.3h0M464.3 427.1h0M557.4 426.3h0M578.9 425.7h0M582.1 433.1h0M475.4 434.5h0M512.4 434.5h0M490.2 439.0h0M515.4 438.2h0M559.0 438.0h0M495.2 444.6h0M587.9 442.7h0M541.9 446.9h0M471.7 452.3h0M545.1 452.6h0M531.3 456.1h0M507.1 457.0h0M518.5 460.4h0M511.2 464.2h0M574.2 460.9h0M551.0 465.0h0M545.8 469.4h0M564.2 470.8h0M480.6 477.8h0M511.3 480.1h0M535.3 476.7h0M538.9 478.8h0M574.7 479.6h0M581.5 482.7h0M588.2 482.9h0M471.0 486.4h0M480.2 484.5h0M516.9 488.8h0M555.1 489.9h0M573.9 489.3h0M481.7 494.9h0M498.4 494.7h0M520.3 493.6h0M532.1 495.9h0M498.5 497.0h0M507.5 497.1h0M513.6 498.0h0M449.1 500.5h0M460.6 503.7h0M512.7 503.6h0M551.7 502.4h0M474.6 505.6h0M500.2 503.8h0M522.4 503.8h0M546.5 506.7h0M466.7 507.8h0M539.1 509.8h0M486.6 518.1h0M559.5 518.3h0M483.9 519.4h0M495.8 519.5h0M540.1 526.0h0M581.5 524.9h0" stroke="#7a6040" stroke-opacity="0.35" stroke-width="2.0" stroke-linecap="round" fill="none"/></g><g filter="url(#f321)"><path d="M523.6 425.2h0M555.8 423.6h0M582.5 425.9h0M570.8 429.3h0M587.5 433.9h0M506.0 436.7h0M529.8 451.8h0M454.2 456.4h0M505.9 452.6h0M562.2 456.6h0M459.7 460.7h0M471.4 459.3h0M522.8 459.2h0M543.0 461.9h0M579.1 459.6h0M461.6 465.1h0M516.8 465.0h0M476.7 471.6h0M502.6 469.9h0M512.1 475.1h0M553.2 473.3h0M452.9 479.2h0M478.0 480.1h0M481.9 481.9h0M538.0 481.3h0M541.5 478.8h0M479.4 488.2h0M476.7 490.8h0M468.3 498.6h0M513.7 494.6h0M573.6 498.9h0M514.3 504.1h0M526.5 503.2h0M569.1 501.0h0M508.6 508.7h0M465.5 513.1h0M520.2 512.6h0M532.2 511.4h0M497.8 519.5h0M547.3 517.2h0M474.5 522.7h0M543.7 524.5h0M568.0 522.6h0M580.4 520.2h0" stroke="#48301a" stroke-opacity="0.85" stroke-width="1.5" stroke-linecap="round" fill="none"/><path d="M456.3 425.0h0M460.7 422.2h0M474.6 424.2h0M490.7 422.7h0M497.2 425.7h0M509.9 426.0h0M537.4 423.3h0M455.1 427.8h0M465.9 430.2h0M476.9 428.3h0M489.5 430.7h0M496.7 428.1h0M503.2 428.1h0M513.6 426.8h0M531.8 429.4h0M537.7 430.5h0M550.7 427.7h0M556.0 428.3h0M452.0 434.2h0M461.6 433.1h0M474.3 431.5h0M477.4 435.1h0M505.6 432.8h0M511.7 436.1h0M531.8 436.0h0M580.1 432.4h0M459.5 437.9h0M467.0 440.4h0M468.9 440.5h0M483.9 437.2h0M491.3 440.2h0M494.0 437.2h0M523.2 437.9h0M536.4 440.8h0M550.0 440.2h0M559.8 438.7h0M454.3 444.0h0M459.7 445.3h0M469.6 444.5h0M490.3 445.6h0M500.0 446.6h0M523.0 446.1h0M526.9 445.4h0M534.2 444.5h0M537.8 444.8h0M547.1 446.3h0M565.2 442.5h0M569.3 444.1h0M577.9 445.4h0M581.4 442.8h0M450.8 451.6h0M491.0 450.9h0M496.2 450.6h0M501.8 450.0h0M542.9 449.8h0M548.0 450.8h0M567.1 451.0h0M586.0 447.9h0M521.7 456.3h0M541.8 457.1h0M544.3 452.7h0M552.2 454.0h0M558.9 454.7h0M450.9 457.8h0M496.5 459.5h0M529.8 459.9h0M567.0 458.8h0M571.9 461.8h0M456.7 466.0h0M465.5 465.4h0M479.0 464.6h0M491.0 467.3h0M502.6 463.2h0M509.7 467.7h0M524.3 464.0h0M531.5 466.5h0M538.9 467.0h0M466.4 469.5h0M513.1 471.7h0M518.8 470.4h0M538.6 471.2h0M546.7 468.7h0M572.1 469.1h0M455.6 475.9h0M462.0 474.0h0M479.6 477.9h0M484.1 475.4h0M514.4 477.4h0M523.1 476.8h0M525.8 474.2h0M543.5 477.3h0M561.6 477.6h0M572.1 473.8h0M589.8 476.9h0M500.4 482.3h0M505.6 482.9h0M520.5 481.5h0M560.5 481.7h0M569.2 481.4h0M570.9 479.8h0M579.6 480.3h0M490.0 488.1h0M528.0 484.9h0M537.5 487.0h0M570.6 485.9h0M588.5 488.0h0M465.6 491.9h0M470.3 489.9h0M490.6 492.0h0M506.8 490.8h0M513.9 493.3h0M520.4 493.6h0M530.7 489.5h0M549.4 490.0h0M555.9 492.7h0M562.6 490.3h0M566.3 493.0h0M579.9 493.2h0M586.2 490.7h0M448.6 495.8h0M455.4 496.0h0M476.2 498.1h0M486.3 494.7h0M519.6 495.0h0M545.6 498.4h0M550.3 497.2h0M458.3 502.2h0M463.7 503.1h0M491.2 499.6h0M543.4 503.1h0M551.0 502.8h0M591.7 501.5h0M467.4 506.9h0M492.1 508.9h0M498.7 506.8h0M503.4 506.0h0M523.9 506.1h0M527.5 506.4h0M532.5 509.0h0M546.2 506.0h0M579.8 508.2h0M586.9 504.6h0M457.6 511.3h0M470.3 513.3h0M489.1 513.2h0M505.4 512.8h0M543.4 513.7h0M561.9 510.1h0M453.7 519.6h0M460.3 518.1h0M468.1 516.9h0M479.4 518.4h0M490.8 519.0h0M506.1 515.2h0M517.6 517.6h0M520.5 515.0h0M528.3 517.2h0M539.0 517.6h0M551.3 518.1h0M563.9 519.8h0M568.9 517.3h0M458.9 522.5h0M467.3 521.4h0M483.6 522.7h0M494.9 520.4h0M499.4 523.3h0M514.3 520.3h0M547.3 522.2h0M556.1 522.1h0M586.7 522.9h0" stroke="#48301a" stroke-opacity="0.85" stroke-width="2.0" stroke-linecap="round" fill="none"/><path d="M450.2 422.6h0M481.1 421.2h0M527.8 423.6h0M532.2 423.1h0M548.0 426.0h0M552.4 425.4h0M568.0 424.5h0M578.2 424.4h0M471.1 429.2h0M481.6 430.0h0M509.2 429.9h0M562.9 427.0h0M569.2 426.8h0M579.2 429.2h0M591.6 429.6h0M455.8 435.1h0M467.2 433.2h0M487.7 434.7h0M493.3 434.4h0M499.3 431.8h0M515.9 433.9h0M546.4 432.9h0M557.7 432.2h0M567.5 432.9h0M574.2 431.6h0M454.2 436.8h0M475.3 440.2h0M501.5 438.0h0M519.2 440.6h0M543.3 440.1h0M568.6 439.3h0M574.7 438.6h0M578.8 438.3h0M585.3 437.1h0M590.2 437.7h0M481.0 445.2h0M485.9 443.8h0M509.8 444.2h0M513.9 446.2h0M552.7 444.9h0M586.6 446.4h0M456.6 450.9h0M477.9 449.1h0M483.0 450.4h0M507.2 449.9h0M538.5 452.1h0M563.3 448.5h0M574.5 449.5h0M579.6 447.3h0M591.1 448.1h0M448.7 454.7h0M460.2 456.2h0M469.0 456.8h0M480.9 454.2h0M484.6 456.5h0M490.1 456.8h0M497.7 456.4h0M510.8 454.9h0M533.1 452.6h0M575.3 455.7h0M465.5 461.1h0M475.0 458.3h0M483.6 460.3h0M488.2 458.5h0M503.0 458.1h0M520.6 462.5h0M538.9 462.4h0M546.6 462.0h0M556.7 461.0h0M587.0 460.9h0M590.0 462.4h0M449.4 463.1h0M474.8 463.9h0M499.6 466.9h0M526.1 463.0h0M555.8 464.7h0M565.5 465.8h0M569.0 466.3h0M577.5 465.0h0M581.4 463.6h0M484.7 469.5h0M486.5 470.1h0M505.4 472.1h0M524.8 468.6h0M531.6 470.7h0M561.8 470.8h0M566.3 470.5h0M576.5 470.9h0M583.3 470.9h0M589.1 468.7h0M452.0 474.7h0M466.2 475.8h0M474.3 474.8h0M497.8 477.1h0M532.6 475.7h0M560.2 475.6h0M462.8 482.7h0M472.1 479.9h0M491.4 481.1h0M492.8 482.3h0M548.6 478.6h0M552.7 483.2h0M447.8 483.9h0M463.3 484.8h0M466.1 486.3h0M473.6 484.1h0M484.9 488.0h0M498.1 486.3h0M502.7 484.9h0M510.2 488.2h0M513.7 487.6h0M521.4 488.5h0M550.5 488.2h0M563.7 484.7h0M576.5 484.7h0M580.1 487.4h0M482.2 492.1h0M495.5 493.7h0M500.5 493.6h0M535.9 493.9h0M540.8 490.1h0M573.0 491.2h0M589.3 490.5h0M459.4 494.6h0M491.2 496.6h0M499.6 495.6h0M504.9 497.2h0M511.7 498.1h0M527.6 496.8h0M534.8 496.0h0M541.7 494.9h0M560.3 494.9h0M564.7 498.3h0M568.0 497.9h0M588.9 498.1h0M470.6 502.6h0M494.2 499.7h0M507.3 502.5h0M519.4 500.4h0M538.7 503.5h0M553.6 502.3h0M570.8 502.6h0M580.2 503.0h0M585.8 503.7h0M464.3 504.6h0M472.6 508.2h0M477.7 506.8h0M484.5 504.6h0M514.6 505.1h0M551.8 504.9h0M568.5 507.2h0M453.4 511.0h0M476.4 514.2h0M482.9 513.9h0M494.9 511.3h0M499.2 510.2h0M510.5 513.5h0M526.0 511.6h0M537.2 510.7h0M546.7 512.7h0M553.5 514.5h0M568.5 510.8h0M578.9 511.9h0M585.5 511.0h0M451.0 516.8h0M471.9 516.6h0M486.0 516.3h0M508.0 517.5h0M533.9 515.3h0M575.2 516.5h0M587.1 516.1h0M472.5 521.0h0M504.4 525.2h0M527.2 520.3h0M536.2 521.7h0M573.2 521.3h0M589.3 523.5h0" stroke="#48301a" stroke-opacity="0.85" stroke-width="2.5" stroke-linecap="round" fill="none"/><path d="M468.1 423.3h0M488.3 421.6h0M503.2 421.4h0M515.0 423.8h0M562.3 424.9h0M587.5 422.8h0M459.2 427.5h0M519.0 430.2h0M527.2 430.6h0M541.0 427.3h0M584.4 426.9h0M520.4 433.4h0M526.6 435.8h0M538.0 433.9h0M552.9 432.3h0M563.9 432.9h0M510.5 440.1h0M531.2 440.8h0M556.7 440.4h0M451.6 445.4h0M475.7 443.5h0M503.1 445.4h0M556.9 443.2h0M466.4 447.7h0M469.2 450.3h0M514.5 450.6h0M517.2 451.5h0M522.4 449.3h0M555.4 447.4h0M475.4 453.4h0M515.0 455.7h0M527.7 455.0h0M570.0 454.9h0M583.4 455.0h0M588.2 453.0h0M506.4 459.8h0M511.5 461.7h0M560.3 461.3h0M487.0 465.8h0M547.3 467.7h0M550.8 463.7h0M585.7 463.6h0M452.2 472.8h0M458.1 472.5h0M471.8 471.6h0M494.8 470.6h0M542.2 469.7h0M553.3 471.3h0M493.5 476.9h0M501.8 473.7h0M540.0 474.6h0M577.7 477.8h0M579.7 477.1h0M459.3 481.6h0M515.1 482.6h0M526.4 482.4h0M532.1 478.8h0M584.5 481.9h0M592.3 479.2h0M456.3 484.4h0M535.1 487.3h0M543.7 485.6h0M559.1 485.6h0M453.3 492.0h0M461.3 493.7h0M526.1 489.9h0M479.6 495.9h0M579.9 496.3h0M452.5 500.0h0M476.9 500.4h0M485.1 503.2h0M501.8 502.3h0M529.1 500.2h0M559.8 500.1h0M448.8 504.9h0M457.3 506.9h0M541.8 508.5h0M557.2 508.3h0M564.2 505.8h0M573.4 508.2h0M573.5 510.2h0M590.3 514.3h0M558.6 516.4h0M580.9 519.2h0M455.1 520.7h0M487.4 521.0h0M519.4 522.8h0M528.5 523.2h0M560.0 521.8h0" stroke="#48301a" stroke-opacity="0.85" stroke-width="3.0" stroke-linecap="round" fill="none"/></g></g><rect x="589.1" y="423.5" width="132.8" height="98.8" fill="url(#g33)"/><g clip-path="url(#c33)"><g filter="url(#f330)"><path d="M588.6 422.5l-0.0 0.0M594.0 422.3l0.1 0.0M600.9 422.7l-0.2 0.6M613.2 424.7l-1.0 0.7M615.0 422.1l0.5 1.0M620.5 422.6l0.5 1.2M624.8 424.0l0.4 0.9M633.9 424.4l0.0 0.0M636.3 423.4l0.2 0.3M644.7 424.8l1.4 0.5M652.1 424.3l0.2 0.1M655.1 423.2l0.2 0.9M663.6 424.7l-0.4 0.1M668.1 423.3l-0.6 1.2M689.9 422.5l-0.2 0.1M720.5 423.2l0.2 0.0M724.4 423.8l0.2 0.0M592.5 426.3l-0.2 1.0M612.6 427.1l-1.2 0.6M623.6 425.4l-1.1 1.2M636.6 426.6l-0.4 0.1M644.2 425.9l0.2 1.1M647.4 428.1l0.1 1.4M653.4 428.7l0.0 0.1M658.1 427.0l0.8 1.5M660.9 425.6l0.8 0.8M668.9 426.6l0.0 1.1M684.8 428.4l-0.6 0.1M695.7 425.7l0.6 1.3M701.5 427.7l-1.3 0.7M704.9 427.5l1.3 0.5M713.2 428.8l0.4 0.3M718.4 428.1l-0.7 0.9M587.6 429.9l0.0 0.1M594.4 431.7l-0.1 0.4M599.1 431.9l-1.5 0.5M612.2 429.6l0.9 1.4M614.3 431.5l0.2 0.5M620.0 431.4l0.2 0.7M632.1 431.4l-0.3 1.1M649.3 429.7l0.9 0.9M668.3 431.5l0.2 1.4M675.9 430.3l0.1 1.1M686.2 432.3l0.4 0.1M690.4 429.8l-0.7 0.6M716.3 431.5l-0.0 0.4M720.0 429.8l-0.4 0.0M725.5 429.6l0.3 1.4M597.0 434.2l0.1 0.3M600.5 435.2l-0.3 1.6M611.4 434.5l1.1 0.7M631.2 435.1l-0.0 1.0M639.9 434.2l-0.6 1.5M649.2 434.1l-1.3 0.9M654.1 434.4l-0.4 1.5M666.4 435.4l-0.5 0.6M670.3 433.5l-0.3 1.5M675.7 434.0l0.4 1.2M680.4 434.0l0.5 0.4M684.2 436.3l-0.0 0.1M687.4 435.1l-1.0 1.4M693.0 435.5l0.8 1.0M700.5 436.1l0.1 0.1M705.9 435.0l0.1 0.1M710.1 433.6l0.3 1.1M722.3 435.3l-0.5 0.4M728.0 433.7l0.8 0.0M594.7 437.7l-0.4 0.7M597.4 439.7l-0.4 0.8M603.1 439.7l-0.5 1.3M607.0 438.1l1.4 0.4M610.1 437.8l1.0 0.1M643.8 439.8l-0.8 0.6M644.5 437.3l0.7 0.0M655.0 438.7l-1.0 1.0M672.2 438.2l-0.7 1.2M690.4 439.9l0.6 0.9M700.7 438.8l-0.5 1.6M712.9 439.8l-1.0 1.2M717.4 439.7l-0.0 0.7M722.1 438.0l0.1 0.3M601.3 441.4l-0.8 0.1M607.6 442.9l0.9 0.3M617.5 441.6l-0.1 0.1M626.0 443.5l-0.5 1.1M630.7 443.9l-0.2 0.4M645.8 443.1l-0.8 0.2M649.3 442.0l-0.3 0.9M657.6 440.6l-0.1 1.4M671.4 443.7l0.4 1.1M690.6 441.3l0.8 0.1M711.3 443.0l0.8 0.2M715.9 440.8l-1.4 0.9M718.5 442.0l-0.6 0.4M591.0 445.6l-0.7 0.7M593.5 446.6l0.4 0.3M603.1 445.7l-0.1 1.1M604.9 444.6l0.9 1.1M618.6 446.4l0.3 0.3M642.9 446.3l0.2 0.3M645.6 447.8l0.3 0.2M652.1 446.4l-0.2 0.2M658.8 445.7l0.5 0.1M663.1 447.0l0.6 0.8M676.4 447.3l-1.6 0.5M681.2 447.7l-0.2 0.3M685.6 447.7l-0.4 0.4M715.2 445.1l0.0 1.0M591.3 448.0l0.1 1.7M608.2 451.4l-0.2 1.0M623.2 449.5l0.0 0.2M630.9 450.5l-0.0 1.4M652.6 451.2l-1.0 0.1M657.7 449.1l-1.0 1.1M662.2 448.5l-0.5 1.1M676.5 451.1l-0.7 0.0M685.0 450.8l-1.5 0.8M689.5 449.8l-0.6 1.0M694.0 451.9l0.2 0.0M720.0 450.9l0.5 1.4M722.4 451.3l0.1 0.3M606.5 455.4l-0.2 0.1M612.6 454.7l0.0 1.1M613.7 454.9l1.7 0.4M625.6 452.5l-1.2 0.4M632.3 454.5l0.2 0.2M636.6 454.4l-0.9 0.8M648.0 453.3l-0.7 0.2M650.7 452.6l0.8 0.5M658.5 455.5l0.1 0.1M667.4 453.9l-0.4 0.6M684.5 454.6l0.0 0.5M709.3 453.4l0.4 0.1M713.0 452.7l0.7 0.3M715.8 453.2l0.2 0.9M720.4 454.2l-0.8 0.6M596.1 456.8l0.0 0.3M600.6 458.5l-0.1 0.5M607.7 457.0l-0.4 0.9M612.7 459.2l0.9 0.2M629.5 458.4l-0.0 0.0M639.8 458.5l-0.2 0.0M656.1 457.2l0.3 0.9M666.0 457.5l-1.0 0.9M674.7 457.9l-0.5 1.6M684.0 456.8l0.2 1.0M700.6 457.1l0.0 0.1M589.9 461.6l-0.3 1.4M594.0 461.7l-1.6 0.5M596.5 462.7l-0.1 0.3M611.2 462.8l-0.4 0.8M616.0 463.2l-0.0 0.2M619.7 460.9l0.6 1.3M625.9 462.4l-0.0 0.0M629.5 462.9l1.4 0.3M634.4 461.4l-0.6 0.7M642.0 460.4l0.0 0.0M655.8 462.8l-0.8 0.7M672.5 460.9l-1.0 0.8M678.5 460.5l-0.5 0.0M681.4 459.9l-0.2 1.3M686.7 461.9l-0.5 0.2M698.0 461.2l-0.2 0.9M705.1 462.5l-0.4 0.9M708.7 461.0l-0.6 1.0M711.3 462.5l-0.1 0.0M720.9 462.7l0.1 0.6M724.6 460.5l1.0 0.4M591.6 465.0l0.3 0.1M601.0 465.5l1.2 1.2M612.2 465.2l1.5 0.8M616.7 465.4l-0.4 0.5M623.6 464.4l-1.0 0.5M631.2 465.7l0.0 0.2M634.6 466.0l1.3 0.1M648.1 466.5l-0.2 0.5M652.6 464.7l0.1 0.0M655.9 465.7l-0.2 0.2M669.1 464.3l-0.2 0.1M680.8 464.7l-0.0 0.2M683.1 464.5l0.2 1.1M689.0 464.2l-0.6 0.3M690.9 466.0l0.8 1.5M695.8 466.1l-0.2 0.5M700.7 465.2l-0.0 0.0M705.6 463.9l0.1 1.3M710.5 465.5l-0.1 0.0M718.8 465.4l-0.2 0.7M728.1 465.5l0.6 0.0M588.2 469.9l1.1 0.6M598.7 470.3l1.4 0.1M601.9 469.5l-0.8 1.0M614.2 468.8l0.9 0.6M629.5 470.1l-0.3 0.0M634.7 469.3l-0.3 0.1M637.4 471.0l-0.0 0.0M647.2 469.3l0.0 0.4M669.5 467.9l-0.2 0.2M679.9 468.5l0.5 0.7M692.0 467.9l-1.3 0.8M694.3 470.1l-0.2 0.6M699.9 467.9l1.3 0.6M703.1 470.8l-0.0 0.4M592.5 474.7l0.6 0.4M601.3 474.6l-0.4 0.6M610.1 473.0l-0.3 0.1M618.6 472.0l-0.4 0.7M627.9 472.8l-0.7 0.2M639.7 474.1l0.6 0.1M647.9 471.8l-0.6 0.8M652.4 472.5l1.0 0.1M658.7 472.3l-0.1 0.9M661.0 474.5l-0.8 0.4M671.0 473.8l0.6 0.6M680.3 471.4l-1.3 0.8M681.7 471.6l1.0 0.8M691.2 473.2l0.3 0.7M715.4 473.8l0.5 0.2M727.1 472.7l0.4 0.8M590.7 477.7l-0.1 0.3M605.6 477.8l-0.0 0.8M627.7 478.4l-0.7 0.5M636.9 476.4l1.3 0.4M640.4 478.1l1.6 0.1M651.2 477.4l0.1 0.1M656.5 475.7l0.2 0.7M673.6 475.3l-1.1 0.6M680.8 477.7l-0.9 0.4M697.9 478.1l-0.1 0.1M702.8 476.7l0.7 1.0M713.6 475.8l-0.0 0.0M720.5 478.1l0.3 0.0M725.8 475.5l1.1 0.8M594.0 479.7l1.2 0.5M604.7 480.2l-0.2 0.0M618.7 479.1l0.5 1.2M620.4 481.8l0.6 1.2M629.4 481.2l0.4 0.1M635.5 479.6l0.6 1.6M652.7 480.9l0.1 0.1M666.6 482.5l1.2 0.0M668.3 480.3l1.4 0.4M677.7 480.8l0.3 0.3M696.9 480.5l0.6 0.1M700.4 482.1l0.1 0.0M709.8 479.5l-0.6 1.2M722.5 479.4l0.8 0.3M599.0 483.4l0.2 0.3M614.9 485.6l-0.1 0.6M627.6 485.9l-0.4 0.5M633.2 484.9l0.2 0.0M646.7 482.7l-0.1 1.4M660.7 483.2l0.7 1.0M662.5 483.8l1.5 0.1M666.8 484.9l-0.0 0.0M677.4 484.9l-0.1 0.8M680.3 484.7l1.2 0.7M689.9 482.4l-0.0 1.7M694.5 485.3l-0.2 1.6M713.0 484.1l0.1 0.6M717.7 483.9l0.0 0.0M591.3 486.9l0.6 0.4M596.2 488.4l-1.1 0.8M604.9 487.5l-0.7 0.6M617.0 489.0l-0.0 0.1M632.1 488.9l0.7 0.3M635.4 487.8l-0.1 0.2M652.9 487.6l1.0 0.7M674.0 489.4l0.5 0.4M683.8 489.5l0.0 0.1M687.8 487.7l0.3 0.0M691.5 489.8l0.2 0.2M700.3 488.2l0.1 0.6M709.8 486.8l-1.2 1.0M715.6 488.9l0.5 1.4M728.9 486.4l0.6 1.3M590.1 492.3l0.7 0.3M597.8 493.8l-0.7 0.0M606.6 492.9l-0.2 0.4M610.0 491.8l-0.7 0.6M619.7 492.2l-0.8 0.0M633.2 493.5l-0.7 0.9M638.9 490.9l-0.4 1.0M641.7 490.8l0.0 0.3M653.7 490.7l1.0 1.1M665.8 493.6l-1.0 0.1M672.1 490.9l-1.4 0.2M682.3 493.2l0.1 0.0M684.8 490.8l0.2 1.0M688.8 490.4l0.9 1.3M696.1 492.3l-1.0 0.4M707.4 492.6l-0.1 0.2M710.1 492.9l1.3 0.5M723.2 492.6l-0.9 1.0M725.9 492.2l0.5 1.2M591.8 496.1l-0.6 0.8M598.5 496.7l0.5 1.2M608.7 497.1l-1.4 0.3M611.8 497.0l0.2 0.3M616.8 496.4l0.1 0.1M627.1 495.9l-0.2 0.1M640.7 496.9l-0.5 0.8M643.3 495.8l-0.5 0.8M648.9 495.5l0.1 0.0M679.9 495.1l-0.0 0.1M683.0 497.1l0.4 0.5M688.8 496.6l-1.5 0.6M691.5 495.4l1.1 0.2M703.0 495.6l-0.2 0.1M706.1 495.2l0.2 1.1M714.0 496.7l-1.3 0.4M723.0 497.5l0.1 0.1M729.2 497.3l-0.4 1.2M591.2 501.0l-1.6 0.2M593.1 501.0l-0.6 0.5M596.7 500.7l-0.0 0.6M607.5 500.0l1.1 1.1M615.6 499.0l-1.4 0.5M621.0 500.0l-0.1 0.2M625.9 500.9l0.0 0.0M630.7 500.5l-1.3 0.8M646.7 499.5l1.0 0.5M682.2 498.4l0.8 0.7M695.8 499.2l-0.6 0.1M702.7 499.2l0.2 0.3M708.3 500.7l-0.4 0.8M720.9 499.3l-0.2 0.4M724.4 498.3l-0.1 0.7M594.7 503.2l0.1 0.2M599.6 503.7l-0.6 0.7M605.3 503.8l1.6 0.3M609.8 503.8l0.0 0.0M621.8 503.8l0.1 0.1M648.4 503.5l0.0 1.5M668.9 504.0l1.4 0.8M674.8 502.9l0.0 0.0M687.7 505.1l-1.4 0.0M693.3 503.0l0.8 0.1M706.1 505.0l-0.2 0.1M718.8 504.4l0.4 0.3M728.9 502.8l-0.1 1.5M612.5 508.8l0.4 0.5M614.8 507.2l-0.7 0.9M625.1 508.5l0.8 0.6M630.2 508.5l-0.0 0.2M638.2 507.7l0.2 0.4M651.8 507.0l0.1 0.1M655.5 506.0l-0.3 0.8M669.1 508.5l-0.4 0.3M676.4 507.4l-0.1 0.0M685.6 506.7l-0.5 0.4M691.4 507.0l-0.5 1.1M700.6 508.0l0.1 0.0M596.9 512.0l-0.1 1.3M609.9 511.6l0.4 0.3M614.6 512.6l-1.0 0.5M617.1 510.0l-1.1 1.2M623.3 510.1l-0.4 0.6M633.8 513.1l1.6 0.0M641.2 510.8l-0.2 0.0M644.3 512.8l0.2 0.1M656.0 511.2l0.3 0.2M671.2 510.8l-0.3 0.0M678.8 510.6l-0.5 1.2M684.1 511.2l0.9 0.8M689.2 510.7l-1.1 1.1M699.3 512.9l-1.6 0.1M711.0 511.0l-0.7 1.0M715.2 510.9l0.9 0.7M598.2 515.3l0.1 0.5M606.7 516.9l1.0 0.1M620.8 515.8l-0.4 0.0M643.3 515.5l-0.3 1.3M645.5 514.0l-0.2 1.6M651.8 516.1l-0.8 0.5M654.2 516.9l0.5 0.0M660.4 515.6l-0.6 0.2M670.9 514.6l1.0 0.4M676.8 515.3l0.3 0.9M681.3 514.9l1.4 0.0M686.6 513.8l0.1 0.2M705.2 513.5l-0.6 1.4M596.6 519.1l0.0 0.0M603.5 519.6l-0.0 0.2M610.1 517.9l0.4 0.7M611.9 518.1l0.0 1.4M622.0 519.5l-0.7 1.3M639.5 518.3l-0.6 0.5M657.0 518.8l-0.2 0.1M660.3 520.5l0.0 0.5M664.7 517.6l-0.1 0.2M674.8 520.0l-1.0 1.1M678.5 518.5l1.2 0.3M682.5 519.0l0.4 0.2M698.3 520.3l-0.4 0.3M710.9 517.8l-0.1 0.4M714.1 517.7l0.1 1.5M727.6 520.3l-1.0 0.1M602.7 523.5l0.9 0.7M611.5 521.6l1.4 0.6M614.9 521.5l0.1 0.0M618.0 523.7l1.3 0.1M629.4 523.5l-1.7 0.2M641.3 523.8l-0.2 0.2M646.5 522.3l-0.7 0.3M649.3 524.3l0.1 0.3M655.4 522.3l0.8 0.4M663.6 522.5l-1.1 1.2M683.2 521.9l-0.8 0.9M720.7 523.0l-0.0 0.3M724.7 522.3l0.4 0.1" stroke="#34261a" stroke-opacity="0.88" stroke-width="2.0" stroke-linecap="round" fill="none"/><path d="M599.0 424.2l-0.5 0.1M606.9 421.9l0.5 0.7M630.1 423.4l-0.2 0.7M639.6 423.3l1.5 0.7M660.4 424.1l-0.1 0.2M671.4 424.3l0.1 0.2M677.3 422.4l0.4 0.4M682.2 424.0l-0.1 1.3M685.7 423.2l0.5 0.4M693.7 422.6l-0.4 0.0M697.0 424.0l1.2 1.2M704.7 423.8l0.2 0.6M706.9 422.2l0.0 0.4M713.9 422.3l-0.9 0.6M716.8 424.4l0.9 0.1M594.6 426.9l-0.6 1.0M601.6 427.9l-0.5 0.0M602.2 428.2l1.6 0.1M608.4 425.1l-0.7 1.5M617.7 425.7l0.9 0.3M627.8 427.9l0.5 1.1M630.7 428.3l0.3 0.0M639.2 427.5l0.9 0.3M664.8 427.3l-0.0 1.4M675.0 426.1l0.5 1.4M678.6 427.9l-0.7 1.5M686.1 427.6l1.2 0.1M692.6 427.1l1.4 0.9M708.2 428.9l1.4 0.0M722.6 427.4l-0.1 0.0M726.6 427.6l0.7 0.1M602.3 431.1l0.2 0.7M605.7 431.8l0.2 0.1M625.1 429.8l-0.6 0.2M629.9 429.9l-0.0 0.4M637.3 430.6l-1.6 0.1M643.0 430.4l0.0 0.2M645.4 431.4l1.2 0.5M657.0 430.0l-0.9 1.0M660.6 430.7l0.2 0.3M662.7 431.0l0.7 1.4M672.2 431.3l0.4 1.2M681.6 429.7l-0.1 0.1M694.7 431.6l0.6 1.3M698.3 431.9l0.6 0.5M705.0 430.3l-0.2 0.2M706.7 431.3l-0.2 0.3M711.4 430.4l0.3 0.6M593.3 435.4l-1.4 0.7M604.5 433.5l-0.7 0.4M608.1 434.1l0.4 1.5M618.8 433.3l0.3 0.7M622.3 434.2l-0.0 0.0M628.0 433.8l-0.1 1.5M634.4 433.0l0.0 1.1M645.8 433.5l-1.0 1.0M656.5 434.9l-0.0 0.0M661.2 434.2l0.5 1.0M695.9 435.7l1.1 0.6M716.9 434.5l-1.5 0.4M717.7 434.8l1.3 0.5M588.3 437.7l-0.4 1.1M613.9 439.6l0.2 0.8M620.6 438.0l1.2 0.6M623.0 437.5l-0.2 0.4M628.0 439.6l-0.1 0.1M632.6 439.3l-0.3 1.3M638.1 437.7l1.1 0.4M650.0 439.3l0.9 0.6M661.1 437.9l-0.5 0.3M664.7 439.3l-0.5 1.1M670.0 437.2l-1.4 0.8M677.7 438.0l1.0 0.4M681.9 439.7l0.6 0.1M685.2 437.6l-1.0 1.3M695.6 436.8l-0.9 1.4M702.4 438.9l0.2 0.0M706.5 438.2l0.9 0.1M725.5 439.6l-0.2 0.0M592.2 443.6l0.7 0.2M597.7 442.3l-1.3 0.4M603.5 443.5l-0.0 0.5M613.0 442.0l0.7 0.4M623.4 442.0l-0.1 0.3M637.2 440.9l-1.6 0.4M640.9 440.7l-1.0 1.1M651.5 442.3l-0.2 0.1M661.8 443.9l0.5 0.7M666.9 443.1l0.3 1.0M675.2 444.0l0.0 0.0M679.0 441.0l-0.2 0.4M684.3 442.3l0.4 0.2M687.9 442.1l0.0 1.0M696.5 443.0l-0.2 1.1M699.8 442.8l0.1 0.9M704.3 442.4l1.4 0.5M723.7 443.3l1.1 0.2M726.8 441.5l0.0 0.0M599.8 446.3l-0.7 1.1M612.7 444.5l-0.3 0.8M615.8 446.4l-0.0 0.3M624.8 445.7l0.4 0.3M628.0 447.1l1.2 0.2M631.7 445.2l0.9 0.5M637.6 446.8l0.3 0.1M655.3 446.0l-0.3 0.5M666.4 447.0l1.4 0.1M671.9 446.4l-0.6 0.2M691.2 447.2l-1.6 0.0M693.3 445.2l1.3 0.0M697.5 445.6l0.7 0.3M702.1 447.1l0.7 0.6M706.7 446.7l0.5 1.4M711.3 445.5l0.9 0.5M721.8 445.6l1.4 0.5M724.9 445.1l0.3 0.6M596.2 449.6l0.9 1.3M599.5 450.7l-0.8 1.3M604.0 449.8l-0.1 0.1M612.8 450.6l-0.2 0.2M618.7 449.0l0.1 0.3M625.5 449.2l-0.1 0.3M635.1 448.4l1.1 1.2M638.4 450.9l0.0 0.9M645.5 450.1l-0.6 0.2M648.0 449.0l0.1 1.5M667.7 448.6l-1.1 1.0M671.8 449.3l-0.0 0.2M678.5 451.6l0.4 0.6M696.8 450.3l0.3 0.0M701.7 449.6l-0.3 1.4M706.0 448.9l0.2 0.9M712.0 448.3l-0.5 0.9M714.0 448.9l-0.1 0.1M728.6 449.2l-0.7 0.5M588.4 453.0l0.1 1.4M594.4 453.4l0.5 0.7M599.4 454.4l-0.0 0.3M603.5 453.5l0.1 1.0M620.2 453.1l-0.0 0.1M627.6 454.9l0.7 0.5M641.6 453.1l-0.2 0.5M653.7 452.8l0.1 0.1M663.3 454.2l0.4 1.4M672.8 453.1l1.5 0.0M677.4 453.6l1.0 0.1M680.2 453.5l0.1 0.4M689.9 455.1l0.3 0.2M695.8 454.4l-0.4 1.0M698.9 454.0l-0.4 0.3M702.3 452.5l0.7 0.5M724.9 453.0l-1.4 0.3M591.8 458.1l-1.0 0.4M603.2 457.5l-0.5 0.1M617.5 456.4l-0.9 0.0M621.3 457.2l-0.7 0.3M627.2 458.3l0.2 0.0M637.1 456.4l-0.6 0.5M644.5 456.9l0.2 1.1M649.8 457.1l0.4 1.3M652.2 458.6l-0.5 0.6M661.0 456.0l0.1 0.9M669.1 456.5l-0.1 0.7M679.7 457.2l1.0 0.2M687.6 457.1l-1.5 0.2M693.8 458.1l0.1 0.5M696.2 458.2l-0.1 0.4M703.8 458.3l0.9 0.7M709.1 458.6l0.2 1.6M714.5 456.5l1.0 0.4M718.2 458.3l-0.8 0.5M723.4 456.9l0.1 0.8M728.0 458.9l0.9 0.5M602.0 462.7l-0.2 0.1M605.9 461.9l-0.0 0.2M638.7 463.4l-0.0 0.0M646.5 462.0l-0.0 0.3M652.6 461.3l-0.7 1.3M660.8 460.7l-0.3 0.1M663.0 461.1l0.6 0.5M668.8 461.9l-0.0 0.1M690.0 461.6l0.3 1.4M694.5 460.5l-0.9 0.1M715.9 461.6l0.4 0.3M594.9 464.6l-1.0 0.1M605.1 464.7l1.5 0.8M607.5 465.6l-0.1 0.2M627.9 464.4l0.0 0.1M640.2 465.2l0.7 1.5M644.2 466.5l-0.3 0.9M660.5 466.2l-0.2 0.1M666.2 464.3l0.1 0.8M673.6 464.8l1.0 1.2M714.8 465.4l0.3 1.6M724.6 465.4l0.1 0.2M592.5 469.2l-0.2 0.2M606.5 470.4l-0.6 0.5M612.0 469.8l0.5 0.9M620.9 468.3l-1.4 0.4M624.3 469.2l-0.7 0.6M642.6 469.2l-0.9 0.1M649.8 468.7l0.0 0.1M654.5 470.3l0.2 0.1M660.0 468.8l0.2 1.4M665.3 470.0l0.1 0.0M673.3 468.8l0.6 1.2M675.9 470.0l1.0 0.9M686.2 470.3l-0.9 0.2M707.0 468.2l-0.0 0.5M710.4 467.8l1.0 1.1M718.0 469.0l-1.6 0.5M722.3 468.1l0.2 0.0M724.9 470.4l-1.5 0.7M594.7 472.1l-0.4 0.6M603.4 473.2l-0.5 0.0M613.9 474.8l-0.0 0.0M620.6 473.1l0.6 0.7M632.5 473.9l-0.1 0.0M636.0 471.3l-0.2 1.1M643.8 471.7l0.6 1.2M665.0 471.6l-0.0 0.6M674.9 474.7l-0.9 0.2M686.6 472.8l0.9 0.7M695.7 471.7l0.7 0.7M701.4 474.6l0.1 0.0M705.8 474.1l1.0 1.3M710.5 473.6l1.5 0.3M719.1 474.7l0.0 0.1M722.2 473.0l-0.3 1.5M593.0 477.2l0.4 0.5M597.0 477.1l0.1 0.1M603.1 476.7l0.7 0.5M612.3 476.7l-1.5 0.7M614.4 477.1l0.0 0.3M618.1 477.0l1.3 0.3M623.1 478.3l-0.6 0.1M631.5 478.4l0.9 0.1M646.6 478.2l-1.4 0.4M661.2 475.3l-0.6 0.5M664.2 477.6l-0.7 1.0M666.7 475.6l0.8 1.0M675.8 476.4l-0.2 0.0M686.9 477.8l-1.0 0.1M691.4 478.4l0.3 0.1M695.7 476.7l1.1 0.6M708.5 476.0l0.4 1.3M717.2 477.7l-0.1 1.4M590.6 481.2l0.5 0.2M599.3 480.5l0.2 0.6M609.5 481.8l0.1 0.2M612.3 480.6l-0.0 0.8M627.6 481.4l-0.0 0.0M638.2 479.5l0.0 0.0M642.8 479.9l0.3 0.2M648.3 479.3l-1.2 0.7M657.9 480.6l0.1 0.2M663.0 479.4l-0.6 0.3M674.6 479.6l-0.8 0.2M685.1 481.0l0.5 0.6M687.6 479.9l0.3 0.0M691.4 479.8l-0.3 0.7M704.8 481.9l1.4 0.8M713.1 479.5l0.6 0.4M719.5 480.8l-0.5 0.3M726.4 480.6l0.1 0.6M590.9 485.2l-1.0 0.3M593.7 484.3l0.0 1.6M603.0 484.1l0.5 0.2M607.8 483.2l0.0 0.2M611.8 483.1l-1.4 0.3M620.3 484.8l1.4 0.5M625.1 486.1l0.5 0.1M639.3 483.2l-0.4 0.7M643.0 485.3l-0.3 0.0M650.8 485.1l0.2 0.1M656.7 485.4l-0.3 0.3M672.3 483.7l-0.7 1.4M687.0 483.2l0.1 0.1M698.3 483.4l0.9 1.0M704.0 484.8l0.0 1.1M708.0 484.5l-0.7 0.5M721.3 485.1l0.0 0.1M724.1 483.3l1.2 0.0M600.2 489.7l-0.1 0.3M608.4 487.6l-0.6 0.7M613.4 489.1l1.0 1.0M621.3 487.9l1.3 0.7M625.3 487.7l-0.4 1.4M640.3 488.1l-0.0 0.0M645.1 487.3l0.4 0.6M646.8 486.4l0.5 1.3M657.9 488.8l0.5 1.3M660.9 487.0l-0.7 1.0M665.6 489.0l0.8 0.2M672.7 487.4l-1.3 0.5M679.8 487.7l0.5 0.1M697.5 487.9l-0.0 0.1M706.8 489.5l1.1 0.3M719.0 487.8l-0.1 0.4M722.1 487.7l0.0 0.1M593.4 491.1l0.5 0.4M603.1 492.1l-1.0 0.1M615.0 493.3l-0.1 0.4M623.5 492.4l-0.2 0.9M628.5 493.9l-0.5 0.1M644.9 491.4l-0.1 0.2M650.5 491.7l-0.0 0.0M660.3 491.1l0.7 0.0M667.2 492.3l0.0 0.0M676.0 493.3l-0.2 1.4M699.0 492.5l-0.4 1.4M702.0 491.6l0.1 0.8M716.0 491.4l-0.8 1.1M594.7 495.7l-0.7 0.2M606.1 496.6l-0.1 0.1M620.7 495.1l0.0 0.3M630.7 497.8l-0.1 0.1M636.8 497.5l0.0 0.6M653.5 495.0l0.1 0.1M657.7 496.9l0.0 0.0M660.8 494.9l1.1 0.6M666.2 496.6l-0.6 1.0M669.3 496.8l0.5 1.2M673.7 497.3l0.4 0.6M697.6 495.9l-0.5 1.5M711.0 495.6l-0.5 0.5M719.0 496.4l0.0 0.2M601.4 500.6l0.0 0.0M612.5 500.2l0.1 0.1M633.2 498.9l-0.1 0.5M636.5 499.3l0.2 0.1M641.3 498.6l-0.4 0.2M652.7 499.0l-1.2 0.3M656.6 499.2l-0.6 0.9M659.7 498.9l-1.3 0.7M662.1 498.3l1.1 0.5M668.3 500.4l0.7 1.2M671.4 499.9l0.3 0.4M676.2 500.3l0.2 0.4M686.1 500.3l0.9 0.6M691.3 498.5l-1.6 0.3M699.8 499.4l1.0 0.7M711.3 500.9l-0.9 0.4M716.7 498.9l1.3 0.4M592.9 503.4l-0.6 0.7M613.5 503.2l-0.4 0.4M618.3 504.8l0.5 0.4M626.9 504.4l1.2 0.0M632.0 504.5l-0.3 0.5M635.5 503.9l-1.3 0.2M639.6 502.3l1.6 0.6M643.6 504.6l0.4 0.3M652.7 501.9l0.4 1.2M658.1 502.5l-0.7 0.7M663.2 503.4l-0.8 0.2M665.3 503.0l-1.0 0.8M680.5 504.0l0.7 0.4M685.2 501.6l-0.7 1.4M697.3 502.2l0.6 1.5M701.8 502.6l0.5 0.2M711.2 504.9l-0.0 1.1M713.6 503.1l0.0 0.0M723.4 503.8l-0.4 0.2M589.2 507.0l0.3 0.1M592.6 506.1l0.2 0.2M596.2 506.9l0.7 1.5M603.0 507.3l0.4 1.0M608.6 506.8l-0.5 0.2M620.2 507.9l-1.4 0.5M632.6 509.1l-1.5 0.3M642.3 508.7l1.5 0.3M647.6 508.1l-0.4 0.4M659.7 506.5l-0.4 0.3M664.0 508.4l0.5 1.5M673.5 508.3l0.4 1.4M681.0 508.9l-0.7 0.5M696.1 507.7l-1.3 0.7M704.0 508.9l-0.3 0.2M708.8 507.7l-0.9 0.6M713.8 507.3l-0.1 0.9M716.7 507.0l-0.2 0.4M721.2 509.1l-0.1 0.1M724.2 508.6l-0.0 0.0M592.2 509.8l0.7 0.4M601.7 511.3l-0.8 0.3M606.5 512.1l-1.5 0.1M626.3 509.8l-0.1 0.8M630.1 512.4l-0.2 0.8M647.1 511.3l0.3 0.3M652.4 512.7l-0.5 0.4M662.7 509.8l-1.1 0.7M664.9 512.5l-0.7 1.0M675.4 510.4l0.1 1.0M694.4 511.1l-0.6 0.5M700.1 510.0l-0.1 0.1M705.5 512.8l-1.2 0.1M719.3 512.0l0.3 0.9M723.9 512.5l1.0 0.7M729.1 509.7l-1.5 0.7M589.3 515.7l-0.4 0.2M594.5 516.4l0.5 1.1M600.6 513.4l0.6 1.1M612.7 514.7l-1.4 0.4M615.5 513.7l-0.9 0.7M623.2 513.9l-0.0 1.0M628.5 515.5l-1.1 0.4M632.2 516.7l-1.0 0.0M638.9 516.3l0.4 1.3M665.1 515.5l0.0 0.8M667.6 515.4l0.1 0.2M690.2 516.2l0.3 0.5M693.7 514.8l0.7 0.2M700.1 513.7l-1.1 0.6M706.7 513.9l-0.3 0.1M712.9 515.2l0.3 0.0M717.5 514.3l0.2 0.2M722.2 514.5l0.4 0.3M725.5 514.4l0.0 0.2M591.6 518.1l-0.5 0.1M598.9 517.8l1.0 0.2M618.7 517.6l0.3 0.3M627.6 518.6l-0.1 0.5M629.5 519.0l0.2 0.6M636.0 518.7l-1.0 0.0M645.7 518.1l-0.5 0.8M650.1 519.0l-0.6 1.1M651.7 519.5l0.9 0.0M671.2 517.8l0.1 0.5M686.8 518.0l0.4 0.3M693.5 519.8l0.1 0.4M701.5 517.4l0.8 1.4M707.1 517.7l-0.4 1.6M719.3 519.7l-0.2 0.8M724.7 519.6l0.1 0.1M590.6 521.8l-0.0 0.0M595.1 523.9l-1.0 0.9M598.4 523.8l0.2 0.4M608.0 523.6l0.3 0.7M623.0 523.6l0.8 0.6M632.7 523.7l-0.3 0.4M639.0 523.2l-0.1 0.2M659.0 521.9l0.8 0.9M668.7 523.5l-0.4 0.5M672.3 523.1l0.5 1.4M679.0 522.0l-0.5 0.7M687.9 521.6l-1.1 0.5M689.9 523.4l0.7 0.4M695.0 523.3l-0.1 0.0M701.1 523.4l-1.5 0.3M701.9 522.0l0.3 0.1M706.6 522.4l0.8 0.9M713.4 521.3l1.1 0.5M715.0 523.9l1.0 0.9" stroke="#34261a" stroke-opacity="0.88" stroke-width="2.5" stroke-linecap="round" fill="none"/></g></g><text x="676" y="501.5" font-size="31.5" fill="#fff" stroke="#fff" stroke-width="0.5" text-anchor="middle">20 µm</text><rect x="661.2" y="509.4" width="49" height="8.4" fill="#fff"/><path d="M167.05 3.2H726.15M167.05 54H726.15M2.85 106.4H726.15M46.95 211.15H726.15M46.95 315.9H726.15M46.95 420.65H726.15M2.85 525.4H726.15M3.9 105.35V526.45M48 105.35V526.45M168.1 2.15V526.45M725.1 2.15V526.45M307.35 54V526.45M446.6 54V526.45M585.85 54V526.45" stroke="#000" stroke-width="2.1" fill="none" stroke-linecap="square"/><text x="32.5" y="40.6" font-size="33">(a)</text><text x="446.6" y="39.4" font-size="31" text-anchor="middle">Ge thickness</text><text x="237.73" y="91.8" font-size="31" text-anchor="middle">12 nm</text><text x="376.98" y="91.8" font-size="31" text-anchor="middle">19 nm</text><text x="516.23" y="91.8" font-size="31" text-anchor="middle">46 nm</text><text x="655.48" y="91.8" font-size="31" text-anchor="middle">76 nm</text><text x="108" y="150.50" font-size="31" text-anchor="middle">900 °C</text><text x="108" y="188.80" font-size="31" text-anchor="middle">1 min</text><text x="108" y="255.25" font-size="31" text-anchor="middle">900 °C</text><text x="108" y="293.55" font-size="31" text-anchor="middle">5 min</text><text x="108" y="360.00" font-size="31" text-anchor="middle">900 °C</text><text x="108" y="398.30" font-size="31" text-anchor="middle">10 min</text><text x="108" y="464.75" font-size="31" text-anchor="middle">900 °C</text><text x="108" y="503.05" font-size="31" text-anchor="middle">30 min</text><text transform="translate(38,316.6) rotate(-90)" font-size="31.4" text-anchor="middle">Annealing condition</text><text x="764" y="40.6" font-size="33">(b)</text><rect x="849.3" y="287.3" width="151.1" height="135.9" fill="#f0f0f0"/><path d="M820.40 455.4v-11M820.40 74.4v11M865.66 455.4v-7M865.66 74.4v7M910.92 455.4v-11M910.92 74.4v11M956.19 455.4v-7M956.19 74.4v7M1001.45 455.4v-11M1001.45 74.4v11M1046.71 455.4v-7M1046.71 74.4v7M1091.97 455.4v-11M1091.97 74.4v11M1137.24 455.4v-7M1137.24 74.4v7M1182.50 455.4v-11M1182.50 74.4v11M820.4 455.40h11M1182.5 455.40h-11M820.4 417.30h7M1182.5 417.30h-7M820.4 379.20h11M1182.5 379.20h-11M820.4 341.10h7M1182.5 341.10h-7M820.4 303.00h11M1182.5 303.00h-11M820.4 264.90h7M1182.5 264.90h-7M820.4 226.80h11M1182.5 226.80h-11M820.4 188.70h7M1182.5 188.70h-7M820.4 150.60h11M1182.5 150.60h-11M820.4 112.50h7M1182.5 112.50h-7M820.4 74.40h11M1182.5 74.40h-11" stroke="#000" stroke-width="2.8" fill="none"/><rect x="820.4" y="74.4" width="362.10" height="381.00" stroke="#000" stroke-width="2.9" fill="none"/><text transform="translate(820.40,481.2) scale(0.98,1.07)" font-size="28.5" text-anchor="middle">0</text><text transform="translate(910.92,481.2) scale(0.98,1.07)" font-size="28.5" text-anchor="middle">20</text><text transform="translate(1001.45,481.2) scale(0.98,1.07)" font-size="28.5" text-anchor="middle">40</text><text transform="translate(1091.97,481.2) scale(0.98,1.07)" font-size="28.5" text-anchor="middle">60</text><text transform="translate(1182.50,481.2) scale(0.98,1.07)" font-size="28.5" text-anchor="middle">80</text><text transform="translate(814.6,465.90) scale(0.99,1.05)" font-size="29" text-anchor="end">0.5</text><text transform="translate(814.6,389.70) scale(0.99,1.05)" font-size="29" text-anchor="end">0.6</text><text transform="translate(814.6,313.50) scale(0.99,1.05)" font-size="29" text-anchor="end">0.7</text><text transform="translate(814.6,237.30) scale(0.99,1.05)" font-size="29" text-anchor="end">0.8</text><text transform="translate(814.6,161.10) scale(0.99,1.05)" font-size="29" text-anchor="end">0.9</text><text transform="translate(814.6,84.90) scale(0.99,1.05)" font-size="29" text-anchor="end">1.0</text><text x="1001.2" y="514.4" font-size="28" text-anchor="middle">Thickness (nm)</text><text transform="translate(762.6,264.9) rotate(-90)" font-size="28.5" text-anchor="middle">Ge coverage</text><path d="M874.72 85.07L906.40 75.92L1028.61 136.12L1164.39 228.32" stroke="#0000ff" stroke-width="1.7" stroke-dasharray="5 3" fill="none"/><circle cx="874.72" cy="85.07" r="7" fill="#fff" stroke="#0000ff" stroke-width="1.7"/><circle cx="906.40" cy="75.92" r="7" fill="#fff" stroke="#0000ff" stroke-width="1.7"/><circle cx="1028.61" cy="136.12" r="7" fill="#fff" stroke="#0000ff" stroke-width="1.7"/><circle cx="1164.39" cy="228.32" r="7" fill="#fff" stroke="#0000ff" stroke-width="1.7"/><path d="M874.72 89.64L906.40 74.78L1028.61 181.08L1164.39 130.03" stroke="#008000" stroke-width="1.7" stroke-dasharray="5 3" fill="none"/><path d="M874.72 82.64L882.01 96.64H867.42Z" fill="#fff" stroke="#008000" stroke-width="1.7" stroke-linejoin="miter"/><path d="M906.40 67.78L913.70 81.78H899.10Z" fill="#fff" stroke="#008000" stroke-width="1.7" stroke-linejoin="miter"/><path d="M1028.61 174.08L1035.91 188.08H1021.31Z" fill="#fff" stroke="#008000" stroke-width="1.7" stroke-linejoin="miter"/><path d="M1164.39 123.03L1171.69 137.03H1157.10Z" fill="#fff" stroke="#008000" stroke-width="1.7" stroke-linejoin="miter"/><path d="M874.72 133.07L906.40 77.45L1028.61 206.23L1164.39 277.09" stroke="#ffa500" stroke-width="1.7" stroke-dasharray="5 3" fill="none"/><rect x="868.01" y="126.37" width="13.4" height="13.4" fill="#fff" stroke="#ffa500" stroke-width="1.7"/><rect x="899.70" y="70.75" width="13.4" height="13.4" fill="#fff" stroke="#ffa500" stroke-width="1.7"/><rect x="1021.91" y="199.53" width="13.4" height="13.4" fill="#fff" stroke="#ffa500" stroke-width="1.7"/><rect x="1157.69" y="270.39" width="13.4" height="13.4" fill="#fff" stroke="#ffa500" stroke-width="1.7"/><path d="M874.72 177.80L906.40 134.22L1028.61 216.89L1164.39 320.53" stroke="#ff0000" stroke-width="1.7" stroke-dasharray="5 3" fill="none"/><path d="M874.72 184.80L882.01 170.80H867.42Z" fill="#fff" stroke="#ff0000" stroke-width="1.7" stroke-linejoin="miter"/><path d="M906.40 141.22L913.70 127.22H899.10Z" fill="#fff" stroke="#ff0000" stroke-width="1.7" stroke-linejoin="miter"/><path d="M1028.61 223.89L1035.91 209.89H1021.31Z" fill="#fff" stroke="#ff0000" stroke-width="1.7" stroke-linejoin="miter"/><path d="M1164.39 327.53L1171.69 313.53H1157.10Z" fill="#fff" stroke="#ff0000" stroke-width="1.7" stroke-linejoin="miter"/><path d="M859 305.2H905" stroke="#0000ff" stroke-width="1.7" stroke-dasharray="5 3" fill="none"/><circle cx="882.00" cy="305.20" r="7" fill="#fff" stroke="#0000ff" stroke-width="1.7"/><text x="925.3" y="313.9" font-size="23">1 min</text><path d="M859 337.6H905" stroke="#008000" stroke-width="1.7" stroke-dasharray="5 3" fill="none"/><path d="M882.00 330.60L889.30 344.60H874.70Z" fill="#fff" stroke="#008000" stroke-width="1.7" stroke-linejoin="miter"/><text x="925.3" y="346.3" font-size="23">5 min</text><path d="M859 370.0H905" stroke="#ffa500" stroke-width="1.7" stroke-dasharray="5 3" fill="none"/><rect x="875.30" y="363.30" width="13.4" height="13.4" fill="#fff" stroke="#ffa500" stroke-width="1.7"/><text x="925.3" y="378.7" font-size="23">10 min</text><path d="M859 402.4H905" stroke="#ff0000" stroke-width="1.7" stroke-dasharray="5 3" fill="none"/><path d="M882.00 409.40L889.30 395.40H874.70Z" fill="#fff" stroke="#ff0000" stroke-width="1.7" stroke-linejoin="miter"/><text x="925.3" y="411.1" font-size="23">30 min</text>
</svg></body></html>
